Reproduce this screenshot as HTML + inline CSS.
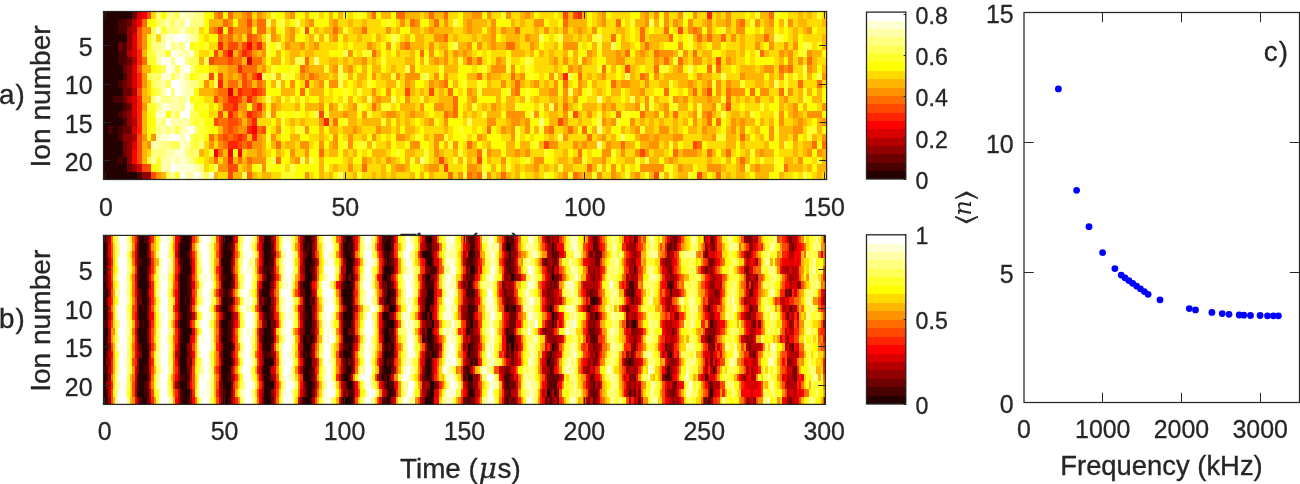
<!DOCTYPE html><html><head><meta charset="utf-8"><style>html,body{margin:0;padding:0;background:#fff;width:1300px;height:484px;overflow:hidden}
.tk{font-family:"Liberation Sans",Arial,sans-serif;font-size:24.9px;fill:#262626;stroke:#262626;stroke-width:0.3px}
.tkc{font-family:"Liberation Sans",Arial,sans-serif;font-size:23.2px;fill:#262626;stroke:#262626;stroke-width:0.3px}
.lab{font-family:"Liberation Sans",Arial,sans-serif;font-size:27.8px;fill:#262626;stroke:#262626;stroke-width:0.35px}
.mu{font-family:"DejaVu Math TeX Gyre","Liberation Serif",serif;font-style:normal}
.mth{font-family:"DejaVu Math TeX Gyre","Liberation Serif",serif;font-size:27.3px;fill:#262626}
</style></head><body><svg width="1300" height="484" viewBox="0 0 1300 484" style="position:absolute;left:0;top:0"><rect width="1300" height="484" fill="#fff"/><text transform="translate(460.4,253.4)" class="lab" text-anchor="middle">Time (<tspan class="mu">𝜇</tspan>s)</text><svg x="103.5" y="11.5" width="723.10" height="168.00" viewBox="0 0 151 22" preserveAspectRatio="none" shape-rendering="crispEdges"><path fill="#240000" d="M0 0h6v1h-6zM0 1h3v1h-3zM0 2h3v1h-3zM0 3h5v1h-5zM0 4h3v1h-3zM0 5h3v1h-3zM0 6h3v1h-3zM0 7h4v1h-4zM0 8h4v1h-4zM0 9h3v1h-3zM0 10h4v1h-4zM0 11h2v1h-2zM0 12h4v1h-4zM0 13h3v1h-3zM0 14h4v1h-4zM0 15h1v1h-1zM2 15h1v1h-1zM0 16h3v1h-3zM0 17h4v1h-4zM0 18h4v1h-4zM0 19h3v1h-3zM4 19h1v1h-1zM0 20h5v1h-5zM0 21h7v1h-7z"/><path fill="#490000" d="M3 1h2v1h-2zM3 2h2v1h-2zM4 4h1v1h-1zM3 5h2v1h-2zM3 6h2v1h-2zM4 8h1v1h-1zM3 9h1v1h-1zM2 11h2v1h-2zM4 12h1v1h-1zM3 13h1v1h-1zM4 14h1v1h-1zM1 15h1v1h-1zM3 15h1v1h-1zM3 16h1v1h-1zM3 19h1v1h-1zM7 21h1v1h-1z"/><path fill="#6d0000" d="M6 0h1v1h-1zM5 1h1v1h-1zM3 4h1v1h-1zM5 6h1v1h-1zM4 7h1v1h-1zM4 9h1v1h-1zM4 10h2v1h-2zM4 11h1v1h-1zM5 12h1v1h-1zM4 13h1v1h-1zM4 15h2v1h-2zM4 17h1v1h-1zM4 18h1v1h-1zM5 20h1v1h-1z"/><path fill="#920000" d="M5 2h1v1h-1zM5 3h1v1h-1zM5 4h1v1h-1zM5 7h1v1h-1zM5 8h1v1h-1zM5 9h1v1h-1zM5 13h1v1h-1zM5 14h1v1h-1zM4 16h2v1h-2zM5 17h1v1h-1zM5 18h1v1h-1zM5 19h1v1h-1zM6 20h1v1h-1zM8 21h2v1h-2z"/><path fill="#b60000" d="M6 1h1v1h-1zM6 2h1v1h-1zM5 5h1v1h-1zM6 6h1v1h-1zM6 10h1v1h-1zM5 11h1v1h-1zM6 14h1v1h-1zM6 16h1v1h-1z"/><path fill="#db0000" d="M7 0h1v1h-1zM6 3h1v1h-1zM6 4h1v1h-1zM6 5h1v1h-1zM30 6h1v1h-1zM6 7h1v1h-1zM6 8h1v1h-1zM6 9h1v1h-1zM26 10h1v1h-1zM6 11h1v1h-1zM6 12h1v1h-1zM6 13h1v1h-1zM6 15h1v1h-1zM6 17h1v1h-1zM7 20h1v1h-1z"/><path fill="#ff0000" d="M8 0h1v1h-1zM7 1h1v1h-1zM30 4h1v1h-1zM26 5h1v1h-1zM32 8h1v1h-1zM31 15h1v1h-1zM6 18h1v1h-1zM23 18h1v1h-1zM26 18h1v1h-1zM28 18h1v1h-1zM6 19h1v1h-1z"/><path fill="#ff2400" d="M99 0h1v1h-1zM126 0h1v1h-1zM24 2h1v1h-1zM24 4h1v1h-1zM32 4h1v1h-1zM7 5h1v1h-1zM29 5h1v1h-1zM7 6h1v1h-1zM28 7h1v1h-1zM7 8h1v1h-1zM96 8h1v1h-1zM7 9h1v1h-1zM24 9h1v1h-1zM28 10h1v1h-1zM31 10h1v1h-1zM7 11h1v1h-1zM26 11h2v1h-2zM30 11h1v1h-1zM7 12h1v1h-1zM27 12h1v1h-1zM32 12h1v1h-1zM7 13h1v1h-1zM26 13h1v1h-1zM30 13h1v1h-1zM7 14h1v1h-1zM31 14h1v1h-1zM46 14h1v1h-1zM7 15h1v1h-1zM30 15h1v1h-1zM28 16h1v1h-1zM31 16h1v1h-1zM26 17h2v1h-2zM26 19h1v1h-1z"/><path fill="#ff4900" d="M9 0h1v1h-1zM96 0h1v1h-1zM98 0h1v1h-1zM30 1h1v1h-1zM7 2h1v1h-1zM26 2h1v1h-1zM42 2h1v1h-1zM120 2h1v1h-1zM7 3h1v1h-1zM30 3h1v1h-1zM7 4h1v1h-1zM26 4h2v1h-2zM29 4h1v1h-1zM23 5h1v1h-1zM25 5h1v1h-1zM30 5h1v1h-1zM22 6h1v1h-1zM26 6h1v1h-1zM128 6h1v1h-1zM7 7h1v1h-1zM109 7h1v1h-1zM22 8h1v1h-1zM24 8h1v1h-1zM29 8h1v1h-1zM31 8h1v1h-1zM29 9h1v1h-1zM42 9h1v1h-1zM7 10h1v1h-1zM29 10h2v1h-2zM32 10h1v1h-1zM63 10h1v1h-1zM68 10h1v1h-1zM126 10h1v1h-1zM23 11h1v1h-1zM28 11h1v1h-1zM25 12h2v1h-2zM130 12h1v1h-1zM24 13h1v1h-1zM31 13h1v1h-1zM45 13h1v1h-1zM98 13h1v1h-1zM23 14h1v1h-1zM26 14h2v1h-2zM95 14h1v1h-1zM26 15h1v1h-1zM33 15h1v1h-1zM7 16h1v1h-1zM25 16h1v1h-1zM27 16h1v1h-1zM29 16h1v1h-1zM7 17h1v1h-1zM28 17h1v1h-1zM30 17h1v1h-1zM92 17h1v1h-1zM123 17h1v1h-1zM7 18h1v1h-1zM112 18h1v1h-1zM7 19h1v1h-1zM70 19h1v1h-1zM78 19h1v1h-1zM8 20h2v1h-2zM26 20h2v1h-2zM71 20h1v1h-1zM10 21h1v1h-1zM26 21h1v1h-1zM115 21h1v1h-1zM124 21h1v1h-1z"/><path fill="#ff6d00" d="M24 0h1v1h-1zM26 0h1v1h-1zM30 0h1v1h-1zM56 0h1v1h-1zM61 0h2v1h-2zM68 0h1v1h-1zM71 0h1v1h-1zM139 0h1v1h-1zM8 1h1v1h-1zM25 1h1v1h-1zM32 1h2v1h-2zM64 1h1v1h-1zM69 1h1v1h-1zM96 1h1v1h-1zM107 1h1v1h-1zM133 1h1v1h-1zM23 2h1v1h-1zM30 2h1v1h-1zM32 2h2v1h-2zM48 2h1v1h-1zM54 2h1v1h-1zM86 2h1v1h-1zM112 2h1v1h-1zM117 2h1v1h-1zM123 2h1v1h-1zM24 3h1v1h-1zM26 3h1v1h-1zM31 3h1v1h-1zM71 3h1v1h-1zM106 3h1v1h-1zM112 3h1v1h-1zM118 3h1v1h-1zM124 3h1v1h-1zM126 3h1v1h-1zM129 3h1v1h-1zM138 3h1v1h-1zM31 4h1v1h-1zM63 4h1v1h-1zM84 4h2v1h-2zM113 4h1v1h-1zM28 5h1v1h-1zM56 5h1v1h-1zM66 5h1v1h-1zM109 5h1v1h-1zM115 5h1v1h-1zM123 5h1v1h-1zM137 5h1v1h-1zM8 6h1v1h-1zM23 6h3v1h-3zM27 6h2v1h-2zM31 6h2v1h-2zM42 6h1v1h-1zM76 6h1v1h-1zM78 6h1v1h-1zM117 6h1v1h-1zM120 6h1v1h-1zM147 6h1v1h-1zM29 7h3v1h-3zM41 7h1v1h-1zM104 7h1v1h-1zM115 7h1v1h-1zM126 7h1v1h-1zM128 7h1v1h-1zM141 7h1v1h-1zM143 7h1v1h-1zM43 8h1v1h-1zM78 8h1v1h-1zM85 8h1v1h-1zM99 8h1v1h-1zM112 8h1v1h-1zM26 9h2v1h-2zM30 9h1v1h-1zM32 9h1v1h-1zM71 9h1v1h-1zM86 9h1v1h-1zM96 9h1v1h-1zM106 9h1v1h-1zM145 9h1v1h-1zM149 9h1v1h-1zM24 10h2v1h-2zM33 10h1v1h-1zM41 10h1v1h-1zM72 10h1v1h-1zM86 10h1v1h-1zM117 10h1v1h-1zM123 10h1v1h-1zM130 10h1v1h-1zM135 10h1v1h-1zM141 10h1v1h-1zM25 11h1v1h-1zM31 11h1v1h-1zM73 11h1v1h-1zM130 11h1v1h-1zM31 12h1v1h-1zM56 12h1v1h-1zM73 12h1v1h-1zM96 12h1v1h-1zM27 13h1v1h-1zM32 13h1v1h-1zM71 13h1v1h-1zM73 13h1v1h-1zM107 13h1v1h-1zM112 13h1v1h-1zM119 13h1v1h-1zM126 13h1v1h-1zM24 14h2v1h-2zM28 14h1v1h-1zM30 14h1v1h-1zM48 14h1v1h-1zM126 14h1v1h-1zM128 14h1v1h-1zM25 15h1v1h-1zM27 15h1v1h-1zM32 15h1v1h-1zM80 15h1v1h-1zM93 15h1v1h-1zM97 15h1v1h-1zM100 15h1v1h-1zM22 16h1v1h-1zM24 16h1v1h-1zM26 16h1v1h-1zM101 16h1v1h-1zM133 16h1v1h-1zM25 17h1v1h-1zM29 17h1v1h-1zM36 17h1v1h-1zM76 17h1v1h-1zM108 17h1v1h-1zM124 17h1v1h-1zM148 17h1v1h-1zM150 17h1v1h-1zM24 18h1v1h-1zM45 18h1v1h-1zM78 18h1v1h-1zM99 18h1v1h-1zM119 18h1v1h-1zM126 18h1v1h-1zM130 18h1v1h-1zM23 19h1v1h-1zM28 19h1v1h-1zM30 19h1v1h-1zM36 19h1v1h-1zM133 19h1v1h-1zM54 20h1v1h-1zM101 20h1v1h-1zM142 20h1v1h-1zM30 21h1v1h-1zM72 21h1v1h-1zM76 21h1v1h-1zM78 21h1v1h-1zM83 21h1v1h-1zM98 21h1v1h-1zM128 21h1v1h-1z"/><path fill="#ff9200" d="M23 0h1v1h-1zM29 0h1v1h-1zM32 0h1v1h-1zM39 0h1v1h-1zM77 0h2v1h-2zM80 0h1v1h-1zM84 0h1v1h-1zM88 0h1v1h-1zM104 0h1v1h-1zM113 0h1v1h-1zM115 0h1v1h-1zM117 0h1v1h-1zM120 0h1v1h-1zM123 0h1v1h-1zM130 0h1v1h-1zM26 1h1v1h-1zM28 1h2v1h-2zM43 1h1v1h-1zM48 1h1v1h-1zM62 1h1v1h-1zM65 1h1v1h-1zM71 1h1v1h-1zM76 1h1v1h-1zM81 1h1v1h-1zM90 1h2v1h-2zM104 1h1v1h-1zM113 1h1v1h-1zM117 1h1v1h-1zM119 1h1v1h-1zM122 1h1v1h-1zM126 1h1v1h-1zM130 1h1v1h-1zM132 1h1v1h-1zM136 1h1v1h-1zM139 1h1v1h-1zM143 1h1v1h-1zM8 2h2v1h-2zM22 2h1v1h-1zM27 2h3v1h-3zM35 2h1v1h-1zM39 2h1v1h-1zM59 2h1v1h-1zM68 2h1v1h-1zM76 2h1v1h-1zM81 2h1v1h-1zM83 2h1v1h-1zM92 2h1v1h-1zM96 2h1v1h-1zM99 2h1v1h-1zM102 2h1v1h-1zM122 2h1v1h-1zM124 2h1v1h-1zM126 2h1v1h-1zM132 2h2v1h-2zM147 2h1v1h-1zM8 3h1v1h-1zM25 3h1v1h-1zM28 3h1v1h-1zM32 3h1v1h-1zM35 3h1v1h-1zM39 3h1v1h-1zM48 3h1v1h-1zM69 3h2v1h-2zM81 3h1v1h-1zM88 3h1v1h-1zM131 3h1v1h-1zM8 4h1v1h-1zM25 4h1v1h-1zM28 4h1v1h-1zM33 4h1v1h-1zM38 4h1v1h-1zM41 4h1v1h-1zM44 4h1v1h-1zM55 4h1v1h-1zM59 4h1v1h-1zM62 4h1v1h-1zM68 4h1v1h-1zM76 4h1v1h-1zM78 4h1v1h-1zM81 4h1v1h-1zM89 4h1v1h-1zM96 4h3v1h-3zM120 4h1v1h-1zM136 4h1v1h-1zM139 4h1v1h-1zM142 4h1v1h-1zM144 4h1v1h-1zM31 5h1v1h-1zM33 5h1v1h-1zM51 5h1v1h-1zM68 5h1v1h-1zM71 5h1v1h-1zM73 5h1v1h-1zM75 5h1v1h-1zM101 5h1v1h-1zM107 5h1v1h-1zM112 5h1v1h-1zM116 5h3v1h-3zM121 5h1v1h-1zM141 5h1v1h-1zM143 5h1v1h-1zM147 5h1v1h-1zM54 6h1v1h-1zM69 6h1v1h-1zM71 6h1v1h-1zM82 6h1v1h-1zM94 6h1v1h-1zM96 6h1v1h-1zM100 6h1v1h-1zM107 6h2v1h-2zM115 6h1v1h-1zM123 6h2v1h-2zM130 6h1v1h-1zM143 6h1v1h-1zM145 6h1v1h-1zM26 7h2v1h-2zM33 7h1v1h-1zM42 7h1v1h-1zM48 7h1v1h-1zM51 7h1v1h-1zM64 7h1v1h-1zM81 7h3v1h-3zM85 7h1v1h-1zM97 7h1v1h-1zM99 7h1v1h-1zM120 7h1v1h-1zM138 7h2v1h-2zM142 7h1v1h-1zM147 7h1v1h-1zM8 8h1v1h-1zM26 8h1v1h-1zM28 8h1v1h-1zM30 8h1v1h-1zM41 8h1v1h-1zM44 8h1v1h-1zM56 8h1v1h-1zM61 8h1v1h-1zM63 8h3v1h-3zM69 8h1v1h-1zM71 8h1v1h-1zM80 8h1v1h-1zM87 8h1v1h-1zM93 8h1v1h-1zM104 8h1v1h-1zM113 8h1v1h-1zM115 8h1v1h-1zM124 8h1v1h-1zM133 8h1v1h-1zM141 8h1v1h-1zM150 8h1v1h-1zM8 9h1v1h-1zM21 9h1v1h-1zM33 9h1v1h-1zM39 9h1v1h-1zM45 9h1v1h-1zM47 9h2v1h-2zM63 9h1v1h-1zM68 9h1v1h-1zM70 9h1v1h-1zM83 9h1v1h-1zM90 9h1v1h-1zM94 9h1v1h-1zM99 9h1v1h-1zM108 9h2v1h-2zM113 9h1v1h-1zM122 9h1v1h-1zM126 9h1v1h-1zM128 9h1v1h-1zM130 9h1v1h-1zM23 10h1v1h-1zM27 10h1v1h-1zM56 10h1v1h-1zM59 10h1v1h-1zM76 10h1v1h-1zM85 10h1v1h-1zM93 10h2v1h-2zM96 10h1v1h-1zM99 10h1v1h-1zM112 10h1v1h-1zM125 10h1v1h-1zM128 10h1v1h-1zM131 10h3v1h-3zM137 10h2v1h-2zM143 10h1v1h-1zM24 11h1v1h-1zM29 11h1v1h-1zM57 11h1v1h-1zM63 11h1v1h-1zM77 11h1v1h-1zM96 11h1v1h-1zM98 11h1v1h-1zM113 11h1v1h-1zM119 11h1v1h-1zM121 11h1v1h-1zM126 11h1v1h-1zM136 11h1v1h-1zM142 11h1v1h-1zM8 12h1v1h-1zM28 12h2v1h-2zM33 12h1v1h-1zM35 12h1v1h-1zM45 12h1v1h-1zM47 12h1v1h-1zM52 12h1v1h-1zM66 12h1v1h-1zM69 12h2v1h-2zM81 12h1v1h-1zM94 12h1v1h-1zM104 12h1v1h-1zM106 12h1v1h-1zM111 12h1v1h-1zM113 12h1v1h-1zM117 12h1v1h-1zM127 12h1v1h-1zM144 12h1v1h-1zM150 12h1v1h-1zM29 13h1v1h-1zM35 13h1v1h-1zM50 13h1v1h-1zM54 13h1v1h-1zM59 13h2v1h-2zM64 13h1v1h-1zM72 13h1v1h-1zM84 13h4v1h-4zM90 13h1v1h-1zM96 13h1v1h-1zM101 13h1v1h-1zM115 13h1v1h-1zM117 13h1v1h-1zM123 13h1v1h-1zM125 13h1v1h-1zM141 13h1v1h-1zM144 13h1v1h-1zM147 13h3v1h-3zM45 14h1v1h-1zM68 14h1v1h-1zM71 14h1v1h-1zM80 14h2v1h-2zM85 14h2v1h-2zM88 14h1v1h-1zM96 14h1v1h-1zM104 14h1v1h-1zM106 14h1v1h-1zM110 14h1v1h-1zM123 14h1v1h-1zM131 14h1v1h-1zM133 14h1v1h-1zM141 14h1v1h-1zM145 14h1v1h-1zM150 14h1v1h-1zM28 15h2v1h-2zM36 15h1v1h-1zM42 15h1v1h-1zM52 15h1v1h-1zM57 15h1v1h-1zM83 15h1v1h-1zM85 15h1v1h-1zM88 15h1v1h-1zM92 15h1v1h-1zM111 15h1v1h-1zM116 15h2v1h-2zM125 15h1v1h-1zM131 15h1v1h-1zM133 15h1v1h-1zM139 15h1v1h-1zM144 15h2v1h-2zM8 16h1v1h-1zM10 16h1v1h-1zM32 16h1v1h-1zM35 16h1v1h-1zM48 16h1v1h-1zM51 16h1v1h-1zM56 16h1v1h-1zM61 16h2v1h-2zM69 16h2v1h-2zM78 16h1v1h-1zM85 16h1v1h-1zM96 16h1v1h-1zM104 16h1v1h-1zM112 16h2v1h-2zM115 16h1v1h-1zM119 16h2v1h-2zM127 16h1v1h-1zM139 16h1v1h-1zM144 16h1v1h-1zM150 16h1v1h-1zM9 17h1v1h-1zM22 17h1v1h-1zM24 17h1v1h-1zM31 17h2v1h-2zM41 17h2v1h-2zM45 17h1v1h-1zM48 17h1v1h-1zM51 17h1v1h-1zM64 17h2v1h-2zM69 17h1v1h-1zM73 17h1v1h-1zM93 17h2v1h-2zM98 17h1v1h-1zM100 17h1v1h-1zM105 17h1v1h-1zM114 17h2v1h-2zM32 18h1v1h-1zM39 18h1v1h-1zM42 18h1v1h-1zM69 18h1v1h-1zM80 18h1v1h-1zM86 18h1v1h-1zM88 18h1v1h-1zM104 18h2v1h-2zM108 18h1v1h-1zM111 18h1v1h-1zM113 18h1v1h-1zM121 18h3v1h-3zM137 18h1v1h-1zM147 18h1v1h-1zM149 18h1v1h-1zM25 19h1v1h-1zM31 19h3v1h-3zM40 19h1v1h-1zM54 19h1v1h-1zM59 19h1v1h-1zM83 19h1v1h-1zM90 19h2v1h-2zM98 19h2v1h-2zM104 19h1v1h-1zM118 19h1v1h-1zM145 19h1v1h-1zM24 20h2v1h-2zM30 20h1v1h-1zM33 20h1v1h-1zM51 20h1v1h-1zM61 20h2v1h-2zM68 20h2v1h-2zM76 20h2v1h-2zM90 20h1v1h-1zM106 20h1v1h-1zM112 20h5v1h-5zM120 20h1v1h-1zM126 20h3v1h-3zM133 20h1v1h-1zM136 20h1v1h-1zM11 21h1v1h-1zM42 21h1v1h-1zM74 21h1v1h-1zM77 21h1v1h-1zM80 21h1v1h-1zM96 21h1v1h-1zM99 21h1v1h-1zM103 21h1v1h-1zM106 21h1v1h-1zM111 21h1v1h-1z"/><path fill="#ffb600" d="M27 0h2v1h-2zM33 0h1v1h-1zM38 0h1v1h-1zM42 0h1v1h-1zM47 0h1v1h-1zM49 0h1v1h-1zM55 0h1v1h-1zM58 0h2v1h-2zM63 0h3v1h-3zM67 0h1v1h-1zM69 0h2v1h-2zM75 0h2v1h-2zM87 0h1v1h-1zM89 0h1v1h-1zM97 0h1v1h-1zM100 0h1v1h-1zM103 0h1v1h-1zM112 0h1v1h-1zM128 0h1v1h-1zM137 0h2v1h-2zM145 0h1v1h-1zM147 0h1v1h-1zM22 1h3v1h-3zM31 1h1v1h-1zM35 1h1v1h-1zM42 1h1v1h-1zM47 1h1v1h-1zM51 1h1v1h-1zM54 1h1v1h-1zM68 1h1v1h-1zM75 1h1v1h-1zM77 1h3v1h-3zM85 1h1v1h-1zM87 1h1v1h-1zM97 1h4v1h-4zM103 1h1v1h-1zM111 1h2v1h-2zM115 1h1v1h-1zM120 1h1v1h-1zM125 1h1v1h-1zM128 1h2v1h-2zM138 1h1v1h-1zM141 1h1v1h-1zM145 1h2v1h-2zM150 1h1v1h-1zM38 2h1v1h-1zM44 2h1v1h-1zM46 2h2v1h-2zM49 2h1v1h-1zM52 2h2v1h-2zM61 2h1v1h-1zM64 2h2v1h-2zM67 2h1v1h-1zM69 2h4v1h-4zM75 2h1v1h-1zM77 2h2v1h-2zM80 2h1v1h-1zM84 2h2v1h-2zM90 2h1v1h-1zM94 2h1v1h-1zM98 2h1v1h-1zM100 2h1v1h-1zM107 2h2v1h-2zM130 2h1v1h-1zM138 2h2v1h-2zM144 2h1v1h-1zM146 2h1v1h-1zM27 3h1v1h-1zM36 3h1v1h-1zM38 3h1v1h-1zM43 3h1v1h-1zM45 3h1v1h-1zM47 3h1v1h-1zM50 3h1v1h-1zM53 3h1v1h-1zM57 3h1v1h-1zM63 3h1v1h-1zM65 3h2v1h-2zM73 3h1v1h-1zM77 3h1v1h-1zM79 3h2v1h-2zM84 3h3v1h-3zM89 3h2v1h-2zM96 3h2v1h-2zM99 3h1v1h-1zM101 3h1v1h-1zM108 3h1v1h-1zM114 3h4v1h-4zM123 3h1v1h-1zM125 3h1v1h-1zM127 3h2v1h-2zM133 3h1v1h-1zM136 3h2v1h-2zM139 3h1v1h-1zM144 3h1v1h-1zM150 3h1v1h-1zM39 4h2v1h-2zM43 4h1v1h-1zM56 4h1v1h-1zM64 4h3v1h-3zM70 4h2v1h-2zM74 4h2v1h-2zM80 4h1v1h-1zM82 4h2v1h-2zM86 4h1v1h-1zM90 4h1v1h-1zM94 4h1v1h-1zM102 4h1v1h-1zM104 4h2v1h-2zM108 4h2v1h-2zM112 4h1v1h-1zM114 4h2v1h-2zM124 4h1v1h-1zM127 4h2v1h-2zM133 4h1v1h-1zM150 4h1v1h-1zM8 5h1v1h-1zM24 5h1v1h-1zM27 5h1v1h-1zM32 5h1v1h-1zM36 5h1v1h-1zM39 5h2v1h-2zM42 5h2v1h-2zM57 5h1v1h-1zM61 5h1v1h-1zM64 5h1v1h-1zM74 5h1v1h-1zM76 5h1v1h-1zM85 5h3v1h-3zM89 5h1v1h-1zM91 5h1v1h-1zM93 5h1v1h-1zM96 5h1v1h-1zM98 5h1v1h-1zM102 5h1v1h-1zM104 5h3v1h-3zM108 5h1v1h-1zM111 5h1v1h-1zM113 5h1v1h-1zM119 5h1v1h-1zM125 5h2v1h-2zM130 5h2v1h-2zM133 5h1v1h-1zM138 5h1v1h-1zM142 5h1v1h-1zM148 5h2v1h-2zM20 6h1v1h-1zM29 6h1v1h-1zM33 6h1v1h-1zM35 6h2v1h-2zM39 6h1v1h-1zM47 6h2v1h-2zM50 6h1v1h-1zM52 6h2v1h-2zM56 6h1v1h-1zM63 6h2v1h-2zM66 6h1v1h-1zM68 6h1v1h-1zM70 6h1v1h-1zM73 6h1v1h-1zM75 6h1v1h-1zM77 6h1v1h-1zM83 6h1v1h-1zM93 6h1v1h-1zM98 6h1v1h-1zM101 6h1v1h-1zM105 6h2v1h-2zM111 6h2v1h-2zM116 6h1v1h-1zM118 6h1v1h-1zM121 6h1v1h-1zM126 6h1v1h-1zM131 6h1v1h-1zM141 6h1v1h-1zM148 6h1v1h-1zM8 7h2v1h-2zM24 7h2v1h-2zM32 7h1v1h-1zM43 7h3v1h-3zM47 7h1v1h-1zM50 7h1v1h-1zM54 7h1v1h-1zM56 7h2v1h-2zM60 7h1v1h-1zM71 7h3v1h-3zM94 7h1v1h-1zM98 7h1v1h-1zM106 7h1v1h-1zM110 7h1v1h-1zM119 7h1v1h-1zM133 7h3v1h-3zM137 7h1v1h-1zM148 7h1v1h-1zM150 7h1v1h-1zM25 8h1v1h-1zM27 8h1v1h-1zM36 8h1v1h-1zM42 8h1v1h-1zM45 8h2v1h-2zM48 8h1v1h-1zM51 8h1v1h-1zM53 8h2v1h-2zM58 8h2v1h-2zM76 8h2v1h-2zM81 8h2v1h-2zM86 8h1v1h-1zM95 8h1v1h-1zM101 8h1v1h-1zM103 8h1v1h-1zM110 8h1v1h-1zM117 8h5v1h-5zM125 8h2v1h-2zM134 8h4v1h-4zM139 8h1v1h-1zM147 8h1v1h-1zM25 9h1v1h-1zM28 9h1v1h-1zM31 9h1v1h-1zM35 9h1v1h-1zM37 9h1v1h-1zM44 9h1v1h-1zM53 9h1v1h-1zM59 9h2v1h-2zM64 9h1v1h-1zM69 9h1v1h-1zM73 9h1v1h-1zM80 9h1v1h-1zM85 9h1v1h-1zM87 9h1v1h-1zM89 9h1v1h-1zM92 9h1v1h-1zM100 9h1v1h-1zM102 9h1v1h-1zM107 9h1v1h-1zM110 9h2v1h-2zM116 9h2v1h-2zM120 9h2v1h-2zM123 9h1v1h-1zM125 9h1v1h-1zM131 9h2v1h-2zM136 9h2v1h-2zM139 9h1v1h-1zM8 10h1v1h-1zM20 10h3v1h-3zM37 10h3v1h-3zM43 10h3v1h-3zM64 10h1v1h-1zM66 10h1v1h-1zM70 10h1v1h-1zM77 10h1v1h-1zM79 10h4v1h-4zM91 10h2v1h-2zM98 10h1v1h-1zM103 10h1v1h-1zM106 10h2v1h-2zM110 10h2v1h-2zM122 10h1v1h-1zM145 10h1v1h-1zM147 10h1v1h-1zM149 10h1v1h-1zM8 11h2v1h-2zM32 11h1v1h-1zM36 11h1v1h-1zM45 11h1v1h-1zM51 11h1v1h-1zM54 11h1v1h-1zM56 11h1v1h-1zM58 11h2v1h-2zM67 11h1v1h-1zM70 11h3v1h-3zM76 11h1v1h-1zM82 11h1v1h-1zM84 11h2v1h-2zM87 11h1v1h-1zM90 11h1v1h-1zM93 11h2v1h-2zM105 11h1v1h-1zM111 11h1v1h-1zM115 11h1v1h-1zM120 11h1v1h-1zM123 11h3v1h-3zM127 11h2v1h-2zM132 11h1v1h-1zM134 11h1v1h-1zM139 11h1v1h-1zM141 11h1v1h-1zM145 11h1v1h-1zM148 11h2v1h-2zM24 12h1v1h-1zM36 12h1v1h-1zM40 12h1v1h-1zM42 12h3v1h-3zM48 12h1v1h-1zM51 12h1v1h-1zM57 12h1v1h-1zM62 12h3v1h-3zM71 12h2v1h-2zM76 12h1v1h-1zM79 12h1v1h-1zM82 12h1v1h-1zM84 12h2v1h-2zM92 12h1v1h-1zM97 12h1v1h-1zM100 12h3v1h-3zM105 12h1v1h-1zM109 12h2v1h-2zM116 12h1v1h-1zM120 12h2v1h-2zM123 12h1v1h-1zM125 12h2v1h-2zM129 12h1v1h-1zM141 12h1v1h-1zM143 12h1v1h-1zM146 12h1v1h-1zM8 13h1v1h-1zM28 13h1v1h-1zM33 13h1v1h-1zM47 13h3v1h-3zM51 13h2v1h-2zM58 13h1v1h-1zM61 13h1v1h-1zM63 13h1v1h-1zM65 13h2v1h-2zM75 13h1v1h-1zM77 13h1v1h-1zM80 13h3v1h-3zM93 13h2v1h-2zM99 13h1v1h-1zM104 13h1v1h-1zM113 13h2v1h-2zM122 13h1v1h-1zM127 13h1v1h-1zM131 13h2v1h-2zM134 13h1v1h-1zM143 13h1v1h-1zM145 13h1v1h-1zM8 14h1v1h-1zM29 14h1v1h-1zM36 14h1v1h-1zM39 14h1v1h-1zM41 14h1v1h-1zM51 14h2v1h-2zM54 14h4v1h-4zM59 14h1v1h-1zM61 14h1v1h-1zM63 14h1v1h-1zM67 14h1v1h-1zM84 14h1v1h-1zM87 14h1v1h-1zM93 14h2v1h-2zM99 14h1v1h-1zM105 14h1v1h-1zM112 14h1v1h-1zM114 14h1v1h-1zM116 14h1v1h-1zM119 14h1v1h-1zM121 14h1v1h-1zM125 14h1v1h-1zM132 14h1v1h-1zM134 14h2v1h-2zM137 14h1v1h-1zM139 14h1v1h-1zM144 14h1v1h-1zM146 14h1v1h-1zM149 14h1v1h-1zM8 15h1v1h-1zM24 15h1v1h-1zM45 15h1v1h-1zM47 15h2v1h-2zM50 15h2v1h-2zM53 15h1v1h-1zM58 15h2v1h-2zM61 15h1v1h-1zM63 15h2v1h-2zM71 15h1v1h-1zM84 15h1v1h-1zM90 15h1v1h-1zM96 15h1v1h-1zM98 15h1v1h-1zM102 15h1v1h-1zM105 15h1v1h-1zM108 15h1v1h-1zM110 15h1v1h-1zM113 15h2v1h-2zM119 15h1v1h-1zM122 15h2v1h-2zM126 15h2v1h-2zM130 15h1v1h-1zM136 15h1v1h-1zM141 15h3v1h-3zM149 15h1v1h-1zM23 16h1v1h-1zM30 16h1v1h-1zM33 16h1v1h-1zM39 16h2v1h-2zM45 16h1v1h-1zM54 16h1v1h-1zM63 16h1v1h-1zM67 16h1v1h-1zM79 16h1v1h-1zM93 16h1v1h-1zM103 16h1v1h-1zM106 16h1v1h-1zM111 16h1v1h-1zM114 16h1v1h-1zM116 16h3v1h-3zM125 16h2v1h-2zM130 16h2v1h-2zM134 16h1v1h-1zM137 16h1v1h-1zM141 16h2v1h-2zM148 16h1v1h-1zM8 17h1v1h-1zM33 17h1v1h-1zM35 17h1v1h-1zM38 17h2v1h-2zM47 17h1v1h-1zM55 17h1v1h-1zM59 17h1v1h-1zM71 17h1v1h-1zM77 17h1v1h-1zM80 17h1v1h-1zM84 17h2v1h-2zM87 17h2v1h-2zM91 17h1v1h-1zM99 17h1v1h-1zM101 17h2v1h-2zM106 17h2v1h-2zM109 17h2v1h-2zM112 17h2v1h-2zM117 17h1v1h-1zM119 17h1v1h-1zM130 17h2v1h-2zM133 17h1v1h-1zM138 17h1v1h-1zM141 17h1v1h-1zM144 17h1v1h-1zM146 17h2v1h-2zM8 18h1v1h-1zM20 18h1v1h-1zM25 18h1v1h-1zM30 18h2v1h-2zM33 18h1v1h-1zM36 18h1v1h-1zM47 18h2v1h-2zM50 18h1v1h-1zM52 18h1v1h-1zM56 18h3v1h-3zM63 18h2v1h-2zM70 18h1v1h-1zM73 18h1v1h-1zM76 18h2v1h-2zM81 18h2v1h-2zM84 18h2v1h-2zM87 18h1v1h-1zM96 18h1v1h-1zM115 18h2v1h-2zM120 18h1v1h-1zM124 18h1v1h-1zM127 18h1v1h-1zM129 18h1v1h-1zM134 18h1v1h-1zM136 18h1v1h-1zM138 18h2v1h-2zM144 18h1v1h-1zM146 18h1v1h-1zM150 18h1v1h-1zM8 19h1v1h-1zM22 19h1v1h-1zM27 19h1v1h-1zM29 19h1v1h-1zM39 19h1v1h-1zM42 19h1v1h-1zM45 19h1v1h-1zM51 19h1v1h-1zM55 19h1v1h-1zM57 19h1v1h-1zM60 19h1v1h-1zM63 19h1v1h-1zM65 19h1v1h-1zM69 19h1v1h-1zM71 19h1v1h-1zM74 19h1v1h-1zM76 19h1v1h-1zM80 19h1v1h-1zM95 19h2v1h-2zM102 19h2v1h-2zM109 19h2v1h-2zM114 19h2v1h-2zM117 19h1v1h-1zM119 19h1v1h-1zM126 19h1v1h-1zM130 19h1v1h-1zM132 19h1v1h-1zM134 19h1v1h-1zM142 19h2v1h-2zM150 19h1v1h-1zM29 20h1v1h-1zM45 20h1v1h-1zM48 20h1v1h-1zM58 20h1v1h-1zM60 20h1v1h-1zM63 20h1v1h-1zM67 20h1v1h-1zM78 20h1v1h-1zM81 20h1v1h-1zM83 20h1v1h-1zM86 20h1v1h-1zM88 20h2v1h-2zM92 20h1v1h-1zM94 20h1v1h-1zM96 20h2v1h-2zM102 20h1v1h-1zM104 20h1v1h-1zM108 20h1v1h-1zM121 20h2v1h-2zM129 20h1v1h-1zM132 20h1v1h-1zM135 20h1v1h-1zM137 20h3v1h-3zM143 20h3v1h-3zM147 20h1v1h-1zM149 20h2v1h-2zM12 21h1v1h-1zM23 21h1v1h-1zM27 21h2v1h-2zM31 21h1v1h-1zM33 21h2v1h-2zM45 21h1v1h-1zM47 21h1v1h-1zM52 21h1v1h-1zM56 21h1v1h-1zM58 21h1v1h-1zM60 21h1v1h-1zM64 21h1v1h-1zM66 21h1v1h-1zM68 21h1v1h-1zM82 21h1v1h-1zM84 21h1v1h-1zM86 21h1v1h-1zM90 21h1v1h-1zM95 21h1v1h-1zM100 21h2v1h-2zM107 21h1v1h-1zM110 21h1v1h-1zM114 21h1v1h-1zM117 21h1v1h-1zM120 21h2v1h-2zM125 21h1v1h-1zM130 21h1v1h-1zM132 21h2v1h-2zM136 21h3v1h-3zM141 21h1v1h-1zM149 21h1v1h-1z"/><path fill="#ffdb00" d="M10 0h1v1h-1zM31 0h1v1h-1zM34 0h1v1h-1zM45 0h1v1h-1zM51 0h1v1h-1zM66 0h1v1h-1zM72 0h2v1h-2zM81 0h2v1h-2zM85 0h2v1h-2zM91 0h3v1h-3zM95 0h1v1h-1zM102 0h1v1h-1zM106 0h4v1h-4zM114 0h1v1h-1zM118 0h2v1h-2zM124 0h2v1h-2zM127 0h1v1h-1zM129 0h1v1h-1zM131 0h3v1h-3zM135 0h1v1h-1zM143 0h2v1h-2zM146 0h1v1h-1zM148 0h1v1h-1zM150 0h1v1h-1zM38 1h1v1h-1zM41 1h1v1h-1zM49 1h2v1h-2zM52 1h2v1h-2zM55 1h3v1h-3zM61 1h1v1h-1zM63 1h1v1h-1zM70 1h1v1h-1zM72 1h1v1h-1zM80 1h1v1h-1zM86 1h1v1h-1zM88 1h2v1h-2zM93 1h2v1h-2zM102 1h1v1h-1zM105 1h2v1h-2zM109 1h1v1h-1zM118 1h1v1h-1zM123 1h2v1h-2zM127 1h1v1h-1zM131 1h1v1h-1zM134 1h1v1h-1zM137 1h1v1h-1zM144 1h1v1h-1zM147 1h3v1h-3zM20 2h1v1h-1zM34 2h1v1h-1zM40 2h1v1h-1zM45 2h1v1h-1zM51 2h1v1h-1zM55 2h4v1h-4zM60 2h1v1h-1zM66 2h1v1h-1zM73 2h2v1h-2zM82 2h1v1h-1zM87 2h3v1h-3zM91 2h1v1h-1zM93 2h1v1h-1zM95 2h1v1h-1zM97 2h1v1h-1zM101 2h1v1h-1zM104 2h3v1h-3zM109 2h1v1h-1zM111 2h1v1h-1zM113 2h1v1h-1zM115 2h2v1h-2zM119 2h1v1h-1zM121 2h1v1h-1zM127 2h1v1h-1zM131 2h1v1h-1zM136 2h1v1h-1zM141 2h1v1h-1zM143 2h1v1h-1zM145 2h1v1h-1zM149 2h2v1h-2zM11 3h1v1h-1zM21 3h1v1h-1zM29 3h1v1h-1zM33 3h1v1h-1zM42 3h1v1h-1zM51 3h2v1h-2zM54 3h2v1h-2zM58 3h1v1h-1zM62 3h1v1h-1zM67 3h2v1h-2zM72 3h1v1h-1zM74 3h3v1h-3zM78 3h1v1h-1zM83 3h1v1h-1zM87 3h1v1h-1zM93 3h1v1h-1zM98 3h1v1h-1zM100 3h1v1h-1zM104 3h2v1h-2zM109 3h1v1h-1zM111 3h1v1h-1zM113 3h1v1h-1zM120 3h1v1h-1zM130 3h1v1h-1zM132 3h1v1h-1zM134 3h2v1h-2zM143 3h1v1h-1zM146 3h4v1h-4zM22 4h2v1h-2zM37 4h1v1h-1zM42 4h1v1h-1zM45 4h4v1h-4zM50 4h1v1h-1zM52 4h3v1h-3zM57 4h1v1h-1zM61 4h1v1h-1zM67 4h1v1h-1zM69 4h1v1h-1zM79 4h1v1h-1zM87 4h2v1h-2zM92 4h2v1h-2zM100 4h1v1h-1zM110 4h1v1h-1zM116 4h1v1h-1zM123 4h1v1h-1zM125 4h1v1h-1zM130 4h3v1h-3zM134 4h2v1h-2zM137 4h1v1h-1zM140 4h2v1h-2zM143 4h1v1h-1zM148 4h1v1h-1zM20 5h2v1h-2zM38 5h1v1h-1zM41 5h1v1h-1zM44 5h3v1h-3zM53 5h1v1h-1zM59 5h1v1h-1zM62 5h2v1h-2zM70 5h1v1h-1zM72 5h1v1h-1zM77 5h1v1h-1zM79 5h1v1h-1zM81 5h3v1h-3zM88 5h1v1h-1zM92 5h1v1h-1zM94 5h2v1h-2zM114 5h1v1h-1zM122 5h1v1h-1zM124 5h1v1h-1zM129 5h1v1h-1zM132 5h1v1h-1zM135 5h1v1h-1zM139 5h2v1h-2zM144 5h1v1h-1zM38 6h1v1h-1zM43 6h1v1h-1zM45 6h2v1h-2zM49 6h1v1h-1zM51 6h1v1h-1zM55 6h1v1h-1zM57 6h1v1h-1zM59 6h4v1h-4zM72 6h1v1h-1zM79 6h1v1h-1zM81 6h1v1h-1zM85 6h2v1h-2zM90 6h3v1h-3zM95 6h1v1h-1zM97 6h1v1h-1zM102 6h1v1h-1zM109 6h2v1h-2zM113 6h2v1h-2zM122 6h1v1h-1zM125 6h1v1h-1zM127 6h1v1h-1zM129 6h1v1h-1zM132 6h2v1h-2zM135 6h1v1h-1zM140 6h1v1h-1zM144 6h1v1h-1zM146 6h1v1h-1zM149 6h2v1h-2zM22 7h2v1h-2zM34 7h1v1h-1zM52 7h1v1h-1zM59 7h1v1h-1zM61 7h2v1h-2zM66 7h4v1h-4zM77 7h1v1h-1zM80 7h1v1h-1zM87 7h1v1h-1zM90 7h4v1h-4zM95 7h1v1h-1zM100 7h3v1h-3zM108 7h1v1h-1zM111 7h1v1h-1zM113 7h2v1h-2zM118 7h1v1h-1zM123 7h1v1h-1zM129 7h2v1h-2zM132 7h1v1h-1zM136 7h1v1h-1zM140 7h1v1h-1zM144 7h2v1h-2zM40 8h1v1h-1zM47 8h1v1h-1zM57 8h1v1h-1zM62 8h1v1h-1zM68 8h1v1h-1zM72 8h2v1h-2zM79 8h1v1h-1zM83 8h2v1h-2zM91 8h1v1h-1zM100 8h1v1h-1zM102 8h1v1h-1zM105 8h2v1h-2zM108 8h1v1h-1zM111 8h1v1h-1zM116 8h1v1h-1zM123 8h1v1h-1zM127 8h2v1h-2zM130 8h3v1h-3zM140 8h1v1h-1zM143 8h1v1h-1zM145 8h1v1h-1zM9 9h1v1h-1zM22 9h1v1h-1zM41 9h1v1h-1zM43 9h1v1h-1zM50 9h1v1h-1zM52 9h1v1h-1zM54 9h1v1h-1zM57 9h2v1h-2zM62 9h1v1h-1zM67 9h1v1h-1zM76 9h2v1h-2zM81 9h2v1h-2zM84 9h1v1h-1zM88 9h1v1h-1zM91 9h1v1h-1zM93 9h1v1h-1zM97 9h1v1h-1zM103 9h2v1h-2zM112 9h1v1h-1zM114 9h2v1h-2zM119 9h1v1h-1zM124 9h1v1h-1zM129 9h1v1h-1zM134 9h2v1h-2zM138 9h1v1h-1zM141 9h1v1h-1zM143 9h2v1h-2zM146 9h3v1h-3zM150 9h1v1h-1zM9 10h1v1h-1zM47 10h1v1h-1zM52 10h1v1h-1zM54 10h2v1h-2zM57 10h1v1h-1zM61 10h2v1h-2zM65 10h1v1h-1zM67 10h1v1h-1zM69 10h1v1h-1zM71 10h1v1h-1zM74 10h1v1h-1zM102 10h1v1h-1zM104 10h1v1h-1zM109 10h1v1h-1zM113 10h2v1h-2zM120 10h1v1h-1zM124 10h1v1h-1zM129 10h1v1h-1zM139 10h2v1h-2zM144 10h1v1h-1zM21 11h2v1h-2zM33 11h1v1h-1zM35 11h1v1h-1zM38 11h1v1h-1zM40 11h1v1h-1zM42 11h1v1h-1zM46 11h2v1h-2zM49 11h1v1h-1zM53 11h1v1h-1zM61 11h1v1h-1zM64 11h2v1h-2zM68 11h2v1h-2zM86 11h1v1h-1zM89 11h1v1h-1zM91 11h2v1h-2zM95 11h1v1h-1zM97 11h1v1h-1zM101 11h2v1h-2zM104 11h1v1h-1zM106 11h2v1h-2zM109 11h1v1h-1zM112 11h1v1h-1zM116 11h2v1h-2zM122 11h1v1h-1zM131 11h1v1h-1zM133 11h1v1h-1zM135 11h1v1h-1zM137 11h2v1h-2zM143 11h2v1h-2zM22 12h1v1h-1zM37 12h3v1h-3zM50 12h1v1h-1zM55 12h1v1h-1zM60 12h1v1h-1zM65 12h1v1h-1zM75 12h1v1h-1zM78 12h1v1h-1zM80 12h1v1h-1zM83 12h1v1h-1zM90 12h1v1h-1zM95 12h1v1h-1zM98 12h1v1h-1zM103 12h1v1h-1zM107 12h2v1h-2zM115 12h1v1h-1zM131 12h2v1h-2zM134 12h3v1h-3zM138 12h1v1h-1zM142 12h1v1h-1zM149 12h1v1h-1zM22 13h2v1h-2zM25 13h1v1h-1zM42 13h1v1h-1zM56 13h2v1h-2zM62 13h1v1h-1zM67 13h1v1h-1zM69 13h2v1h-2zM76 13h1v1h-1zM78 13h1v1h-1zM92 13h1v1h-1zM95 13h1v1h-1zM100 13h1v1h-1zM102 13h1v1h-1zM105 13h1v1h-1zM118 13h1v1h-1zM120 13h2v1h-2zM128 13h1v1h-1zM130 13h1v1h-1zM133 13h1v1h-1zM137 13h3v1h-3zM146 13h1v1h-1zM32 14h3v1h-3zM38 14h1v1h-1zM40 14h1v1h-1zM42 14h3v1h-3zM47 14h1v1h-1zM53 14h1v1h-1zM62 14h1v1h-1zM64 14h1v1h-1zM66 14h1v1h-1zM70 14h1v1h-1zM75 14h1v1h-1zM77 14h3v1h-3zM82 14h2v1h-2zM97 14h2v1h-2zM100 14h2v1h-2zM111 14h1v1h-1zM113 14h1v1h-1zM115 14h1v1h-1zM117 14h2v1h-2zM120 14h1v1h-1zM124 14h1v1h-1zM130 14h1v1h-1zM138 14h1v1h-1zM142 14h2v1h-2zM147 14h1v1h-1zM35 15h1v1h-1zM39 15h1v1h-1zM49 15h1v1h-1zM54 15h3v1h-3zM60 15h1v1h-1zM65 15h1v1h-1zM67 15h4v1h-4zM72 15h1v1h-1zM77 15h1v1h-1zM79 15h1v1h-1zM82 15h1v1h-1zM87 15h1v1h-1zM94 15h2v1h-2zM104 15h1v1h-1zM109 15h1v1h-1zM115 15h1v1h-1zM118 15h1v1h-1zM120 15h1v1h-1zM124 15h1v1h-1zM128 15h1v1h-1zM132 15h1v1h-1zM135 15h1v1h-1zM146 15h1v1h-1zM36 16h1v1h-1zM43 16h2v1h-2zM46 16h1v1h-1zM50 16h1v1h-1zM52 16h2v1h-2zM57 16h1v1h-1zM59 16h1v1h-1zM64 16h1v1h-1zM68 16h1v1h-1zM72 16h1v1h-1zM76 16h1v1h-1zM83 16h2v1h-2zM87 16h1v1h-1zM89 16h1v1h-1zM92 16h1v1h-1zM94 16h1v1h-1zM97 16h4v1h-4zM102 16h1v1h-1zM105 16h1v1h-1zM121 16h4v1h-4zM132 16h1v1h-1zM136 16h1v1h-1zM143 16h1v1h-1zM146 16h1v1h-1zM149 16h1v1h-1zM21 17h1v1h-1zM23 17h1v1h-1zM37 17h1v1h-1zM40 17h1v1h-1zM43 17h1v1h-1zM57 17h2v1h-2zM61 17h2v1h-2zM68 17h1v1h-1zM75 17h1v1h-1zM79 17h1v1h-1zM95 17h3v1h-3zM104 17h1v1h-1zM116 17h1v1h-1zM121 17h2v1h-2zM126 17h4v1h-4zM134 17h4v1h-4zM145 17h1v1h-1zM9 18h1v1h-1zM21 18h1v1h-1zM29 18h1v1h-1zM34 18h1v1h-1zM37 18h1v1h-1zM40 18h2v1h-2zM46 18h1v1h-1zM51 18h1v1h-1zM54 18h1v1h-1zM59 18h1v1h-1zM65 18h2v1h-2zM68 18h1v1h-1zM71 18h2v1h-2zM75 18h1v1h-1zM89 18h3v1h-3zM94 18h2v1h-2zM98 18h1v1h-1zM101 18h1v1h-1zM107 18h1v1h-1zM109 18h2v1h-2zM114 18h1v1h-1zM117 18h1v1h-1zM125 18h1v1h-1zM131 18h1v1h-1zM133 18h1v1h-1zM141 18h3v1h-3zM145 18h1v1h-1zM21 19h1v1h-1zM24 19h1v1h-1zM50 19h1v1h-1zM56 19h1v1h-1zM58 19h1v1h-1zM61 19h1v1h-1zM68 19h1v1h-1zM72 19h1v1h-1zM77 19h1v1h-1zM81 19h2v1h-2zM85 19h2v1h-2zM89 19h1v1h-1zM94 19h1v1h-1zM97 19h1v1h-1zM101 19h1v1h-1zM105 19h1v1h-1zM107 19h2v1h-2zM112 19h1v1h-1zM120 19h6v1h-6zM127 19h2v1h-2zM136 19h1v1h-1zM138 19h2v1h-2zM144 19h1v1h-1zM148 19h1v1h-1zM21 20h1v1h-1zM28 20h1v1h-1zM38 20h1v1h-1zM47 20h1v1h-1zM49 20h2v1h-2zM52 20h2v1h-2zM55 20h3v1h-3zM66 20h1v1h-1zM70 20h1v1h-1zM72 20h3v1h-3zM85 20h1v1h-1zM87 20h1v1h-1zM91 20h1v1h-1zM93 20h1v1h-1zM98 20h3v1h-3zM110 20h1v1h-1zM119 20h1v1h-1zM124 20h2v1h-2zM130 20h2v1h-2zM146 20h1v1h-1zM24 21h2v1h-2zM32 21h1v1h-1zM35 21h2v1h-2zM43 21h1v1h-1zM46 21h1v1h-1zM50 21h2v1h-2zM54 21h2v1h-2zM57 21h1v1h-1zM59 21h1v1h-1zM61 21h3v1h-3zM69 21h3v1h-3zM73 21h1v1h-1zM81 21h1v1h-1zM85 21h1v1h-1zM88 21h2v1h-2zM91 21h1v1h-1zM94 21h1v1h-1zM104 21h2v1h-2zM108 21h1v1h-1zM112 21h1v1h-1zM119 21h1v1h-1zM127 21h1v1h-1zM129 21h1v1h-1zM131 21h1v1h-1zM134 21h1v1h-1zM142 21h2v1h-2zM145 21h1v1h-1zM148 21h1v1h-1zM150 21h1v1h-1z"/><path fill="#ffff00" d="M12 0h1v1h-1zM21 0h2v1h-2zM25 0h1v1h-1zM36 0h2v1h-2zM40 0h2v1h-2zM43 0h1v1h-1zM46 0h1v1h-1zM48 0h1v1h-1zM50 0h1v1h-1zM52 0h1v1h-1zM54 0h1v1h-1zM57 0h1v1h-1zM60 0h1v1h-1zM74 0h1v1h-1zM79 0h1v1h-1zM90 0h1v1h-1zM94 0h1v1h-1zM101 0h1v1h-1zM105 0h1v1h-1zM110 0h2v1h-2zM116 0h1v1h-1zM122 0h1v1h-1zM134 0h1v1h-1zM141 0h2v1h-2zM9 1h2v1h-2zM21 1h1v1h-1zM27 1h1v1h-1zM39 1h1v1h-1zM44 1h3v1h-3zM58 1h1v1h-1zM60 1h1v1h-1zM66 1h2v1h-2zM74 1h1v1h-1zM82 1h3v1h-3zM92 1h1v1h-1zM95 1h1v1h-1zM101 1h1v1h-1zM108 1h1v1h-1zM121 1h1v1h-1zM140 1h1v1h-1zM21 2h1v1h-1zM25 2h1v1h-1zM31 2h1v1h-1zM36 2h1v1h-1zM43 2h1v1h-1zM62 2h2v1h-2zM79 2h1v1h-1zM103 2h1v1h-1zM110 2h1v1h-1zM114 2h1v1h-1zM118 2h1v1h-1zM125 2h1v1h-1zM128 2h1v1h-1zM134 2h2v1h-2zM137 2h1v1h-1zM140 2h1v1h-1zM142 2h1v1h-1zM148 2h1v1h-1zM9 3h1v1h-1zM20 3h1v1h-1zM22 3h2v1h-2zM37 3h1v1h-1zM40 3h2v1h-2zM49 3h1v1h-1zM56 3h1v1h-1zM59 3h1v1h-1zM64 3h1v1h-1zM82 3h1v1h-1zM92 3h1v1h-1zM94 3h1v1h-1zM107 3h1v1h-1zM110 3h1v1h-1zM119 3h1v1h-1zM121 3h1v1h-1zM142 3h1v1h-1zM145 3h1v1h-1zM9 4h1v1h-1zM18 4h1v1h-1zM20 4h1v1h-1zM35 4h1v1h-1zM49 4h1v1h-1zM51 4h1v1h-1zM58 4h1v1h-1zM72 4h1v1h-1zM77 4h1v1h-1zM91 4h1v1h-1zM95 4h1v1h-1zM99 4h1v1h-1zM101 4h1v1h-1zM107 4h1v1h-1zM111 4h1v1h-1zM117 4h3v1h-3zM121 4h1v1h-1zM126 4h1v1h-1zM129 4h1v1h-1zM138 4h1v1h-1zM145 4h1v1h-1zM149 4h1v1h-1zM22 5h1v1h-1zM35 5h1v1h-1zM37 5h1v1h-1zM47 5h3v1h-3zM52 5h1v1h-1zM58 5h1v1h-1zM60 5h1v1h-1zM65 5h1v1h-1zM67 5h1v1h-1zM69 5h1v1h-1zM78 5h1v1h-1zM80 5h1v1h-1zM84 5h1v1h-1zM90 5h1v1h-1zM99 5h2v1h-2zM103 5h1v1h-1zM110 5h1v1h-1zM127 5h2v1h-2zM134 5h1v1h-1zM150 5h1v1h-1zM34 6h1v1h-1zM65 6h1v1h-1zM80 6h1v1h-1zM87 6h1v1h-1zM103 6h2v1h-2zM134 6h1v1h-1zM136 6h4v1h-4zM142 6h1v1h-1zM10 7h1v1h-1zM20 7h2v1h-2zM36 7h3v1h-3zM40 7h1v1h-1zM53 7h1v1h-1zM55 7h1v1h-1zM58 7h1v1h-1zM65 7h1v1h-1zM74 7h3v1h-3zM78 7h1v1h-1zM86 7h1v1h-1zM89 7h1v1h-1zM96 7h1v1h-1zM105 7h1v1h-1zM107 7h1v1h-1zM112 7h1v1h-1zM121 7h1v1h-1zM124 7h2v1h-2zM131 7h1v1h-1zM149 7h1v1h-1zM18 8h1v1h-1zM52 8h1v1h-1zM55 8h1v1h-1zM70 8h1v1h-1zM74 8h2v1h-2zM88 8h1v1h-1zM90 8h1v1h-1zM92 8h1v1h-1zM98 8h1v1h-1zM107 8h1v1h-1zM114 8h1v1h-1zM122 8h1v1h-1zM138 8h1v1h-1zM148 8h1v1h-1zM34 9h1v1h-1zM38 9h1v1h-1zM40 9h1v1h-1zM51 9h1v1h-1zM56 9h1v1h-1zM65 9h2v1h-2zM72 9h1v1h-1zM74 9h1v1h-1zM79 9h1v1h-1zM95 9h1v1h-1zM98 9h1v1h-1zM101 9h1v1h-1zM105 9h1v1h-1zM19 10h1v1h-1zM34 10h3v1h-3zM40 10h1v1h-1zM42 10h1v1h-1zM46 10h1v1h-1zM48 10h2v1h-2zM51 10h1v1h-1zM58 10h1v1h-1zM60 10h1v1h-1zM73 10h1v1h-1zM75 10h1v1h-1zM83 10h1v1h-1zM87 10h1v1h-1zM89 10h2v1h-2zM95 10h1v1h-1zM100 10h1v1h-1zM105 10h1v1h-1zM108 10h1v1h-1zM115 10h2v1h-2zM118 10h2v1h-2zM121 10h1v1h-1zM127 10h1v1h-1zM134 10h1v1h-1zM136 10h1v1h-1zM148 10h1v1h-1zM150 10h1v1h-1zM18 11h1v1h-1zM20 11h1v1h-1zM43 11h2v1h-2zM48 11h1v1h-1zM52 11h1v1h-1zM62 11h1v1h-1zM74 11h2v1h-2zM78 11h4v1h-4zM83 11h1v1h-1zM99 11h2v1h-2zM108 11h1v1h-1zM140 11h1v1h-1zM147 11h1v1h-1zM150 11h1v1h-1zM19 12h1v1h-1zM23 12h1v1h-1zM30 12h1v1h-1zM34 12h1v1h-1zM41 12h1v1h-1zM46 12h1v1h-1zM54 12h1v1h-1zM61 12h1v1h-1zM67 12h2v1h-2zM74 12h1v1h-1zM87 12h3v1h-3zM99 12h1v1h-1zM118 12h1v1h-1zM122 12h1v1h-1zM133 12h1v1h-1zM139 12h2v1h-2zM145 12h1v1h-1zM147 12h2v1h-2zM9 13h1v1h-1zM13 13h1v1h-1zM20 13h2v1h-2zM36 13h1v1h-1zM38 13h2v1h-2zM41 13h1v1h-1zM43 13h1v1h-1zM53 13h1v1h-1zM68 13h1v1h-1zM74 13h1v1h-1zM83 13h1v1h-1zM88 13h1v1h-1zM91 13h1v1h-1zM106 13h1v1h-1zM108 13h1v1h-1zM110 13h2v1h-2zM116 13h1v1h-1zM136 13h1v1h-1zM142 13h1v1h-1zM150 13h1v1h-1zM9 14h2v1h-2zM21 14h2v1h-2zM35 14h1v1h-1zM49 14h1v1h-1zM60 14h1v1h-1zM65 14h1v1h-1zM69 14h1v1h-1zM72 14h3v1h-3zM89 14h2v1h-2zM92 14h1v1h-1zM102 14h1v1h-1zM108 14h2v1h-2zM122 14h1v1h-1zM127 14h1v1h-1zM129 14h1v1h-1zM136 14h1v1h-1zM140 14h1v1h-1zM148 14h1v1h-1zM9 15h1v1h-1zM22 15h2v1h-2zM34 15h1v1h-1zM38 15h1v1h-1zM43 15h2v1h-2zM46 15h1v1h-1zM62 15h1v1h-1zM66 15h1v1h-1zM73 15h1v1h-1zM75 15h2v1h-2zM78 15h1v1h-1zM81 15h1v1h-1zM89 15h1v1h-1zM99 15h1v1h-1zM101 15h1v1h-1zM106 15h2v1h-2zM121 15h1v1h-1zM129 15h1v1h-1zM134 15h1v1h-1zM137 15h2v1h-2zM150 15h1v1h-1zM9 16h1v1h-1zM21 16h1v1h-1zM37 16h2v1h-2zM41 16h2v1h-2zM47 16h1v1h-1zM49 16h1v1h-1zM55 16h1v1h-1zM58 16h1v1h-1zM60 16h1v1h-1zM66 16h1v1h-1zM73 16h2v1h-2zM77 16h1v1h-1zM80 16h3v1h-3zM88 16h1v1h-1zM90 16h2v1h-2zM107 16h1v1h-1zM109 16h2v1h-2zM135 16h1v1h-1zM138 16h1v1h-1zM140 16h1v1h-1zM145 16h1v1h-1zM34 17h1v1h-1zM44 17h1v1h-1zM46 17h1v1h-1zM49 17h1v1h-1zM52 17h1v1h-1zM60 17h1v1h-1zM63 17h1v1h-1zM66 17h2v1h-2zM70 17h1v1h-1zM74 17h1v1h-1zM78 17h1v1h-1zM81 17h3v1h-3zM86 17h1v1h-1zM89 17h1v1h-1zM111 17h1v1h-1zM120 17h1v1h-1zM125 17h1v1h-1zM132 17h1v1h-1zM139 17h2v1h-2zM143 17h1v1h-1zM149 17h1v1h-1zM27 18h1v1h-1zM35 18h1v1h-1zM38 18h1v1h-1zM43 18h2v1h-2zM49 18h1v1h-1zM53 18h1v1h-1zM55 18h1v1h-1zM60 18h1v1h-1zM62 18h1v1h-1zM83 18h1v1h-1zM93 18h1v1h-1zM97 18h1v1h-1zM100 18h1v1h-1zM102 18h2v1h-2zM118 18h1v1h-1zM128 18h1v1h-1zM132 18h1v1h-1zM140 18h1v1h-1zM148 18h1v1h-1zM20 19h1v1h-1zM34 19h1v1h-1zM37 19h2v1h-2zM44 19h1v1h-1zM46 19h4v1h-4zM52 19h2v1h-2zM62 19h1v1h-1zM79 19h1v1h-1zM84 19h1v1h-1zM87 19h1v1h-1zM92 19h2v1h-2zM106 19h1v1h-1zM116 19h1v1h-1zM129 19h1v1h-1zM131 19h1v1h-1zM135 19h1v1h-1zM141 19h1v1h-1zM146 19h2v1h-2zM10 20h1v1h-1zM22 20h1v1h-1zM31 20h1v1h-1zM35 20h2v1h-2zM40 20h5v1h-5zM59 20h1v1h-1zM64 20h2v1h-2zM75 20h1v1h-1zM80 20h1v1h-1zM82 20h1v1h-1zM105 20h1v1h-1zM107 20h1v1h-1zM109 20h1v1h-1zM111 20h1v1h-1zM117 20h1v1h-1zM123 20h1v1h-1zM140 20h1v1h-1zM148 20h1v1h-1zM40 21h2v1h-2zM44 21h1v1h-1zM48 21h1v1h-1zM65 21h1v1h-1zM67 21h1v1h-1zM87 21h1v1h-1zM93 21h1v1h-1zM123 21h1v1h-1zM126 21h1v1h-1zM135 21h1v1h-1zM139 21h2v1h-2zM144 21h1v1h-1zM147 21h1v1h-1z"/><path fill="#ffff2a" d="M35 0h1v1h-1zM44 0h1v1h-1zM53 0h1v1h-1zM83 0h1v1h-1zM121 0h1v1h-1zM136 0h1v1h-1zM140 0h1v1h-1zM149 0h1v1h-1zM36 1h1v1h-1zM59 1h1v1h-1zM110 1h1v1h-1zM116 1h1v1h-1zM135 1h1v1h-1zM142 1h1v1h-1zM12 2h1v1h-1zM37 2h1v1h-1zM41 2h1v1h-1zM50 2h1v1h-1zM129 2h1v1h-1zM44 3h1v1h-1zM46 3h1v1h-1zM61 3h1v1h-1zM102 3h1v1h-1zM122 3h1v1h-1zM141 3h1v1h-1zM19 4h1v1h-1zM21 4h1v1h-1zM34 4h1v1h-1zM60 4h1v1h-1zM103 4h1v1h-1zM122 4h1v1h-1zM147 4h1v1h-1zM9 5h1v1h-1zM13 5h1v1h-1zM19 5h1v1h-1zM34 5h1v1h-1zM54 5h2v1h-2zM97 5h1v1h-1zM120 5h1v1h-1zM136 5h1v1h-1zM145 5h2v1h-2zM9 6h2v1h-2zM37 6h1v1h-1zM58 6h1v1h-1zM67 6h1v1h-1zM74 6h1v1h-1zM84 6h1v1h-1zM89 6h1v1h-1zM99 6h1v1h-1zM119 6h1v1h-1zM11 7h1v1h-1zM19 7h1v1h-1zM35 7h1v1h-1zM39 7h1v1h-1zM46 7h1v1h-1zM70 7h1v1h-1zM79 7h1v1h-1zM84 7h1v1h-1zM88 7h1v1h-1zM103 7h1v1h-1zM116 7h2v1h-2zM127 7h1v1h-1zM9 8h1v1h-1zM19 8h1v1h-1zM23 8h1v1h-1zM34 8h1v1h-1zM38 8h2v1h-2zM50 8h1v1h-1zM60 8h1v1h-1zM66 8h1v1h-1zM89 8h1v1h-1zM94 8h1v1h-1zM142 8h1v1h-1zM144 8h1v1h-1zM146 8h1v1h-1zM20 9h1v1h-1zM46 9h1v1h-1zM55 9h1v1h-1zM61 9h1v1h-1zM75 9h1v1h-1zM78 9h1v1h-1zM118 9h1v1h-1zM127 9h1v1h-1zM133 9h1v1h-1zM142 9h1v1h-1zM10 10h1v1h-1zM50 10h1v1h-1zM53 10h1v1h-1zM78 10h1v1h-1zM84 10h1v1h-1zM88 10h1v1h-1zM101 10h1v1h-1zM142 10h1v1h-1zM146 10h1v1h-1zM19 11h1v1h-1zM37 11h1v1h-1zM39 11h1v1h-1zM41 11h1v1h-1zM50 11h1v1h-1zM66 11h1v1h-1zM88 11h1v1h-1zM114 11h1v1h-1zM118 11h1v1h-1zM129 11h1v1h-1zM146 11h1v1h-1zM9 12h2v1h-2zM20 12h2v1h-2zM49 12h1v1h-1zM53 12h1v1h-1zM58 12h2v1h-2zM77 12h1v1h-1zM86 12h1v1h-1zM91 12h1v1h-1zM112 12h1v1h-1zM114 12h1v1h-1zM119 12h1v1h-1zM124 12h1v1h-1zM128 12h1v1h-1zM137 12h1v1h-1zM10 13h1v1h-1zM37 13h1v1h-1zM40 13h1v1h-1zM46 13h1v1h-1zM55 13h1v1h-1zM79 13h1v1h-1zM97 13h1v1h-1zM103 13h1v1h-1zM109 13h1v1h-1zM124 13h1v1h-1zM135 13h1v1h-1zM140 13h1v1h-1zM19 14h1v1h-1zM37 14h1v1h-1zM50 14h1v1h-1zM58 14h1v1h-1zM107 14h1v1h-1zM10 15h1v1h-1zM20 15h2v1h-2zM37 15h1v1h-1zM40 15h2v1h-2zM74 15h1v1h-1zM86 15h1v1h-1zM91 15h1v1h-1zM112 15h1v1h-1zM140 15h1v1h-1zM147 15h2v1h-2zM19 16h1v1h-1zM34 16h1v1h-1zM65 16h1v1h-1zM71 16h1v1h-1zM75 16h1v1h-1zM86 16h1v1h-1zM128 16h2v1h-2zM147 16h1v1h-1zM19 17h1v1h-1zM50 17h1v1h-1zM53 17h2v1h-2zM56 17h1v1h-1zM72 17h1v1h-1zM90 17h1v1h-1zM118 17h1v1h-1zM142 17h1v1h-1zM22 18h1v1h-1zM61 18h1v1h-1zM67 18h1v1h-1zM74 18h1v1h-1zM79 18h1v1h-1zM92 18h1v1h-1zM106 18h1v1h-1zM135 18h1v1h-1zM9 19h1v1h-1zM11 19h1v1h-1zM19 19h1v1h-1zM64 19h1v1h-1zM67 19h1v1h-1zM73 19h1v1h-1zM75 19h1v1h-1zM88 19h1v1h-1zM100 19h1v1h-1zM111 19h1v1h-1zM137 19h1v1h-1zM140 19h1v1h-1zM149 19h1v1h-1zM11 20h1v1h-1zM32 20h1v1h-1zM34 20h1v1h-1zM37 20h1v1h-1zM46 20h1v1h-1zM79 20h1v1h-1zM84 20h1v1h-1zM95 20h1v1h-1zM103 20h1v1h-1zM118 20h1v1h-1zM134 20h1v1h-1zM141 20h1v1h-1zM15 21h1v1h-1zM37 21h3v1h-3zM53 21h1v1h-1zM75 21h1v1h-1zM92 21h1v1h-1zM97 21h1v1h-1zM102 21h1v1h-1zM109 21h1v1h-1zM113 21h1v1h-1zM116 21h1v1h-1zM118 21h1v1h-1zM122 21h1v1h-1z"/><path fill="#ffff55" d="M15 0h1v1h-1zM11 1h1v1h-1zM14 1h1v1h-1zM34 1h1v1h-1zM37 1h1v1h-1zM40 1h1v1h-1zM73 1h1v1h-1zM114 1h1v1h-1zM10 2h1v1h-1zM18 2h1v1h-1zM34 3h1v1h-1zM60 3h1v1h-1zM91 3h1v1h-1zM95 3h1v1h-1zM103 3h1v1h-1zM140 3h1v1h-1zM36 4h1v1h-1zM73 4h1v1h-1zM106 4h1v1h-1zM146 4h1v1h-1zM10 5h1v1h-1zM50 5h1v1h-1zM18 6h2v1h-2zM21 6h1v1h-1zM40 6h2v1h-2zM88 6h1v1h-1zM12 7h1v1h-1zM15 7h1v1h-1zM49 7h1v1h-1zM63 7h1v1h-1zM122 7h1v1h-1zM146 7h1v1h-1zM11 8h1v1h-1zM14 8h1v1h-1zM20 8h2v1h-2zM33 8h1v1h-1zM35 8h1v1h-1zM37 8h1v1h-1zM49 8h1v1h-1zM67 8h1v1h-1zM97 8h1v1h-1zM109 8h1v1h-1zM129 8h1v1h-1zM149 8h1v1h-1zM10 9h1v1h-1zM13 9h1v1h-1zM23 9h1v1h-1zM36 9h1v1h-1zM49 9h1v1h-1zM140 9h1v1h-1zM11 10h1v1h-1zM97 10h1v1h-1zM34 11h1v1h-1zM55 11h1v1h-1zM60 11h1v1h-1zM110 11h1v1h-1zM93 12h1v1h-1zM15 13h1v1h-1zM18 13h2v1h-2zM34 13h1v1h-1zM44 13h1v1h-1zM89 13h1v1h-1zM129 13h1v1h-1zM18 14h1v1h-1zM20 14h1v1h-1zM76 14h1v1h-1zM103 14h1v1h-1zM15 15h1v1h-1zM18 16h1v1h-1zM20 16h1v1h-1zM95 16h1v1h-1zM14 17h2v1h-2zM18 17h1v1h-1zM18 18h1v1h-1zM35 19h1v1h-1zM41 19h1v1h-1zM43 19h1v1h-1zM113 19h1v1h-1zM23 20h1v1h-1zM39 20h1v1h-1zM13 21h1v1h-1zM21 21h1v1h-1zM29 21h1v1h-1zM49 21h1v1h-1zM79 21h1v1h-1zM146 21h1v1h-1z"/><path fill="#ffff80" d="M11 0h1v1h-1zM13 0h2v1h-2zM19 0h2v1h-2zM12 1h1v1h-1zM16 1h1v1h-1zM18 1h3v1h-3zM13 2h3v1h-3zM17 2h1v1h-1zM19 2h1v1h-1zM10 3h1v1h-1zM19 3h1v1h-1zM10 4h2v1h-2zM14 4h1v1h-1zM16 4h1v1h-1zM12 5h1v1h-1zM14 6h1v1h-1zM17 6h1v1h-1zM44 6h1v1h-1zM18 7h1v1h-1zM10 8h1v1h-1zM17 8h1v1h-1zM11 9h1v1h-1zM18 9h2v1h-2zM14 10h1v1h-1zM10 11h1v1h-1zM12 11h2v1h-2zM16 11h1v1h-1zM103 11h1v1h-1zM11 12h1v1h-1zM16 12h1v1h-1zM12 14h1v1h-1zM91 14h1v1h-1zM11 15h1v1h-1zM13 15h1v1h-1zM19 15h1v1h-1zM103 15h1v1h-1zM108 16h1v1h-1zM12 17h2v1h-2zM20 17h1v1h-1zM103 17h1v1h-1zM10 18h3v1h-3zM17 18h1v1h-1zM19 18h1v1h-1zM18 19h1v1h-1zM66 19h1v1h-1zM20 20h1v1h-1z"/><path fill="#ffffaa" d="M17 0h2v1h-2zM13 1h1v1h-1zM15 1h1v1h-1zM12 3h1v1h-1zM18 3h1v1h-1zM12 4h1v1h-1zM15 4h1v1h-1zM11 5h1v1h-1zM16 5h2v1h-2zM11 6h1v1h-1zM15 8h1v1h-1zM12 9h1v1h-1zM17 9h1v1h-1zM12 10h1v1h-1zM17 10h2v1h-2zM14 11h2v1h-2zM14 12h2v1h-2zM18 12h1v1h-1zM14 13h1v1h-1zM11 14h1v1h-1zM14 14h4v1h-4zM12 15h1v1h-1zM14 15h1v1h-1zM16 15h1v1h-1zM11 16h1v1h-1zM16 16h1v1h-1zM10 17h2v1h-2zM17 17h1v1h-1zM13 18h2v1h-2zM10 19h1v1h-1zM12 19h2v1h-2zM15 19h1v1h-1zM17 19h1v1h-1zM12 20h2v1h-2zM19 20h1v1h-1zM14 21h1v1h-1zM17 21h2v1h-2zM20 21h1v1h-1z"/><path fill="#ffffd4" d="M16 0h1v1h-1zM11 2h1v1h-1zM16 2h1v1h-1zM13 3h2v1h-2zM17 3h1v1h-1zM15 5h1v1h-1zM18 5h1v1h-1zM14 7h1v1h-1zM16 7h1v1h-1zM12 8h2v1h-2zM16 8h1v1h-1zM16 9h1v1h-1zM16 10h1v1h-1zM11 11h1v1h-1zM17 11h1v1h-1zM12 12h2v1h-2zM11 13h2v1h-2zM17 15h1v1h-1zM12 16h2v1h-2zM16 17h1v1h-1zM15 18h2v1h-2zM14 19h1v1h-1zM16 19h1v1h-1zM15 20h4v1h-4zM22 21h1v1h-1z"/><path fill="#ffffff" d="M17 1h1v1h-1zM15 3h2v1h-2zM13 4h1v1h-1zM17 4h1v1h-1zM14 5h1v1h-1zM12 6h2v1h-2zM15 6h2v1h-2zM13 7h1v1h-1zM17 7h1v1h-1zM14 9h2v1h-2zM13 10h1v1h-1zM15 10h1v1h-1zM17 12h1v1h-1zM16 13h2v1h-2zM13 14h1v1h-1zM18 15h1v1h-1zM14 16h2v1h-2zM17 16h1v1h-1zM14 20h1v1h-1zM16 21h1v1h-1zM19 21h1v1h-1z"/></svg><svg x="103.5" y="235.4" width="721.90" height="169.00" viewBox="0 0 301 22" preserveAspectRatio="none" shape-rendering="crispEdges"><path fill="#240000" d="M0 0h1v1h-1zM15 0h2v1h-2zM33 0h3v1h-3zM50 0h4v1h-4zM67 0h3v1h-3zM84 0h2v1h-2zM101 0h2v1h-2zM118 0h2v1h-2zM135 0h2v1h-2zM0 1h1v1h-1zM15 1h3v1h-3zM32 1h4v1h-4zM50 1h2v1h-2zM67 1h3v1h-3zM84 1h1v1h-1zM86 1h1v1h-1zM100 1h2v1h-2zM103 1h1v1h-1zM117 1h3v1h-3zM168 1h2v1h-2zM0 2h1v1h-1zM15 2h3v1h-3zM32 2h3v1h-3zM50 2h3v1h-3zM67 2h3v1h-3zM85 2h2v1h-2zM101 2h2v1h-2zM118 2h1v1h-1zM133 2h3v1h-3zM153 2h1v1h-1zM169 2h1v1h-1zM0 3h1v1h-1zM16 3h2v1h-2zM33 3h3v1h-3zM49 3h4v1h-4zM67 3h2v1h-2zM84 3h3v1h-3zM101 3h3v1h-3zM118 3h1v1h-1zM135 3h2v1h-2zM0 4h1v1h-1zM15 4h3v1h-3zM33 4h3v1h-3zM50 4h3v1h-3zM68 4h1v1h-1zM84 4h2v1h-2zM101 4h3v1h-3zM117 4h3v1h-3zM153 4h2v1h-2zM15 5h3v1h-3zM32 5h3v1h-3zM51 5h2v1h-2zM68 5h2v1h-2zM84 5h3v1h-3zM101 5h1v1h-1zM103 5h1v1h-1zM117 5h1v1h-1zM119 5h1v1h-1zM135 5h1v1h-1zM170 5h1v1h-1zM187 5h1v1h-1zM0 6h1v1h-1zM15 6h3v1h-3zM32 6h3v1h-3zM50 6h3v1h-3zM67 6h2v1h-2zM83 6h3v1h-3zM101 6h2v1h-2zM118 6h1v1h-1zM152 6h1v1h-1zM1 7h1v1h-1zM16 7h2v1h-2zM32 7h3v1h-3zM51 7h1v1h-1zM66 7h3v1h-3zM84 7h2v1h-2zM100 7h4v1h-4zM118 7h2v1h-2zM135 7h3v1h-3zM0 8h1v1h-1zM16 8h2v1h-2zM32 8h2v1h-2zM35 8h1v1h-1zM50 8h2v1h-2zM68 8h2v1h-2zM84 8h2v1h-2zM100 8h3v1h-3zM118 8h2v1h-2zM135 8h2v1h-2zM204 8h1v1h-1zM0 9h1v1h-1zM15 9h1v1h-1zM17 9h1v1h-1zM32 9h3v1h-3zM50 9h2v1h-2zM66 9h3v1h-3zM84 9h3v1h-3zM102 9h2v1h-2zM119 9h2v1h-2zM134 9h2v1h-2zM152 9h1v1h-1zM168 9h1v1h-1zM171 9h1v1h-1zM186 9h1v1h-1zM0 10h1v1h-1zM15 10h3v1h-3zM33 10h2v1h-2zM51 10h2v1h-2zM68 10h1v1h-1zM85 10h2v1h-2zM100 10h4v1h-4zM117 10h2v1h-2zM134 10h1v1h-1zM136 10h1v1h-1zM187 10h1v1h-1zM15 11h1v1h-1zM17 11h1v1h-1zM32 11h3v1h-3zM49 11h3v1h-3zM68 11h2v1h-2zM84 11h3v1h-3zM101 11h2v1h-2zM118 11h3v1h-3zM137 11h1v1h-1zM153 11h1v1h-1zM221 11h1v1h-1zM0 12h2v1h-2zM15 12h3v1h-3zM33 12h3v1h-3zM50 12h2v1h-2zM67 12h3v1h-3zM84 12h2v1h-2zM100 12h2v1h-2zM117 12h2v1h-2zM135 12h2v1h-2zM152 12h1v1h-1zM0 13h1v1h-1zM15 13h3v1h-3zM33 13h3v1h-3zM50 13h2v1h-2zM67 13h3v1h-3zM83 13h2v1h-2zM86 13h1v1h-1zM100 13h4v1h-4zM117 13h3v1h-3zM135 13h2v1h-2zM169 13h2v1h-2zM0 14h1v1h-1zM16 14h2v1h-2zM32 14h3v1h-3zM50 14h3v1h-3zM67 14h3v1h-3zM83 14h3v1h-3zM102 14h1v1h-1zM120 14h1v1h-1zM136 14h1v1h-1zM152 14h1v1h-1zM170 14h1v1h-1zM187 14h1v1h-1zM0 15h1v1h-1zM16 15h3v1h-3zM32 15h3v1h-3zM50 15h3v1h-3zM83 15h1v1h-1zM85 15h1v1h-1zM100 15h3v1h-3zM117 15h3v1h-3zM137 15h1v1h-1zM152 15h1v1h-1zM0 16h1v1h-1zM15 16h3v1h-3zM32 16h3v1h-3zM50 16h3v1h-3zM67 16h4v1h-4zM84 16h3v1h-3zM101 16h1v1h-1zM117 16h1v1h-1zM135 16h1v1h-1zM185 16h1v1h-1zM219 16h1v1h-1zM15 17h2v1h-2zM32 17h3v1h-3zM49 17h4v1h-4zM67 17h2v1h-2zM84 17h2v1h-2zM101 17h2v1h-2zM117 17h3v1h-3zM135 17h1v1h-1zM0 18h1v1h-1zM15 18h3v1h-3zM34 18h1v1h-1zM50 18h2v1h-2zM67 18h2v1h-2zM83 18h3v1h-3zM100 18h2v1h-2zM116 18h1v1h-1zM118 18h1v1h-1zM135 18h1v1h-1zM152 18h2v1h-2zM0 19h1v1h-1zM15 19h2v1h-2zM32 19h3v1h-3zM50 19h3v1h-3zM67 19h4v1h-4zM85 19h2v1h-2zM102 19h2v1h-2zM118 19h1v1h-1zM136 19h2v1h-2zM0 20h1v1h-1zM14 20h3v1h-3zM33 20h3v1h-3zM51 20h2v1h-2zM67 20h3v1h-3zM85 20h2v1h-2zM119 20h1v1h-1zM136 20h2v1h-2zM153 20h1v1h-1zM185 20h1v1h-1zM253 20h1v1h-1zM0 21h1v1h-1zM16 21h2v1h-2zM33 21h2v1h-2zM50 21h2v1h-2zM67 21h3v1h-3zM83 21h3v1h-3zM100 21h4v1h-4zM118 21h1v1h-1zM134 21h3v1h-3z"/><path fill="#490000" d="M17 0h2v1h-2zM32 0h1v1h-1zM86 0h1v1h-1zM103 0h1v1h-1zM116 0h2v1h-2zM134 0h1v1h-1zM153 0h2v1h-2zM168 0h1v1h-1zM170 0h1v1h-1zM221 0h1v1h-1zM1 1h1v1h-1zM18 1h1v1h-1zM52 1h1v1h-1zM83 1h1v1h-1zM85 1h1v1h-1zM102 1h1v1h-1zM135 1h2v1h-2zM153 1h2v1h-2zM187 1h1v1h-1zM204 1h1v1h-1zM35 2h1v1h-1zM53 2h1v1h-1zM100 2h1v1h-1zM117 2h1v1h-1zM119 2h1v1h-1zM136 2h1v1h-1zM152 2h1v1h-1zM154 2h1v1h-1zM187 2h1v1h-1zM1 3h1v1h-1zM15 3h1v1h-1zM18 3h1v1h-1zM32 3h1v1h-1zM69 3h2v1h-2zM87 3h1v1h-1zM119 3h1v1h-1zM152 3h2v1h-2zM169 3h1v1h-1zM184 3h1v1h-1zM32 4h1v1h-1zM67 4h1v1h-1zM69 4h1v1h-1zM86 4h1v1h-1zM120 4h1v1h-1zM136 4h3v1h-3zM169 4h1v1h-1zM187 4h1v1h-1zM221 4h1v1h-1zM0 5h1v1h-1zM35 5h1v1h-1zM50 5h1v1h-1zM53 5h1v1h-1zM116 5h1v1h-1zM118 5h1v1h-1zM134 5h1v1h-1zM153 5h1v1h-1zM14 6h1v1h-1zM18 6h1v1h-1zM35 6h1v1h-1zM66 6h1v1h-1zM69 6h1v1h-1zM100 6h1v1h-1zM103 6h1v1h-1zM119 6h1v1h-1zM134 6h4v1h-4zM153 6h1v1h-1zM219 6h2v1h-2zM235 6h2v1h-2zM0 7h1v1h-1zM15 7h1v1h-1zM35 7h1v1h-1zM50 7h1v1h-1zM86 7h1v1h-1zM99 7h1v1h-1zM120 7h1v1h-1zM151 7h4v1h-4zM167 7h1v1h-1zM220 7h1v1h-1zM236 7h1v1h-1zM18 8h1v1h-1zM34 8h1v1h-1zM52 8h2v1h-2zM67 8h1v1h-1zM87 8h1v1h-1zM103 8h1v1h-1zM117 8h1v1h-1zM134 8h1v1h-1zM137 8h1v1h-1zM203 8h1v1h-1zM205 8h1v1h-1zM1 9h1v1h-1zM16 9h1v1h-1zM35 9h1v1h-1zM49 9h1v1h-1zM69 9h1v1h-1zM101 9h1v1h-1zM121 9h1v1h-1zM153 9h2v1h-2zM170 9h1v1h-1zM202 9h1v1h-1zM252 9h1v1h-1zM1 10h1v1h-1zM32 10h1v1h-1zM35 10h1v1h-1zM50 10h1v1h-1zM67 10h1v1h-1zM69 10h1v1h-1zM84 10h1v1h-1zM116 10h1v1h-1zM133 10h1v1h-1zM152 10h2v1h-2zM205 10h1v1h-1zM285 10h1v1h-1zM0 11h2v1h-2zM16 11h1v1h-1zM18 11h1v1h-1zM35 11h1v1h-1zM52 11h1v1h-1zM100 11h1v1h-1zM117 11h1v1h-1zM187 11h1v1h-1zM220 11h1v1h-1zM253 11h1v1h-1zM14 12h1v1h-1zM32 12h1v1h-1zM36 12h1v1h-1zM52 12h1v1h-1zM86 12h1v1h-1zM120 12h1v1h-1zM151 12h1v1h-1zM168 12h1v1h-1zM1 13h1v1h-1zM32 13h1v1h-1zM49 13h1v1h-1zM52 13h1v1h-1zM66 13h1v1h-1zM70 13h1v1h-1zM85 13h1v1h-1zM87 13h1v1h-1zM133 13h1v1h-1zM137 13h1v1h-1zM168 13h1v1h-1zM204 13h1v1h-1zM252 13h1v1h-1zM1 14h1v1h-1zM15 14h1v1h-1zM18 14h1v1h-1zM53 14h1v1h-1zM66 14h1v1h-1zM86 14h1v1h-1zM100 14h2v1h-2zM103 14h1v1h-1zM117 14h2v1h-2zM135 14h1v1h-1zM137 14h1v1h-1zM153 14h1v1h-1zM168 14h1v1h-1zM234 14h1v1h-1zM287 14h1v1h-1zM67 15h3v1h-3zM84 15h1v1h-1zM120 15h1v1h-1zM135 15h1v1h-1zM138 15h1v1h-1zM186 15h1v1h-1zM236 15h1v1h-1zM18 16h1v1h-1zM53 16h1v1h-1zM103 16h1v1h-1zM119 16h1v1h-1zM134 16h1v1h-1zM136 16h1v1h-1zM153 16h1v1h-1zM155 16h1v1h-1zM0 17h2v1h-2zM17 17h2v1h-2zM66 17h1v1h-1zM69 17h1v1h-1zM83 17h1v1h-1zM86 17h1v1h-1zM116 17h1v1h-1zM134 17h1v1h-1zM136 17h1v1h-1zM151 17h2v1h-2zM186 17h1v1h-1zM235 17h1v1h-1zM254 17h1v1h-1zM1 18h1v1h-1zM14 18h1v1h-1zM18 18h1v1h-1zM32 18h2v1h-2zM35 18h1v1h-1zM49 18h1v1h-1zM52 18h1v1h-1zM69 18h1v1h-1zM86 18h1v1h-1zM99 18h1v1h-1zM102 18h1v1h-1zM117 18h1v1h-1zM134 18h1v1h-1zM150 18h1v1h-1zM167 18h2v1h-2zM187 18h1v1h-1zM234 18h2v1h-2zM251 18h1v1h-1zM14 19h1v1h-1zM17 19h1v1h-1zM84 19h1v1h-1zM87 19h1v1h-1zM101 19h1v1h-1zM119 19h2v1h-2zM152 19h2v1h-2zM168 19h1v1h-1zM186 19h1v1h-1zM188 19h1v1h-1zM204 19h1v1h-1zM1 20h1v1h-1zM17 20h2v1h-2zM32 20h1v1h-1zM50 20h1v1h-1zM102 20h2v1h-2zM118 20h1v1h-1zM120 20h1v1h-1zM135 20h1v1h-1zM152 20h1v1h-1zM154 20h1v1h-1zM169 20h1v1h-1zM188 20h1v1h-1zM219 20h1v1h-1zM1 21h1v1h-1zM15 21h1v1h-1zM32 21h1v1h-1zM35 21h1v1h-1zM52 21h1v1h-1zM86 21h1v1h-1zM116 21h2v1h-2zM119 21h1v1h-1zM137 21h1v1h-1zM152 21h1v1h-1zM168 21h1v1h-1zM184 21h1v1h-1zM186 21h1v1h-1zM204 21h1v1h-1zM252 21h1v1h-1z"/><path fill="#6d0000" d="M36 0h1v1h-1zM83 0h1v1h-1zM87 0h1v1h-1zM100 0h1v1h-1zM120 0h1v1h-1zM152 0h1v1h-1zM169 0h1v1h-1zM185 0h1v1h-1zM204 0h2v1h-2zM238 0h1v1h-1zM253 0h1v1h-1zM269 0h1v1h-1zM286 0h1v1h-1zM14 1h1v1h-1zM31 1h1v1h-1zM49 1h1v1h-1zM53 1h1v1h-1zM66 1h1v1h-1zM70 1h1v1h-1zM116 1h1v1h-1zM120 1h1v1h-1zM170 1h1v1h-1zM205 1h1v1h-1zM235 1h2v1h-2zM238 1h1v1h-1zM254 1h1v1h-1zM287 1h1v1h-1zM1 2h1v1h-1zM14 2h1v1h-1zM18 2h1v1h-1zM31 2h1v1h-1zM49 2h1v1h-1zM70 2h1v1h-1zM83 2h2v1h-2zM103 2h1v1h-1zM188 2h2v1h-2zM203 2h1v1h-1zM205 2h3v1h-3zM251 2h1v1h-1zM14 3h1v1h-1zM19 3h1v1h-1zM83 3h1v1h-1zM104 3h1v1h-1zM117 3h1v1h-1zM120 3h1v1h-1zM134 3h1v1h-1zM137 3h1v1h-1zM151 3h1v1h-1zM154 3h1v1h-1zM168 3h1v1h-1zM170 3h1v1h-1zM188 3h1v1h-1zM205 3h2v1h-2zM234 3h1v1h-1zM253 3h1v1h-1zM1 4h1v1h-1zM14 4h1v1h-1zM18 4h1v1h-1zM36 4h1v1h-1zM49 4h1v1h-1zM66 4h1v1h-1zM70 4h1v1h-1zM87 4h1v1h-1zM135 4h1v1h-1zM151 4h1v1h-1zM168 4h1v1h-1zM170 4h1v1h-1zM236 4h1v1h-1zM251 4h1v1h-1zM268 4h1v1h-1zM1 5h1v1h-1zM14 5h1v1h-1zM18 5h1v1h-1zM31 5h1v1h-1zM49 5h1v1h-1zM67 5h1v1h-1zM70 5h1v1h-1zM87 5h1v1h-1zM100 5h1v1h-1zM102 5h1v1h-1zM104 5h1v1h-1zM136 5h2v1h-2zM151 5h2v1h-2zM154 5h1v1h-1zM171 5h1v1h-1zM188 5h2v1h-2zM204 5h1v1h-1zM272 5h1v1h-1zM1 6h1v1h-1zM49 6h1v1h-1zM53 6h1v1h-1zM82 6h1v1h-1zM86 6h1v1h-1zM99 6h1v1h-1zM116 6h2v1h-2zM120 6h1v1h-1zM150 6h1v1h-1zM166 6h1v1h-1zM186 6h1v1h-1zM188 6h1v1h-1zM237 6h1v1h-1zM270 6h1v1h-1zM18 7h1v1h-1zM36 7h1v1h-1zM52 7h1v1h-1zM65 7h1v1h-1zM69 7h1v1h-1zM82 7h2v1h-2zM117 7h1v1h-1zM121 7h1v1h-1zM185 7h1v1h-1zM203 7h1v1h-1zM218 7h2v1h-2zM255 7h1v1h-1zM269 7h2v1h-2zM284 7h1v1h-1zM286 7h1v1h-1zM1 8h1v1h-1zM14 8h2v1h-2zM49 8h1v1h-1zM65 8h1v1h-1zM83 8h1v1h-1zM86 8h1v1h-1zM120 8h1v1h-1zM152 8h3v1h-3zM168 8h2v1h-2zM187 8h1v1h-1zM220 8h1v1h-1zM14 9h1v1h-1zM18 9h1v1h-1zM48 9h1v1h-1zM52 9h1v1h-1zM83 9h1v1h-1zM169 9h1v1h-1zM185 9h1v1h-1zM218 9h1v1h-1zM269 9h2v1h-2zM286 9h1v1h-1zM14 10h1v1h-1zM18 10h1v1h-1zM36 10h1v1h-1zM53 10h1v1h-1zM70 10h1v1h-1zM83 10h1v1h-1zM119 10h1v1h-1zM135 10h1v1h-1zM151 10h1v1h-1zM169 10h3v1h-3zM188 10h1v1h-1zM203 10h1v1h-1zM269 10h1v1h-1zM31 11h1v1h-1zM53 11h1v1h-1zM67 11h1v1h-1zM70 11h2v1h-2zM83 11h1v1h-1zM87 11h1v1h-1zM103 11h1v1h-1zM134 11h3v1h-3zM151 11h2v1h-2zM169 11h3v1h-3zM204 11h1v1h-1zM218 11h1v1h-1zM271 11h1v1h-1zM18 12h1v1h-1zM49 12h1v1h-1zM53 12h1v1h-1zM66 12h1v1h-1zM70 12h1v1h-1zM83 12h1v1h-1zM87 12h1v1h-1zM102 12h2v1h-2zM116 12h1v1h-1zM119 12h1v1h-1zM133 12h1v1h-1zM153 12h1v1h-1zM169 12h2v1h-2zM184 12h1v1h-1zM202 12h3v1h-3zM220 12h1v1h-1zM237 12h1v1h-1zM254 12h1v1h-1zM14 13h1v1h-1zM18 13h1v1h-1zM53 13h1v1h-1zM104 13h1v1h-1zM120 13h1v1h-1zM134 13h1v1h-1zM153 13h2v1h-2zM171 13h1v1h-1zM203 13h1v1h-1zM205 13h1v1h-1zM253 13h1v1h-1zM270 13h1v1h-1zM285 13h1v1h-1zM119 14h1v1h-1zM138 14h2v1h-2zM154 14h1v1h-1zM172 14h1v1h-1zM188 14h1v1h-1zM204 14h1v1h-1zM221 14h1v1h-1zM254 14h1v1h-1zM269 14h1v1h-1zM1 15h1v1h-1zM15 15h1v1h-1zM35 15h1v1h-1zM49 15h1v1h-1zM66 15h1v1h-1zM86 15h1v1h-1zM99 15h1v1h-1zM103 15h1v1h-1zM116 15h1v1h-1zM134 15h1v1h-1zM136 15h1v1h-1zM153 15h2v1h-2zM168 15h1v1h-1zM170 15h1v1h-1zM185 15h1v1h-1zM205 15h1v1h-1zM220 15h1v1h-1zM235 15h1v1h-1zM271 15h1v1h-1zM31 16h1v1h-1zM36 16h1v1h-1zM49 16h1v1h-1zM83 16h1v1h-1zM100 16h1v1h-1zM102 16h1v1h-1zM116 16h1v1h-1zM118 16h1v1h-1zM120 16h1v1h-1zM154 16h1v1h-1zM170 16h1v1h-1zM186 16h2v1h-2zM204 16h1v1h-1zM218 16h1v1h-1zM220 16h1v1h-1zM253 16h1v1h-1zM35 17h1v1h-1zM87 17h1v1h-1zM100 17h1v1h-1zM103 17h1v1h-1zM120 17h1v1h-1zM150 17h1v1h-1zM168 17h1v1h-1zM187 17h1v1h-1zM288 17h1v1h-1zM66 18h1v1h-1zM87 18h1v1h-1zM115 18h1v1h-1zM119 18h1v1h-1zM133 18h1v1h-1zM136 18h1v1h-1zM151 18h1v1h-1zM169 18h1v1h-1zM185 18h2v1h-2zM188 18h2v1h-2zM203 18h1v1h-1zM219 18h1v1h-1zM221 18h1v1h-1zM236 18h1v1h-1zM288 18h1v1h-1zM18 19h1v1h-1zM31 19h1v1h-1zM35 19h1v1h-1zM49 19h1v1h-1zM53 19h1v1h-1zM117 19h1v1h-1zM138 19h1v1h-1zM167 19h1v1h-1zM169 19h3v1h-3zM185 19h1v1h-1zM187 19h1v1h-1zM238 19h1v1h-1zM253 19h1v1h-1zM49 20h1v1h-1zM84 20h1v1h-1zM87 20h1v1h-1zM100 20h1v1h-1zM104 20h1v1h-1zM121 20h1v1h-1zM168 20h1v1h-1zM186 20h1v1h-1zM203 20h3v1h-3zM221 20h1v1h-1zM237 20h1v1h-1zM18 21h1v1h-1zM49 21h1v1h-1zM66 21h1v1h-1zM70 21h1v1h-1zM82 21h1v1h-1zM99 21h1v1h-1zM150 21h2v1h-2zM153 21h2v1h-2zM167 21h1v1h-1zM170 21h2v1h-2zM189 21h1v1h-1zM202 21h1v1h-1zM223 21h1v1h-1zM286 21h1v1h-1z"/><path fill="#920000" d="M1 0h1v1h-1zM14 0h1v1h-1zM49 0h1v1h-1zM70 0h1v1h-1zM137 0h1v1h-1zM184 0h1v1h-1zM187 0h1v1h-1zM189 0h1v1h-1zM219 0h1v1h-1zM222 0h1v1h-1zM236 0h2v1h-2zM254 0h1v1h-1zM267 0h2v1h-2zM270 0h1v1h-1zM36 1h1v1h-1zM87 1h1v1h-1zM104 1h1v1h-1zM134 1h1v1h-1zM137 1h2v1h-2zM152 1h1v1h-1zM167 1h1v1h-1zM171 1h1v1h-1zM185 1h2v1h-2zM188 1h1v1h-1zM220 1h2v1h-2zM237 1h1v1h-1zM251 1h1v1h-1zM253 1h1v1h-1zM269 1h2v1h-2zM286 1h1v1h-1zM66 2h1v1h-1zM71 2h1v1h-1zM87 2h1v1h-1zM104 2h1v1h-1zM116 2h1v1h-1zM120 2h1v1h-1zM137 2h1v1h-1zM155 2h1v1h-1zM168 2h1v1h-1zM170 2h2v1h-2zM186 2h1v1h-1zM221 2h1v1h-1zM235 2h1v1h-1zM268 2h2v1h-2zM31 3h1v1h-1zM36 3h1v1h-1zM53 3h1v1h-1zM66 3h1v1h-1zM88 3h1v1h-1zM100 3h1v1h-1zM155 3h1v1h-1zM167 3h1v1h-1zM183 3h1v1h-1zM185 3h1v1h-1zM187 3h1v1h-1zM220 3h2v1h-2zM235 3h2v1h-2zM252 3h1v1h-1zM254 3h1v1h-1zM272 3h1v1h-1zM53 4h1v1h-1zM83 4h1v1h-1zM116 4h1v1h-1zM134 4h1v1h-1zM152 4h1v1h-1zM155 4h1v1h-1zM171 4h1v1h-1zM185 4h2v1h-2zM202 4h1v1h-1zM204 4h1v1h-1zM206 4h1v1h-1zM219 4h1v1h-1zM235 4h1v1h-1zM253 4h1v1h-1zM285 4h1v1h-1zM36 5h1v1h-1zM133 5h1v1h-1zM167 5h3v1h-3zM172 5h1v1h-1zM186 5h1v1h-1zM203 5h1v1h-1zM218 5h1v1h-1zM220 5h1v1h-1zM236 5h2v1h-2zM254 5h1v1h-1zM268 5h2v1h-2zM286 5h1v1h-1zM31 6h1v1h-1zM36 6h1v1h-1zM54 6h1v1h-1zM70 6h1v1h-1zM104 6h1v1h-1zM151 6h1v1h-1zM167 6h1v1h-1zM169 6h1v1h-1zM185 6h1v1h-1zM187 6h1v1h-1zM204 6h1v1h-1zM253 6h2v1h-2zM268 6h1v1h-1zM289 6h2v1h-2zM2 7h1v1h-1zM14 7h1v1h-1zM31 7h1v1h-1zM48 7h2v1h-2zM133 7h2v1h-2zM168 7h3v1h-3zM186 7h2v1h-2zM201 7h2v1h-2zM204 7h2v1h-2zM221 7h1v1h-1zM239 7h1v1h-1zM256 7h1v1h-1zM285 7h1v1h-1zM31 8h1v1h-1zM36 8h1v1h-1zM66 8h1v1h-1zM70 8h1v1h-1zM116 8h1v1h-1zM121 8h1v1h-1zM133 8h1v1h-1zM151 8h1v1h-1zM167 8h1v1h-1zM170 8h1v1h-1zM185 8h2v1h-2zM206 8h1v1h-1zM222 8h1v1h-1zM235 8h1v1h-1zM253 8h1v1h-1zM267 8h1v1h-1zM31 9h1v1h-1zM65 9h1v1h-1zM70 9h1v1h-1zM87 9h1v1h-1zM100 9h1v1h-1zM104 9h1v1h-1zM117 9h2v1h-2zM133 9h1v1h-1zM136 9h2v1h-2zM150 9h2v1h-2zM155 9h1v1h-1zM167 9h1v1h-1zM187 9h1v1h-1zM201 9h1v1h-1zM203 9h1v1h-1zM235 9h1v1h-1zM66 10h1v1h-1zM87 10h1v1h-1zM99 10h1v1h-1zM120 10h1v1h-1zM132 10h1v1h-1zM150 10h1v1h-1zM154 10h1v1h-1zM204 10h1v1h-1zM206 10h1v1h-1zM218 10h1v1h-1zM221 10h1v1h-1zM238 10h2v1h-2zM253 10h1v1h-1zM268 10h1v1h-1zM48 11h1v1h-1zM66 11h1v1h-1zM116 11h1v1h-1zM121 11h1v1h-1zM154 11h2v1h-2zM185 11h2v1h-2zM188 11h1v1h-1zM202 11h2v1h-2zM219 11h1v1h-1zM222 11h1v1h-1zM254 11h2v1h-2zM270 11h1v1h-1zM273 11h1v1h-1zM286 11h1v1h-1zM65 12h1v1h-1zM82 12h1v1h-1zM104 12h1v1h-1zM134 12h1v1h-1zM137 12h1v1h-1zM154 12h1v1h-1zM183 12h1v1h-1zM185 12h2v1h-2zM205 12h1v1h-1zM221 12h2v1h-2zM252 12h2v1h-2zM31 13h1v1h-1zM65 13h1v1h-1zM82 13h1v1h-1zM116 13h1v1h-1zM138 13h1v1h-1zM151 13h1v1h-1zM155 13h1v1h-1zM185 13h4v1h-4zM221 13h1v1h-1zM251 13h1v1h-1zM254 13h1v1h-1zM268 13h1v1h-1zM2 14h1v1h-1zM14 14h1v1h-1zM19 14h1v1h-1zM31 14h1v1h-1zM35 14h1v1h-1zM49 14h1v1h-1zM54 14h1v1h-1zM70 14h1v1h-1zM116 14h1v1h-1zM150 14h1v1h-1zM155 14h1v1h-1zM169 14h1v1h-1zM171 14h1v1h-1zM205 14h1v1h-1zM220 14h1v1h-1zM235 14h2v1h-2zM252 14h2v1h-2zM286 14h1v1h-1zM31 15h1v1h-1zM53 15h1v1h-1zM70 15h1v1h-1zM82 15h1v1h-1zM98 15h1v1h-1zM139 15h1v1h-1zM151 15h1v1h-1zM155 15h1v1h-1zM169 15h1v1h-1zM187 15h2v1h-2zM203 15h1v1h-1zM218 15h1v1h-1zM253 15h1v1h-1zM269 15h2v1h-2zM1 16h2v1h-2zM14 16h1v1h-1zM35 16h1v1h-1zM66 16h1v1h-1zM87 16h1v1h-1zM151 16h2v1h-2zM202 16h1v1h-1zM205 16h1v1h-1zM217 16h1v1h-1zM236 16h3v1h-3zM255 16h1v1h-1zM285 16h2v1h-2zM14 17h1v1h-1zM82 17h1v1h-1zM115 17h1v1h-1zM133 17h1v1h-1zM167 17h1v1h-1zM169 17h1v1h-1zM185 17h1v1h-1zM201 17h2v1h-2zM218 17h1v1h-1zM221 17h1v1h-1zM236 17h1v1h-1zM270 17h1v1h-1zM287 17h1v1h-1zM2 18h1v1h-1zM31 18h1v1h-1zM53 18h1v1h-1zM70 18h1v1h-1zM154 18h2v1h-2zM170 18h1v1h-1zM204 18h1v1h-1zM220 18h1v1h-1zM233 18h1v1h-1zM267 18h1v1h-1zM287 18h1v1h-1zM1 19h1v1h-1zM30 19h1v1h-1zM48 19h1v1h-1zM83 19h1v1h-1zM100 19h1v1h-1zM104 19h1v1h-1zM133 19h1v1h-1zM135 19h1v1h-1zM139 19h1v1h-1zM151 19h1v1h-1zM154 19h2v1h-2zM203 19h1v1h-1zM206 19h1v1h-1zM219 19h1v1h-1zM221 19h1v1h-1zM237 19h1v1h-1zM252 19h1v1h-1zM285 19h1v1h-1zM36 20h1v1h-1zM48 20h1v1h-1zM53 20h1v1h-1zM66 20h1v1h-1zM70 20h1v1h-1zM83 20h1v1h-1zM101 20h1v1h-1zM134 20h1v1h-1zM167 20h1v1h-1zM189 20h1v1h-1zM220 20h1v1h-1zM223 20h1v1h-1zM235 20h2v1h-2zM238 20h1v1h-1zM2 21h1v1h-1zM14 21h1v1h-1zM19 21h1v1h-1zM36 21h1v1h-1zM53 21h1v1h-1zM104 21h1v1h-1zM133 21h1v1h-1zM169 21h1v1h-1zM185 21h1v1h-1zM187 21h1v1h-1zM205 21h1v1h-1zM237 21h1v1h-1zM239 21h1v1h-1zM251 21h1v1h-1zM253 21h1v1h-1zM268 21h1v1h-1zM271 21h1v1h-1z"/><path fill="#b60000" d="M2 0h1v1h-1zM54 0h1v1h-1zM65 0h2v1h-2zM82 0h1v1h-1zM104 0h1v1h-1zM138 0h1v1h-1zM151 0h1v1h-1zM155 0h1v1h-1zM167 0h1v1h-1zM171 0h1v1h-1zM186 0h1v1h-1zM188 0h1v1h-1zM203 0h1v1h-1zM239 0h1v1h-1zM271 0h2v1h-2zM285 0h1v1h-1zM287 0h2v1h-2zM54 1h1v1h-1zM82 1h1v1h-1zM99 1h1v1h-1zM115 1h1v1h-1zM133 1h1v1h-1zM139 1h1v1h-1zM151 1h1v1h-1zM155 1h1v1h-1zM166 1h1v1h-1zM206 1h1v1h-1zM218 1h2v1h-2zM288 1h1v1h-1zM19 2h1v1h-1zM36 2h1v1h-1zM99 2h1v1h-1zM132 2h1v1h-1zM150 2h1v1h-1zM156 2h1v1h-1zM172 2h1v1h-1zM185 2h1v1h-1zM202 2h1v1h-1zM204 2h1v1h-1zM220 2h1v1h-1zM222 2h1v1h-1zM236 2h2v1h-2zM250 2h1v1h-1zM267 2h1v1h-1zM286 2h2v1h-2zM2 3h1v1h-1zM121 3h1v1h-1zM150 3h1v1h-1zM171 3h1v1h-1zM186 3h1v1h-1zM189 3h1v1h-1zM203 3h2v1h-2zM219 3h1v1h-1zM233 3h1v1h-1zM268 3h1v1h-1zM19 4h1v1h-1zM65 4h1v1h-1zM82 4h1v1h-1zM99 4h2v1h-2zM104 4h1v1h-1zM121 4h1v1h-1zM167 4h1v1h-1zM189 4h1v1h-1zM203 4h1v1h-1zM205 4h1v1h-1zM220 4h1v1h-1zM222 4h1v1h-1zM250 4h1v1h-1zM252 4h1v1h-1zM267 4h1v1h-1zM283 4h2v1h-2zM287 4h2v1h-2zM2 5h1v1h-1zM54 5h1v1h-1zM66 5h1v1h-1zM71 5h1v1h-1zM83 5h1v1h-1zM88 5h1v1h-1zM138 5h1v1h-1zM150 5h1v1h-1zM173 5h1v1h-1zM185 5h1v1h-1zM190 5h1v1h-1zM205 5h2v1h-2zM221 5h2v1h-2zM234 5h2v1h-2zM238 5h1v1h-1zM253 5h1v1h-1zM255 5h1v1h-1zM271 5h1v1h-1zM287 5h2v1h-2zM2 6h1v1h-1zM19 6h1v1h-1zM133 6h1v1h-1zM149 6h1v1h-1zM168 6h1v1h-1zM170 6h1v1h-1zM184 6h1v1h-1zM189 6h1v1h-1zM200 6h4v1h-4zM205 6h1v1h-1zM218 6h1v1h-1zM221 6h2v1h-2zM252 6h1v1h-1zM257 6h1v1h-1zM271 6h1v1h-1zM286 6h1v1h-1zM53 7h1v1h-1zM70 7h1v1h-1zM87 7h1v1h-1zM116 7h1v1h-1zM155 7h1v1h-1zM166 7h1v1h-1zM183 7h2v1h-2zM188 7h1v1h-1zM237 7h2v1h-2zM253 7h2v1h-2zM19 8h1v1h-1zM54 8h1v1h-1zM99 8h1v1h-1zM104 8h1v1h-1zM115 8h1v1h-1zM132 8h1v1h-1zM150 8h1v1h-1zM171 8h1v1h-1zM188 8h1v1h-1zM190 8h1v1h-1zM219 8h1v1h-1zM221 8h1v1h-1zM234 8h1v1h-1zM236 8h1v1h-1zM252 8h1v1h-1zM254 8h3v1h-3zM268 8h2v1h-2zM283 8h1v1h-1zM300 8h1v1h-1zM36 9h1v1h-1zM53 9h1v1h-1zM82 9h1v1h-1zM105 9h1v1h-1zM149 9h1v1h-1zM172 9h1v1h-1zM184 9h1v1h-1zM204 9h1v1h-1zM217 9h1v1h-1zM219 9h1v1h-1zM237 9h1v1h-1zM251 9h1v1h-1zM253 9h1v1h-1zM271 9h2v1h-2zM283 9h2v1h-2zM287 9h2v1h-2zM2 10h1v1h-1zM31 10h1v1h-1zM37 10h1v1h-1zM49 10h1v1h-1zM54 10h1v1h-1zM82 10h1v1h-1zM104 10h1v1h-1zM137 10h1v1h-1zM149 10h1v1h-1zM186 10h1v1h-1zM189 10h1v1h-1zM220 10h1v1h-1zM252 10h1v1h-1zM254 10h1v1h-1zM267 10h1v1h-1zM270 10h2v1h-2zM287 10h1v1h-1zM289 10h1v1h-1zM14 11h1v1h-1zM19 11h1v1h-1zM54 11h1v1h-1zM88 11h1v1h-1zM99 11h1v1h-1zM104 11h1v1h-1zM133 11h1v1h-1zM138 11h1v1h-1zM168 11h1v1h-1zM205 11h1v1h-1zM234 11h3v1h-3zM287 11h1v1h-1zM300 11h1v1h-1zM2 12h1v1h-1zM31 12h1v1h-1zM48 12h1v1h-1zM99 12h1v1h-1zM155 12h1v1h-1zM167 12h1v1h-1zM187 12h1v1h-1zM206 12h1v1h-1zM223 12h1v1h-1zM235 12h2v1h-2zM238 12h1v1h-1zM251 12h1v1h-1zM255 12h1v1h-1zM269 12h3v1h-3zM284 12h1v1h-1zM286 12h2v1h-2zM2 13h1v1h-1zM48 13h1v1h-1zM88 13h1v1h-1zM105 13h1v1h-1zM121 13h1v1h-1zM156 13h1v1h-1zM172 13h1v1h-1zM189 13h2v1h-2zM201 13h1v1h-1zM219 13h2v1h-2zM222 13h1v1h-1zM234 13h1v1h-1zM236 13h2v1h-2zM267 13h1v1h-1zM269 13h1v1h-1zM36 14h1v1h-1zM82 14h1v1h-1zM87 14h1v1h-1zM99 14h1v1h-1zM104 14h1v1h-1zM121 14h1v1h-1zM134 14h1v1h-1zM151 14h1v1h-1zM186 14h1v1h-1zM189 14h1v1h-1zM202 14h2v1h-2zM206 14h1v1h-1zM237 14h1v1h-1zM268 14h1v1h-1zM270 14h4v1h-4zM284 14h1v1h-1zM2 15h1v1h-1zM14 15h1v1h-1zM30 15h1v1h-1zM36 15h1v1h-1zM48 15h1v1h-1zM71 15h1v1h-1zM87 15h1v1h-1zM121 15h1v1h-1zM171 15h1v1h-1zM184 15h1v1h-1zM204 15h1v1h-1zM233 15h1v1h-1zM237 15h1v1h-1zM286 15h4v1h-4zM54 16h1v1h-1zM88 16h1v1h-1zM99 16h1v1h-1zM104 16h1v1h-1zM115 16h1v1h-1zM137 16h1v1h-1zM169 16h1v1h-1zM171 16h2v1h-2zM184 16h1v1h-1zM188 16h1v1h-1zM203 16h1v1h-1zM221 16h2v1h-2zM235 16h1v1h-1zM251 16h1v1h-1zM271 16h1v1h-1zM287 16h1v1h-1zM2 17h1v1h-1zM31 17h1v1h-1zM36 17h1v1h-1zM48 17h1v1h-1zM53 17h1v1h-1zM65 17h1v1h-1zM99 17h1v1h-1zM104 17h1v1h-1zM121 17h1v1h-1zM137 17h1v1h-1zM153 17h1v1h-1zM165 17h2v1h-2zM183 17h2v1h-2zM200 17h1v1h-1zM204 17h1v1h-1zM219 17h2v1h-2zM222 17h1v1h-1zM234 17h1v1h-1zM237 17h1v1h-1zM251 17h1v1h-1zM253 17h1v1h-1zM255 17h1v1h-1zM268 17h1v1h-1zM285 17h1v1h-1zM19 18h1v1h-1zM54 18h1v1h-1zM71 18h1v1h-1zM114 18h1v1h-1zM137 18h1v1h-1zM166 18h1v1h-1zM190 18h1v1h-1zM266 18h1v1h-1zM270 18h2v1h-2zM285 18h2v1h-2zM2 19h1v1h-1zM13 19h1v1h-1zM66 19h1v1h-1zM71 19h1v1h-1zM88 19h1v1h-1zM99 19h1v1h-1zM116 19h1v1h-1zM134 19h1v1h-1zM202 19h1v1h-1zM205 19h1v1h-1zM218 19h1v1h-1zM220 19h1v1h-1zM223 19h1v1h-1zM235 19h1v1h-1zM254 19h3v1h-3zM286 19h3v1h-3zM2 20h1v1h-1zM13 20h1v1h-1zM19 20h1v1h-1zM31 20h1v1h-1zM117 20h1v1h-1zM133 20h1v1h-1zM151 20h1v1h-1zM155 20h1v1h-1zM170 20h2v1h-2zM183 20h1v1h-1zM187 20h1v1h-1zM202 20h1v1h-1zM218 20h1v1h-1zM252 20h1v1h-1zM254 20h1v1h-1zM270 20h1v1h-1zM285 20h1v1h-1zM288 20h1v1h-1zM31 21h1v1h-1zM87 21h1v1h-1zM120 21h1v1h-1zM132 21h1v1h-1zM172 21h1v1h-1zM188 21h1v1h-1zM201 21h1v1h-1zM219 21h1v1h-1zM221 21h1v1h-1zM236 21h1v1h-1zM238 21h1v1h-1zM269 21h1v1h-1zM285 21h1v1h-1zM287 21h1v1h-1z"/><path fill="#db0000" d="M19 0h1v1h-1zM31 0h1v1h-1zM48 0h1v1h-1zM71 0h1v1h-1zM88 0h1v1h-1zM99 0h1v1h-1zM115 0h1v1h-1zM121 0h1v1h-1zM133 0h1v1h-1zM172 0h1v1h-1zM206 0h1v1h-1zM217 0h1v1h-1zM220 0h1v1h-1zM235 0h1v1h-1zM240 0h1v1h-1zM251 0h1v1h-1zM255 0h1v1h-1zM2 1h1v1h-1zM19 1h1v1h-1zM48 1h1v1h-1zM65 1h1v1h-1zM88 1h1v1h-1zM132 1h1v1h-1zM202 1h2v1h-2zM252 1h1v1h-1zM255 1h1v1h-1zM271 1h1v1h-1zM2 2h1v1h-1zM13 2h1v1h-1zM30 2h1v1h-1zM48 2h1v1h-1zM54 2h1v1h-1zM65 2h1v1h-1zM82 2h1v1h-1zM138 2h1v1h-1zM167 2h1v1h-1zM190 2h2v1h-2zM219 2h1v1h-1zM223 2h1v1h-1zM252 2h3v1h-3zM270 2h1v1h-1zM299 2h1v1h-1zM13 3h1v1h-1zM48 3h1v1h-1zM54 3h1v1h-1zM82 3h1v1h-1zM105 3h1v1h-1zM116 3h1v1h-1zM122 3h1v1h-1zM138 3h2v1h-2zM201 3h2v1h-2zM218 3h1v1h-1zM237 3h1v1h-1zM255 3h1v1h-1zM269 3h1v1h-1zM271 3h1v1h-1zM284 3h1v1h-1zM286 3h2v1h-2zM289 3h1v1h-1zM2 4h1v1h-1zM31 4h1v1h-1zM48 4h1v1h-1zM88 4h1v1h-1zM139 4h1v1h-1zM172 4h1v1h-1zM188 4h1v1h-1zM233 4h2v1h-2zM237 4h1v1h-1zM249 4h1v1h-1zM254 4h1v1h-1zM269 4h2v1h-2zM286 4h1v1h-1zM289 4h1v1h-1zM13 5h1v1h-1zM48 5h1v1h-1zM82 5h1v1h-1zM105 5h1v1h-1zM115 5h1v1h-1zM120 5h1v1h-1zM202 5h1v1h-1zM219 5h1v1h-1zM256 5h2v1h-2zM270 5h1v1h-1zM285 5h1v1h-1zM289 5h1v1h-1zM37 6h1v1h-1zM65 6h1v1h-1zM81 6h1v1h-1zM98 6h1v1h-1zM115 6h1v1h-1zM138 6h1v1h-1zM238 6h1v1h-1zM255 6h2v1h-2zM272 6h1v1h-1zM287 6h2v1h-2zM104 7h1v1h-1zM132 7h1v1h-1zM138 7h1v1h-1zM150 7h1v1h-1zM189 7h1v1h-1zM217 7h1v1h-1zM222 7h1v1h-1zM235 7h1v1h-1zM252 7h1v1h-1zM268 7h1v1h-1zM271 7h1v1h-1zM288 7h1v1h-1zM300 7h1v1h-1zM2 8h1v1h-1zM71 8h1v1h-1zM88 8h1v1h-1zM138 8h1v1h-1zM155 8h1v1h-1zM166 8h1v1h-1zM184 8h1v1h-1zM189 8h1v1h-1zM201 8h1v1h-1zM223 8h1v1h-1zM270 8h2v1h-2zM282 8h1v1h-1zM285 8h1v1h-1zM299 8h1v1h-1zM2 9h1v1h-1zM19 9h1v1h-1zM30 9h1v1h-1zM47 9h1v1h-1zM88 9h1v1h-1zM132 9h1v1h-1zM173 9h1v1h-1zM200 9h1v1h-1zM216 9h1v1h-1zM220 9h2v1h-2zM234 9h1v1h-1zM236 9h1v1h-1zM285 9h1v1h-1zM19 10h1v1h-1zM55 10h1v1h-1zM168 10h1v1h-1zM172 10h1v1h-1zM202 10h1v1h-1zM219 10h1v1h-1zM222 10h1v1h-1zM236 10h1v1h-1zM284 10h1v1h-1zM286 10h1v1h-1zM2 11h1v1h-1zM30 11h1v1h-1zM82 11h1v1h-1zM122 11h1v1h-1zM139 11h1v1h-1zM184 11h1v1h-1zM190 11h1v1h-1zM206 11h1v1h-1zM237 11h2v1h-2zM252 11h1v1h-1zM256 11h1v1h-1zM268 11h2v1h-2zM285 11h1v1h-1zM13 12h1v1h-1zM19 12h1v1h-1zM37 12h1v1h-1zM88 12h1v1h-1zM115 12h1v1h-1zM121 12h1v1h-1zM132 12h1v1h-1zM171 12h1v1h-1zM218 12h1v1h-1zM224 12h1v1h-1zM234 12h1v1h-1zM256 12h1v1h-1zM19 13h1v1h-1zM36 13h1v1h-1zM71 13h1v1h-1zM150 13h1v1h-1zM152 13h1v1h-1zM173 13h1v1h-1zM202 13h1v1h-1zM223 13h1v1h-1zM235 13h1v1h-1zM238 13h1v1h-1zM249 13h2v1h-2zM266 13h1v1h-1zM271 13h1v1h-1zM282 13h1v1h-1zM284 13h1v1h-1zM48 14h1v1h-1zM65 14h1v1h-1zM140 14h1v1h-1zM173 14h1v1h-1zM184 14h1v1h-1zM207 14h1v1h-1zM222 14h1v1h-1zM256 14h1v1h-1zM285 14h1v1h-1zM289 14h1v1h-1zM19 15h1v1h-1zM65 15h1v1h-1zM104 15h1v1h-1zM133 15h1v1h-1zM167 15h1v1h-1zM172 15h1v1h-1zM189 15h1v1h-1zM206 15h1v1h-1zM219 15h1v1h-1zM221 15h1v1h-1zM251 15h2v1h-2zM254 15h1v1h-1zM285 15h1v1h-1zM19 16h1v1h-1zM65 16h1v1h-1zM71 16h1v1h-1zM133 16h1v1h-1zM150 16h1v1h-1zM168 16h1v1h-1zM183 16h1v1h-1zM201 16h1v1h-1zM216 16h1v1h-1zM223 16h1v1h-1zM239 16h1v1h-1zM267 16h2v1h-2zM270 16h1v1h-1zM272 16h1v1h-1zM288 16h1v1h-1zM13 17h1v1h-1zM19 17h1v1h-1zM70 17h1v1h-1zM170 17h1v1h-1zM203 17h1v1h-1zM238 17h1v1h-1zM271 17h2v1h-2zM286 17h1v1h-1zM13 18h1v1h-1zM36 18h1v1h-1zM48 18h1v1h-1zM65 18h1v1h-1zM88 18h1v1h-1zM98 18h1v1h-1zM103 18h1v1h-1zM120 18h1v1h-1zM132 18h1v1h-1zM156 18h1v1h-1zM172 18h1v1h-1zM184 18h1v1h-1zM202 18h1v1h-1zM205 18h1v1h-1zM217 18h1v1h-1zM237 18h1v1h-1zM249 18h2v1h-2zM252 18h3v1h-3zM268 18h1v1h-1zM283 18h1v1h-1zM121 19h1v1h-1zM150 19h1v1h-1zM166 19h1v1h-1zM172 19h1v1h-1zM184 19h1v1h-1zM189 19h1v1h-1zM201 19h1v1h-1zM207 19h1v1h-1zM222 19h1v1h-1zM236 19h1v1h-1zM239 19h1v1h-1zM268 19h5v1h-5zM284 19h1v1h-1zM65 20h1v1h-1zM71 20h1v1h-1zM82 20h1v1h-1zM88 20h1v1h-1zM116 20h1v1h-1zM138 20h1v1h-1zM156 20h1v1h-1zM172 20h1v1h-1zM184 20h1v1h-1zM206 20h1v1h-1zM222 20h1v1h-1zM234 20h1v1h-1zM255 20h1v1h-1zM286 20h2v1h-2zM290 20h1v1h-1zM48 21h1v1h-1zM54 21h1v1h-1zM65 21h1v1h-1zM71 21h1v1h-1zM81 21h1v1h-1zM98 21h1v1h-1zM115 21h1v1h-1zM121 21h1v1h-1zM155 21h1v1h-1zM203 21h1v1h-1zM206 21h1v1h-1zM222 21h1v1h-1zM224 21h1v1h-1zM235 21h1v1h-1zM240 21h1v1h-1zM250 21h1v1h-1zM270 21h1v1h-1zM284 21h1v1h-1zM288 21h2v1h-2z"/><path fill="#ff0000" d="M30 0h1v1h-1zM55 0h1v1h-1zM105 0h1v1h-1zM156 0h1v1h-1zM183 0h1v1h-1zM202 0h1v1h-1zM218 0h1v1h-1zM252 0h1v1h-1zM284 0h1v1h-1zM289 0h1v1h-1zM13 1h1v1h-1zM30 1h1v1h-1zM71 1h1v1h-1zM105 1h1v1h-1zM114 1h1v1h-1zM150 1h1v1h-1zM156 1h1v1h-1zM172 1h1v1h-1zM184 1h1v1h-1zM189 1h3v1h-3zM207 1h1v1h-1zM222 1h1v1h-1zM234 1h1v1h-1zM239 1h1v1h-1zM272 1h1v1h-1zM289 1h2v1h-2zM115 2h1v1h-1zM151 2h1v1h-1zM255 2h1v1h-1zM285 2h1v1h-1zM288 2h3v1h-3zM37 3h1v1h-1zM65 3h1v1h-1zM71 3h1v1h-1zM89 3h1v1h-1zM133 3h1v1h-1zM156 3h1v1h-1zM166 3h1v1h-1zM172 3h1v1h-1zM200 3h1v1h-1zM222 3h2v1h-2zM232 3h1v1h-1zM238 3h1v1h-1zM256 3h1v1h-1zM270 3h1v1h-1zM283 3h1v1h-1zM285 3h1v1h-1zM288 3h1v1h-1zM290 3h1v1h-1zM37 4h1v1h-1zM71 4h1v1h-1zM122 4h1v1h-1zM157 4h1v1h-1zM184 4h1v1h-1zM207 4h1v1h-1zM282 4h1v1h-1zM19 5h1v1h-1zM30 5h1v1h-1zM99 5h1v1h-1zM114 5h1v1h-1zM155 5h1v1h-1zM184 5h1v1h-1zM201 5h1v1h-1zM207 5h1v1h-1zM239 5h1v1h-1zM252 5h1v1h-1zM13 6h1v1h-1zM71 6h1v1h-1zM87 6h1v1h-1zM97 6h1v1h-1zM121 6h1v1h-1zM154 6h1v1h-1zM183 6h1v1h-1zM206 6h1v1h-1zM216 6h1v1h-1zM233 6h2v1h-2zM251 6h1v1h-1zM284 6h2v1h-2zM13 7h1v1h-1zM19 7h1v1h-1zM30 7h1v1h-1zM81 7h1v1h-1zM88 7h1v1h-1zM165 7h1v1h-1zM200 7h1v1h-1zM223 7h1v1h-1zM234 7h1v1h-1zM240 7h1v1h-1zM257 7h1v1h-1zM272 7h1v1h-1zM299 7h1v1h-1zM30 8h1v1h-1zM37 8h1v1h-1zM131 8h1v1h-1zM156 8h1v1h-1zM207 8h1v1h-1zM218 8h1v1h-1zM233 8h1v1h-1zM284 8h1v1h-1zM71 9h1v1h-1zM81 9h1v1h-1zM122 9h1v1h-1zM138 9h1v1h-1zM183 9h1v1h-1zM205 9h1v1h-1zM222 9h1v1h-1zM238 9h1v1h-1zM250 9h1v1h-1zM254 9h2v1h-2zM268 9h1v1h-1zM13 10h1v1h-1zM20 10h1v1h-1zM48 10h1v1h-1zM65 10h1v1h-1zM71 10h1v1h-1zM88 10h1v1h-1zM98 10h1v1h-1zM115 10h1v1h-1zM121 10h1v1h-1zM131 10h1v1h-1zM138 10h1v1h-1zM155 10h1v1h-1zM167 10h1v1h-1zM185 10h1v1h-1zM190 10h1v1h-1zM207 10h1v1h-1zM237 10h1v1h-1zM251 10h1v1h-1zM255 10h2v1h-2zM266 10h1v1h-1zM13 11h1v1h-1zM36 11h1v1h-1zM55 11h1v1h-1zM72 11h1v1h-1zM115 11h1v1h-1zM167 11h1v1h-1zM172 11h2v1h-2zM201 11h1v1h-1zM233 11h1v1h-1zM239 11h1v1h-1zM257 11h2v1h-2zM272 11h1v1h-1zM289 11h1v1h-1zM54 12h1v1h-1zM71 12h1v1h-1zM81 12h1v1h-1zM138 12h1v1h-1zM150 12h1v1h-1zM156 12h1v1h-1zM182 12h1v1h-1zM201 12h1v1h-1zM207 12h1v1h-1zM219 12h1v1h-1zM233 12h1v1h-1zM268 12h1v1h-1zM272 12h2v1h-2zM285 12h1v1h-1zM13 13h1v1h-1zM37 13h1v1h-1zM54 13h1v1h-1zM99 13h1v1h-1zM115 13h1v1h-1zM139 13h1v1h-1zM166 13h2v1h-2zM184 13h1v1h-1zM191 13h1v1h-1zM218 13h1v1h-1zM255 13h1v1h-1zM286 13h2v1h-2zM300 13h1v1h-1zM13 14h1v1h-1zM30 14h1v1h-1zM81 14h1v1h-1zM98 14h1v1h-1zM105 14h1v1h-1zM156 14h1v1h-1zM166 14h2v1h-2zM233 14h1v1h-1zM274 14h1v1h-1zM288 14h1v1h-1zM3 15h1v1h-1zM13 15h1v1h-1zM37 15h1v1h-1zM54 15h1v1h-1zM122 15h1v1h-1zM150 15h1v1h-1zM183 15h1v1h-1zM190 15h1v1h-1zM202 15h1v1h-1zM234 15h1v1h-1zM239 15h1v1h-1zM250 15h1v1h-1zM255 15h1v1h-1zM257 15h1v1h-1zM272 15h1v1h-1zM30 16h1v1h-1zM48 16h1v1h-1zM82 16h1v1h-1zM132 16h1v1h-1zM138 16h1v1h-1zM156 16h1v1h-1zM173 16h1v1h-1zM200 16h1v1h-1zM206 16h1v1h-1zM224 16h1v1h-1zM234 16h1v1h-1zM252 16h1v1h-1zM254 16h1v1h-1zM256 16h1v1h-1zM269 16h1v1h-1zM283 16h1v1h-1zM64 17h1v1h-1zM71 17h1v1h-1zM81 17h1v1h-1zM88 17h1v1h-1zM138 17h1v1h-1zM171 17h1v1h-1zM188 17h1v1h-1zM233 17h1v1h-1zM250 17h1v1h-1zM269 17h1v1h-1zM30 18h1v1h-1zM165 18h1v1h-1zM171 18h1v1h-1zM191 18h1v1h-1zM201 18h1v1h-1zM206 18h1v1h-1zM218 18h1v1h-1zM222 18h1v1h-1zM238 18h1v1h-1zM265 18h1v1h-1zM269 18h1v1h-1zM284 18h1v1h-1zM289 18h1v1h-1zM291 18h1v1h-1zM19 19h1v1h-1zM36 19h1v1h-1zM82 19h1v1h-1zM105 19h1v1h-1zM115 19h1v1h-1zM122 19h1v1h-1zM183 19h1v1h-1zM190 19h1v1h-1zM234 19h1v1h-1zM240 19h2v1h-2zM251 19h1v1h-1zM267 19h1v1h-1zM273 19h1v1h-1zM290 19h1v1h-1zM54 20h1v1h-1zM99 20h1v1h-1zM105 20h1v1h-1zM139 20h1v1h-1zM150 20h1v1h-1zM217 20h1v1h-1zM239 20h1v1h-1zM256 20h1v1h-1zM266 20h4v1h-4zM271 20h3v1h-3zM289 20h1v1h-1zM291 20h1v1h-1zM13 21h1v1h-1zM30 21h1v1h-1zM37 21h1v1h-1zM138 21h2v1h-2zM166 21h1v1h-1zM183 21h1v1h-1zM234 21h1v1h-1zM283 21h1v1h-1z"/><path fill="#ff2400" d="M13 0h1v1h-1zM20 0h1v1h-1zM37 0h1v1h-1zM81 0h1v1h-1zM122 0h1v1h-1zM132 0h1v1h-1zM166 0h1v1h-1zM190 0h1v1h-1zM207 0h1v1h-1zM223 0h1v1h-1zM283 0h1v1h-1zM64 1h1v1h-1zM98 1h1v1h-1zM121 1h1v1h-1zM201 1h1v1h-1zM208 1h1v1h-1zM216 1h2v1h-2zM223 1h1v1h-1zM240 1h1v1h-1zM268 1h1v1h-1zM274 1h1v1h-1zM285 1h1v1h-1zM291 1h1v1h-1zM37 2h1v1h-1zM88 2h1v1h-1zM98 2h1v1h-1zM121 2h1v1h-1zM131 2h1v1h-1zM166 2h1v1h-1zM192 2h1v1h-1zM201 2h1v1h-1zM218 2h1v1h-1zM234 2h1v1h-1zM238 2h1v1h-1zM256 2h2v1h-2zM266 2h1v1h-1zM271 2h1v1h-1zM283 2h2v1h-2zM3 3h1v1h-1zM20 3h1v1h-1zM30 3h1v1h-1zM99 3h1v1h-1zM106 3h1v1h-1zM115 3h1v1h-1zM132 3h1v1h-1zM157 3h1v1h-1zM207 3h1v1h-1zM251 3h1v1h-1zM267 3h1v1h-1zM282 3h1v1h-1zM13 4h1v1h-1zM20 4h1v1h-1zM30 4h1v1h-1zM47 4h1v1h-1zM54 4h1v1h-1zM105 4h1v1h-1zM115 4h1v1h-1zM133 4h1v1h-1zM150 4h1v1h-1zM156 4h1v1h-1zM183 4h1v1h-1zM208 4h1v1h-1zM218 4h1v1h-1zM223 4h1v1h-1zM238 4h1v1h-1zM255 4h1v1h-1zM266 4h1v1h-1zM37 5h1v1h-1zM72 5h1v1h-1zM121 5h1v1h-1zM132 5h1v1h-1zM139 5h1v1h-1zM156 5h1v1h-1zM166 5h1v1h-1zM174 5h1v1h-1zM233 5h1v1h-1zM251 5h1v1h-1zM284 5h1v1h-1zM300 5h1v1h-1zM3 6h1v1h-1zM20 6h1v1h-1zM30 6h1v1h-1zM48 6h1v1h-1zM64 6h1v1h-1zM88 6h1v1h-1zM132 6h1v1h-1zM148 6h1v1h-1zM165 6h1v1h-1zM171 6h1v1h-1zM199 6h1v1h-1zM217 6h1v1h-1zM232 6h1v1h-1zM269 6h1v1h-1zM20 7h1v1h-1zM37 7h1v1h-1zM47 7h1v1h-1zM64 7h1v1h-1zM98 7h1v1h-1zM105 7h1v1h-1zM122 7h1v1h-1zM139 7h2v1h-2zM171 7h1v1h-1zM190 7h1v1h-1zM199 7h1v1h-1zM206 7h1v1h-1zM232 7h1v1h-1zM251 7h1v1h-1zM282 7h2v1h-2zM287 7h1v1h-1zM3 8h1v1h-1zM13 8h1v1h-1zM20 8h1v1h-1zM48 8h1v1h-1zM82 8h1v1h-1zM172 8h1v1h-1zM183 8h1v1h-1zM202 8h1v1h-1zM232 8h1v1h-1zM250 8h1v1h-1zM257 8h1v1h-1zM266 8h1v1h-1zM272 8h1v1h-1zM280 8h1v1h-1zM286 8h2v1h-2zM13 9h1v1h-1zM54 9h1v1h-1zM64 9h1v1h-1zM99 9h1v1h-1zM116 9h1v1h-1zM188 9h1v1h-1zM199 9h1v1h-1zM233 9h1v1h-1zM267 9h1v1h-1zM299 9h2v1h-2zM3 10h1v1h-1zM30 10h1v1h-1zM72 10h1v1h-1zM105 10h1v1h-1zM191 10h1v1h-1zM201 10h1v1h-1zM223 10h1v1h-1zM234 10h1v1h-1zM240 10h2v1h-2zM272 10h1v1h-1zM283 10h1v1h-1zM288 10h1v1h-1zM20 11h1v1h-1zM98 11h1v1h-1zM132 11h1v1h-1zM150 11h1v1h-1zM156 11h1v1h-1zM189 11h1v1h-1zM191 11h1v1h-1zM249 11h2v1h-2zM267 11h1v1h-1zM284 11h1v1h-1zM30 12h1v1h-1zM64 12h1v1h-1zM89 12h1v1h-1zM98 12h1v1h-1zM139 12h1v1h-1zM148 12h1v1h-1zM166 12h1v1h-1zM188 12h1v1h-1zM200 12h1v1h-1zM217 12h1v1h-1zM239 12h1v1h-1zM257 12h1v1h-1zM288 12h2v1h-2zM299 12h2v1h-2zM30 13h1v1h-1zM206 13h2v1h-2zM233 13h1v1h-1zM239 13h1v1h-1zM283 13h1v1h-1zM20 14h1v1h-1zM47 14h1v1h-1zM122 14h1v1h-1zM157 14h1v1h-1zM174 14h1v1h-1zM185 14h1v1h-1zM200 14h1v1h-1zM217 14h3v1h-3zM223 14h1v1h-1zM232 14h1v1h-1zM238 14h1v1h-1zM251 14h1v1h-1zM255 14h1v1h-1zM257 14h1v1h-1zM64 15h1v1h-1zM81 15h1v1h-1zM115 15h1v1h-1zM132 15h1v1h-1zM140 15h1v1h-1zM156 15h1v1h-1zM165 15h1v1h-1zM173 15h1v1h-1zM201 15h1v1h-1zM207 15h1v1h-1zM216 15h1v1h-1zM232 15h1v1h-1zM238 15h1v1h-1zM267 15h2v1h-2zM3 16h1v1h-1zM13 16h1v1h-1zM20 16h1v1h-1zM37 16h1v1h-1zM55 16h1v1h-1zM89 16h1v1h-1zM114 16h1v1h-1zM121 16h1v1h-1zM157 16h1v1h-1zM182 16h1v1h-1zM189 16h1v1h-1zM199 16h1v1h-1zM300 16h1v1h-1zM3 17h1v1h-1zM30 17h1v1h-1zM47 17h1v1h-1zM54 17h1v1h-1zM98 17h1v1h-1zM132 17h1v1h-1zM149 17h1v1h-1zM154 17h1v1h-1zM189 17h1v1h-1zM199 17h1v1h-1zM205 17h1v1h-1zM217 17h1v1h-1zM223 17h1v1h-1zM239 17h1v1h-1zM252 17h1v1h-1zM273 17h1v1h-1zM284 17h1v1h-1zM289 17h1v1h-1zM300 17h1v1h-1zM55 18h1v1h-1zM82 18h1v1h-1zM97 18h1v1h-1zM138 18h1v1h-1zM216 18h1v1h-1zM248 18h1v1h-1zM255 18h1v1h-1zM290 18h1v1h-1zM3 19h1v1h-1zM29 19h1v1h-1zM54 19h1v1h-1zM65 19h1v1h-1zM72 19h1v1h-1zM89 19h1v1h-1zM140 19h1v1h-1zM156 19h1v1h-1zM217 19h1v1h-1zM266 19h1v1h-1zM289 19h1v1h-1zM30 20h1v1h-1zM37 20h1v1h-1zM47 20h1v1h-1zM122 20h1v1h-1zM132 20h1v1h-1zM166 20h1v1h-1zM182 20h1v1h-1zM258 20h1v1h-1zM20 21h1v1h-1zM55 21h1v1h-1zM149 21h1v1h-1zM156 21h1v1h-1zM173 21h1v1h-1zM182 21h1v1h-1zM190 21h1v1h-1zM220 21h1v1h-1zM241 21h1v1h-1zM254 21h2v1h-2zM267 21h1v1h-1z"/><path fill="#ff4900" d="M47 0h1v1h-1zM98 0h1v1h-1zM114 0h1v1h-1zM150 0h1v1h-1zM225 0h1v1h-1zM234 0h1v1h-1zM241 0h1v1h-1zM256 0h1v1h-1zM266 0h1v1h-1zM273 0h1v1h-1zM281 0h1v1h-1zM290 0h1v1h-1zM300 0h1v1h-1zM3 1h1v1h-1zM81 1h1v1h-1zM122 1h1v1h-1zM183 1h1v1h-1zM200 1h1v1h-1zM224 1h1v1h-1zM232 1h1v1h-1zM250 1h1v1h-1zM256 1h2v1h-2zM273 1h1v1h-1zM283 1h2v1h-2zM3 2h1v1h-1zM12 2h1v1h-1zM20 2h1v1h-1zM47 2h1v1h-1zM55 2h1v1h-1zM72 2h1v1h-1zM81 2h1v1h-1zM122 2h1v1h-1zM139 2h1v1h-1zM149 2h1v1h-1zM173 2h1v1h-1zM208 2h1v1h-1zM239 2h1v1h-1zM140 3h1v1h-1zM149 3h1v1h-1zM165 3h1v1h-1zM182 3h1v1h-1zM217 3h1v1h-1zM239 3h1v1h-1zM250 3h1v1h-1zM257 3h1v1h-1zM273 3h1v1h-1zM3 4h1v1h-1zM64 4h1v1h-1zM132 4h1v1h-1zM140 4h1v1h-1zM166 4h1v1h-1zM173 4h1v1h-1zM190 4h1v1h-1zM201 4h1v1h-1zM217 4h1v1h-1zM224 4h1v1h-1zM232 4h1v1h-1zM248 4h1v1h-1zM265 4h1v1h-1zM271 4h1v1h-1zM300 4h1v1h-1zM3 5h1v1h-1zM55 5h1v1h-1zM65 5h1v1h-1zM98 5h1v1h-1zM131 5h1v1h-1zM149 5h1v1h-1zM175 5h1v1h-1zM191 5h1v1h-1zM217 5h1v1h-1zM223 5h2v1h-2zM240 5h1v1h-1zM258 5h1v1h-1zM267 5h1v1h-1zM273 5h2v1h-2zM290 5h1v1h-1zM55 6h1v1h-1zM105 6h1v1h-1zM122 6h1v1h-1zM139 6h1v1h-1zM155 6h1v1h-1zM182 6h1v1h-1zM207 6h1v1h-1zM215 6h1v1h-1zM239 6h1v1h-1zM249 6h2v1h-2zM267 6h1v1h-1zM273 6h1v1h-1zM283 6h1v1h-1zM291 6h1v1h-1zM3 7h1v1h-1zM29 7h1v1h-1zM54 7h1v1h-1zM71 7h1v1h-1zM80 7h1v1h-1zM115 7h1v1h-1zM149 7h1v1h-1zM156 7h1v1h-1zM172 7h1v1h-1zM207 7h1v1h-1zM241 7h1v1h-1zM258 7h1v1h-1zM267 7h1v1h-1zM289 7h1v1h-1zM55 8h1v1h-1zM64 8h1v1h-1zM98 8h1v1h-1zM105 8h1v1h-1zM149 8h1v1h-1zM191 8h1v1h-1zM200 8h1v1h-1zM237 8h1v1h-1zM251 8h1v1h-1zM281 8h1v1h-1zM298 8h1v1h-1zM12 9h1v1h-1zM20 9h1v1h-1zM29 9h1v1h-1zM37 9h1v1h-1zM106 9h1v1h-1zM148 9h1v1h-1zM166 9h1v1h-1zM206 9h1v1h-1zM215 9h1v1h-1zM239 9h1v1h-1zM257 9h1v1h-1zM282 9h1v1h-1zM289 9h1v1h-1zM12 10h1v1h-1zM38 10h1v1h-1zM81 10h1v1h-1zM156 10h2v1h-2zM166 10h1v1h-1zM173 10h1v1h-1zM224 10h1v1h-1zM235 10h1v1h-1zM250 10h1v1h-1zM273 10h1v1h-1zM300 10h1v1h-1zM3 11h1v1h-1zM37 11h1v1h-1zM47 11h1v1h-1zM65 11h1v1h-1zM89 11h1v1h-1zM105 11h1v1h-1zM149 11h1v1h-1zM157 11h1v1h-1zM166 11h1v1h-1zM183 11h1v1h-1zM216 11h2v1h-2zM223 11h1v1h-1zM232 11h1v1h-1zM240 11h1v1h-1zM274 11h1v1h-1zM283 11h1v1h-1zM288 11h1v1h-1zM299 11h1v1h-1zM20 12h1v1h-1zM105 12h1v1h-1zM131 12h1v1h-1zM149 12h1v1h-1zM181 12h1v1h-1zM225 12h1v1h-1zM250 12h1v1h-1zM258 12h1v1h-1zM267 12h1v1h-1zM283 12h1v1h-1zM298 12h1v1h-1zM20 13h1v1h-1zM47 13h1v1h-1zM55 13h1v1h-1zM64 13h1v1h-1zM81 13h1v1h-1zM106 13h1v1h-1zM122 13h1v1h-1zM132 13h1v1h-1zM140 13h1v1h-1zM208 13h1v1h-1zM224 13h1v1h-1zM232 13h1v1h-1zM288 13h2v1h-2zM3 14h1v1h-1zM37 14h1v1h-1zM55 14h1v1h-1zM64 14h1v1h-1zM71 14h1v1h-1zM88 14h1v1h-1zM133 14h1v1h-1zM149 14h1v1h-1zM190 14h1v1h-1zM199 14h1v1h-1zM201 14h1v1h-1zM224 14h1v1h-1zM231 14h1v1h-1zM239 14h1v1h-1zM250 14h1v1h-1zM266 14h1v1h-1zM299 14h2v1h-2zM55 15h1v1h-1zM97 15h1v1h-1zM166 15h1v1h-1zM200 15h1v1h-1zM217 15h1v1h-1zM222 15h2v1h-2zM256 15h1v1h-1zM283 15h2v1h-2zM290 15h2v1h-2zM12 16h1v1h-1zM64 16h1v1h-1zM72 16h1v1h-1zM81 16h1v1h-1zM98 16h1v1h-1zM105 16h1v1h-1zM122 16h1v1h-1zM139 16h1v1h-1zM167 16h1v1h-1zM240 16h1v1h-1zM250 16h1v1h-1zM257 16h2v1h-2zM266 16h1v1h-1zM284 16h1v1h-1zM20 17h1v1h-1zM37 17h1v1h-1zM89 17h1v1h-1zM122 17h1v1h-1zM163 17h2v1h-2zM182 17h1v1h-1zM206 17h1v1h-1zM216 17h1v1h-1zM256 17h1v1h-1zM267 17h1v1h-1zM283 17h1v1h-1zM29 18h1v1h-1zM37 18h1v1h-1zM72 18h1v1h-1zM113 18h1v1h-1zM149 18h1v1h-1zM183 18h1v1h-1zM207 18h1v1h-1zM239 18h1v1h-1zM264 18h1v1h-1zM12 19h1v1h-1zM37 19h1v1h-1zM47 19h1v1h-1zM98 19h1v1h-1zM157 19h1v1h-1zM173 19h1v1h-1zM200 19h1v1h-1zM233 19h1v1h-1zM250 19h1v1h-1zM257 19h2v1h-2zM274 19h1v1h-1zM283 19h1v1h-1zM3 20h1v1h-1zM12 20h1v1h-1zM20 20h1v1h-1zM64 20h1v1h-1zM72 20h1v1h-1zM106 20h1v1h-1zM149 20h1v1h-1zM157 20h1v1h-1zM190 20h1v1h-1zM201 20h1v1h-1zM233 20h1v1h-1zM240 20h1v1h-1zM251 20h1v1h-1zM274 20h1v1h-1zM284 20h1v1h-1zM3 21h1v1h-1zM47 21h1v1h-1zM88 21h1v1h-1zM105 21h1v1h-1zM114 21h1v1h-1zM131 21h1v1h-1zM191 21h1v1h-1zM200 21h1v1h-1zM207 21h1v1h-1zM218 21h1v1h-1zM233 21h1v1h-1zM256 21h1v1h-1zM272 21h1v1h-1zM290 21h1v1h-1zM300 21h1v1h-1z"/><path fill="#ff6d00" d="M3 0h1v1h-1zM12 0h1v1h-1zM38 0h1v1h-1zM64 0h1v1h-1zM97 0h1v1h-1zM106 0h1v1h-1zM139 0h1v1h-1zM149 0h1v1h-1zM165 0h1v1h-1zM173 0h1v1h-1zM191 0h1v1h-1zM208 0h1v1h-1zM257 0h1v1h-1zM282 0h1v1h-1zM37 1h1v1h-1zM47 1h1v1h-1zM55 1h1v1h-1zM140 1h1v1h-1zM157 1h1v1h-1zM265 1h1v1h-1zM267 1h1v1h-1zM292 1h1v1h-1zM89 2h1v1h-1zM105 2h1v1h-1zM114 2h1v1h-1zM217 2h1v1h-1zM233 2h1v1h-1zM248 2h1v1h-1zM265 2h1v1h-1zM272 2h1v1h-1zM292 2h1v1h-1zM298 2h1v1h-1zM300 2h1v1h-1zM12 3h1v1h-1zM64 3h1v1h-1zM258 3h1v1h-1zM281 3h1v1h-1zM72 4h1v1h-1zM81 4h1v1h-1zM89 4h1v1h-1zM141 4h1v1h-1zM191 4h1v1h-1zM239 4h1v1h-1zM256 4h1v1h-1zM272 4h2v1h-2zM290 4h1v1h-1zM12 5h1v1h-1zM20 5h1v1h-1zM47 5h1v1h-1zM81 5h1v1h-1zM89 5h1v1h-1zM106 5h1v1h-1zM183 5h1v1h-1zM192 5h1v1h-1zM216 5h1v1h-1zM241 5h1v1h-1zM259 5h1v1h-1zM283 5h1v1h-1zM12 6h1v1h-1zM29 6h1v1h-1zM38 6h1v1h-1zM164 6h1v1h-1zM181 6h1v1h-1zM224 6h1v1h-1zM241 6h1v1h-1zM258 6h1v1h-1zM266 6h1v1h-1zM299 6h1v1h-1zM12 7h1v1h-1zM38 7h1v1h-1zM131 7h1v1h-1zM164 7h1v1h-1zM182 7h1v1h-1zM224 7h1v1h-1zM233 7h1v1h-1zM273 7h1v1h-1zM72 8h1v1h-1zM89 8h1v1h-1zM122 8h1v1h-1zM139 8h1v1h-1zM165 8h1v1h-1zM217 8h1v1h-1zM224 8h1v1h-1zM238 8h1v1h-1zM288 8h2v1h-2zM3 9h1v1h-1zM46 9h1v1h-1zM63 9h1v1h-1zM89 9h1v1h-1zM98 9h1v1h-1zM123 9h1v1h-1zM131 9h1v1h-1zM139 9h1v1h-1zM156 9h1v1h-1zM165 9h1v1h-1zM189 9h1v1h-1zM198 9h1v1h-1zM256 9h1v1h-1zM291 9h1v1h-1zM298 9h1v1h-1zM47 10h1v1h-1zM148 10h1v1h-1zM174 10h1v1h-1zM184 10h1v1h-1zM208 10h1v1h-1zM233 10h1v1h-1zM265 10h1v1h-1zM274 10h1v1h-1zM29 11h1v1h-1zM56 11h1v1h-1zM81 11h1v1h-1zM123 11h1v1h-1zM174 11h1v1h-1zM200 11h1v1h-1zM241 11h1v1h-1zM259 11h1v1h-1zM12 12h1v1h-1zM38 12h1v1h-1zM47 12h1v1h-1zM55 12h1v1h-1zM80 12h1v1h-1zM122 12h1v1h-1zM172 12h1v1h-1zM189 12h1v1h-1zM274 12h1v1h-1zM29 13h1v1h-1zM72 13h1v1h-1zM89 13h1v1h-1zM98 13h1v1h-1zM157 13h1v1h-1zM174 13h1v1h-1zM200 13h1v1h-1zM256 13h1v1h-1zM265 13h1v1h-1zM298 13h1v1h-1zM12 14h1v1h-1zM115 14h1v1h-1zM123 14h1v1h-1zM208 14h2v1h-2zM290 14h2v1h-2zM20 15h1v1h-1zM29 15h1v1h-1zM47 15h1v1h-1zM63 15h1v1h-1zM72 15h1v1h-1zM88 15h1v1h-1zM105 15h1v1h-1zM114 15h1v1h-1zM149 15h1v1h-1zM208 15h1v1h-1zM249 15h1v1h-1zM273 15h1v1h-1zM282 15h1v1h-1zM29 16h1v1h-1zM47 16h1v1h-1zM97 16h1v1h-1zM207 16h1v1h-1zM282 16h1v1h-1zM289 16h1v1h-1zM29 17h1v1h-1zM46 17h1v1h-1zM105 17h1v1h-1zM139 17h1v1h-1zM147 17h1v1h-1zM172 17h1v1h-1zM198 17h1v1h-1zM232 17h1v1h-1zM282 17h1v1h-1zM3 18h1v1h-1zM12 18h1v1h-1zM20 18h1v1h-1zM47 18h1v1h-1zM64 18h1v1h-1zM81 18h1v1h-1zM131 18h1v1h-1zM139 18h1v1h-1zM173 18h1v1h-1zM232 18h1v1h-1zM282 18h1v1h-1zM300 18h1v1h-1zM55 19h1v1h-1zM132 19h1v1h-1zM141 19h1v1h-1zM182 19h1v1h-1zM216 19h1v1h-1zM224 19h1v1h-1zM291 19h1v1h-1zM29 20h1v1h-1zM81 20h1v1h-1zM89 20h1v1h-1zM207 20h1v1h-1zM216 20h1v1h-1zM224 20h1v1h-1zM250 20h1v1h-1zM292 20h2v1h-2zM38 21h1v1h-1zM64 21h1v1h-1zM72 21h1v1h-1zM148 21h1v1h-1zM165 21h1v1h-1zM208 21h1v1h-1zM249 21h1v1h-1zM266 21h1v1h-1z"/><path fill="#ff9200" d="M72 0h1v1h-1zM131 0h1v1h-1zM157 0h1v1h-1zM164 0h1v1h-1zM201 0h1v1h-1zM216 0h1v1h-1zM224 0h1v1h-1zM233 0h1v1h-1zM250 0h1v1h-1zM291 0h1v1h-1zM12 1h1v1h-1zM20 1h1v1h-1zM29 1h1v1h-1zM72 1h1v1h-1zM80 1h1v1h-1zM106 1h1v1h-1zM113 1h1v1h-1zM149 1h1v1h-1zM165 1h1v1h-1zM173 1h1v1h-1zM182 1h1v1h-1zM209 1h1v1h-1zM225 1h1v1h-1zM233 1h1v1h-1zM241 1h1v1h-1zM249 1h1v1h-1zM282 1h1v1h-1zM299 1h2v1h-2zM38 2h1v1h-1zM73 2h1v1h-1zM97 2h1v1h-1zM157 2h1v1h-1zM165 2h1v1h-1zM174 2h2v1h-2zM183 2h2v1h-2zM200 2h1v1h-1zM209 2h1v1h-1zM232 2h1v1h-1zM247 2h1v1h-1zM249 2h1v1h-1zM281 2h1v1h-1zM21 3h1v1h-1zM38 3h1v1h-1zM47 3h1v1h-1zM55 3h1v1h-1zM81 3h1v1h-1zM123 3h1v1h-1zM131 3h1v1h-1zM158 3h1v1h-1zM174 3h1v1h-1zM181 3h1v1h-1zM190 3h1v1h-1zM199 3h1v1h-1zM208 3h1v1h-1zM216 3h1v1h-1zM225 3h1v1h-1zM249 3h1v1h-1zM280 3h1v1h-1zM21 4h1v1h-1zM38 4h1v1h-1zM55 4h1v1h-1zM98 4h1v1h-1zM106 4h1v1h-1zM123 4h1v1h-1zM149 4h1v1h-1zM200 4h1v1h-1zM240 4h1v1h-1zM264 4h1v1h-1zM281 4h1v1h-1zM291 4h1v1h-1zM29 5h1v1h-1zM38 5h1v1h-1zM64 5h1v1h-1zM73 5h1v1h-1zM122 5h1v1h-1zM208 5h1v1h-1zM250 5h1v1h-1zM275 5h1v1h-1zM293 5h1v1h-1zM299 5h1v1h-1zM47 6h1v1h-1zM72 6h1v1h-1zM80 6h1v1h-1zM114 6h1v1h-1zM190 6h1v1h-1zM223 6h1v1h-1zM240 6h1v1h-1zM282 6h1v1h-1zM292 6h1v1h-1zM300 6h1v1h-1zM46 7h1v1h-1zM72 7h1v1h-1zM97 7h1v1h-1zM114 7h1v1h-1zM148 7h1v1h-1zM198 7h1v1h-1zM208 7h1v1h-1zM242 7h1v1h-1zM249 7h2v1h-2zM274 7h1v1h-1zM290 7h1v1h-1zM298 7h1v1h-1zM12 8h1v1h-1zM21 8h1v1h-1zM38 8h1v1h-1zM47 8h1v1h-1zM56 8h1v1h-1zM114 8h1v1h-1zM148 8h1v1h-1zM157 8h1v1h-1zM173 8h1v1h-1zM182 8h1v1h-1zM192 8h1v1h-1zM249 8h1v1h-1zM265 8h1v1h-1zM273 8h1v1h-1zM279 8h1v1h-1zM290 8h1v1h-1zM296 8h2v1h-2zM55 9h1v1h-1zM72 9h1v1h-1zM107 9h1v1h-1zM157 9h1v1h-1zM174 9h1v1h-1zM182 9h1v1h-1zM207 9h1v1h-1zM223 9h1v1h-1zM231 9h1v1h-1zM240 9h1v1h-1zM249 9h1v1h-1zM258 9h1v1h-1zM266 9h1v1h-1zM280 9h1v1h-1zM56 10h1v1h-1zM89 10h1v1h-1zM97 10h1v1h-1zM106 10h1v1h-1zM114 10h1v1h-1zM122 10h1v1h-1zM130 10h1v1h-1zM139 10h1v1h-1zM183 10h1v1h-1zM217 10h1v1h-1zM225 10h1v1h-1zM232 10h1v1h-1zM242 10h1v1h-1zM249 10h1v1h-1zM257 10h1v1h-1zM264 10h1v1h-1zM282 10h1v1h-1zM290 10h1v1h-1zM64 11h1v1h-1zM106 11h1v1h-1zM114 11h1v1h-1zM140 11h1v1h-1zM207 11h1v1h-1zM224 11h1v1h-1zM251 11h1v1h-1zM266 11h1v1h-1zM290 11h2v1h-2zM3 12h2v1h-2zM97 12h1v1h-1zM165 12h1v1h-1zM208 12h1v1h-1zM248 12h1v1h-1zM275 12h1v1h-1zM282 12h1v1h-1zM290 12h1v1h-1zM3 13h1v1h-1zM12 13h1v1h-1zM38 13h1v1h-1zM131 13h1v1h-1zM141 13h1v1h-1zM149 13h1v1h-1zM192 13h1v1h-1zM217 13h1v1h-1zM231 13h1v1h-1zM240 13h1v1h-1zM257 13h1v1h-1zM281 13h1v1h-1zM299 13h1v1h-1zM21 14h1v1h-1zM29 14h1v1h-1zM56 14h1v1h-1zM89 14h1v1h-1zM106 14h1v1h-1zM132 14h1v1h-1zM183 14h1v1h-1zM191 14h1v1h-1zM225 14h1v1h-1zM258 14h1v1h-1zM267 14h1v1h-1zM275 14h1v1h-1zM298 14h1v1h-1zM12 15h1v1h-1zM148 15h1v1h-1zM157 15h1v1h-1zM224 15h1v1h-1zM258 15h1v1h-1zM266 15h1v1h-1zM274 15h1v1h-1zM300 15h1v1h-1zM123 16h1v1h-1zM131 16h1v1h-1zM149 16h1v1h-1zM166 16h1v1h-1zM174 16h1v1h-1zM198 16h1v1h-1zM208 16h1v1h-1zM215 16h1v1h-1zM225 16h1v1h-1zM232 16h1v1h-1zM249 16h1v1h-1zM264 16h2v1h-2zM273 16h1v1h-1zM291 16h1v1h-1zM12 17h1v1h-1zM55 17h1v1h-1zM72 17h1v1h-1zM80 17h1v1h-1zM97 17h1v1h-1zM131 17h1v1h-1zM148 17h1v1h-1zM181 17h1v1h-1zM190 17h1v1h-1zM215 17h1v1h-1zM224 17h1v1h-1zM240 17h1v1h-1zM249 17h1v1h-1zM266 17h1v1h-1zM89 18h1v1h-1zM104 18h1v1h-1zM121 18h2v1h-2zM157 18h1v1h-1zM182 18h1v1h-1zM199 18h2v1h-2zM223 18h1v1h-1zM256 18h1v1h-1zM272 18h1v1h-1zM281 18h1v1h-1zM20 19h1v1h-1zM73 19h1v1h-1zM81 19h1v1h-1zM106 19h1v1h-1zM123 19h1v1h-1zM191 19h1v1h-1zM225 19h1v1h-1zM249 19h1v1h-1zM265 19h1v1h-1zM282 19h1v1h-1zM300 19h1v1h-1zM98 20h1v1h-1zM115 20h1v1h-1zM123 20h1v1h-1zM140 20h1v1h-1zM165 20h1v1h-1zM173 20h1v1h-1zM200 20h1v1h-1zM232 20h1v1h-1zM257 20h1v1h-1zM283 20h1v1h-1zM12 21h1v1h-1zM21 21h1v1h-1zM56 21h1v1h-1zM130 21h1v1h-1zM157 21h1v1h-1zM174 21h1v1h-1zM181 21h1v1h-1zM225 21h2v1h-2zM265 21h1v1h-1zM273 21h2v1h-2zM281 21h1v1h-1z"/><path fill="#ffb600" d="M21 0h1v1h-1zM29 0h1v1h-1zM39 0h1v1h-1zM89 0h1v1h-1zM181 0h2v1h-2zM192 0h1v1h-1zM200 0h1v1h-1zM209 0h1v1h-1zM242 0h1v1h-1zM265 0h1v1h-1zM274 0h1v1h-1zM299 0h1v1h-1zM21 1h1v1h-1zM46 1h1v1h-1zM89 1h1v1h-1zM123 1h1v1h-1zM131 1h1v1h-1zM231 1h1v1h-1zM242 1h1v1h-1zM258 1h1v1h-1zM266 1h1v1h-1zM275 1h1v1h-1zM21 2h1v1h-1zM29 2h1v1h-1zM56 2h1v1h-1zM64 2h1v1h-1zM106 2h1v1h-1zM158 2h1v1h-1zM224 2h2v1h-2zM231 2h1v1h-1zM264 2h1v1h-1zM273 2h1v1h-1zM282 2h1v1h-1zM291 2h1v1h-1zM22 3h1v1h-1zM29 3h1v1h-1zM46 3h1v1h-1zM63 3h1v1h-1zM72 3h1v1h-1zM98 3h1v1h-1zM107 3h1v1h-1zM173 3h1v1h-1zM224 3h1v1h-1zM240 3h1v1h-1zM278 3h1v1h-1zM291 3h1v1h-1zM300 3h1v1h-1zM12 4h1v1h-1zM29 4h1v1h-1zM46 4h1v1h-1zM114 4h1v1h-1zM165 4h1v1h-1zM182 4h1v1h-1zM192 4h1v1h-1zM209 4h1v1h-1zM225 4h1v1h-1zM231 4h1v1h-1zM247 4h1v1h-1zM257 4h1v1h-1zM80 5h1v1h-1zM113 5h1v1h-1zM157 5h1v1h-1zM199 5h2v1h-2zM232 5h1v1h-1zM242 5h2v1h-2zM249 5h1v1h-1zM266 5h1v1h-1zM291 5h1v1h-1zM39 6h1v1h-1zM89 6h1v1h-1zM96 6h1v1h-1zM106 6h1v1h-1zM113 6h1v1h-1zM131 6h1v1h-1zM156 6h1v1h-1zM172 6h2v1h-2zM191 6h1v1h-1zM198 6h1v1h-1zM248 6h1v1h-1zM265 6h1v1h-1zM274 6h1v1h-1zM4 7h1v1h-1zM55 7h1v1h-1zM79 7h1v1h-1zM106 7h1v1h-1zM123 7h1v1h-1zM157 7h1v1h-1zM181 7h1v1h-1zM215 7h2v1h-2zM225 7h1v1h-1zM231 7h1v1h-1zM248 7h1v1h-1zM265 7h2v1h-2zM275 7h1v1h-1zM291 7h1v1h-1zM81 8h1v1h-1zM106 8h1v1h-1zM140 8h1v1h-1zM164 8h1v1h-1zM199 8h1v1h-1zM208 8h1v1h-1zM231 8h1v1h-1zM239 8h1v1h-1zM258 8h1v1h-1zM80 9h1v1h-1zM90 9h1v1h-1zM115 9h1v1h-1zM208 9h1v1h-1zM213 9h1v1h-1zM230 9h1v1h-1zM232 9h1v1h-1zM248 9h1v1h-1zM273 9h1v1h-1zM290 9h1v1h-1zM21 10h1v1h-1zM29 10h1v1h-1zM64 10h1v1h-1zM175 10h1v1h-1zM209 10h1v1h-1zM258 10h1v1h-1zM292 10h1v1h-1zM299 10h1v1h-1zM12 11h1v1h-1zM21 11h1v1h-1zM46 11h1v1h-1zM73 11h1v1h-1zM165 11h1v1h-1zM199 11h1v1h-1zM208 11h1v1h-1zM215 11h1v1h-1zM264 11h1v1h-1zM275 11h1v1h-1zM298 11h1v1h-1zM21 12h1v1h-1zM29 12h1v1h-1zM46 12h1v1h-1zM79 12h1v1h-1zM106 12h1v1h-1zM114 12h1v1h-1zM130 12h1v1h-1zM157 12h1v1h-1zM173 12h1v1h-1zM199 12h1v1h-1zM209 12h1v1h-1zM216 12h1v1h-1zM240 12h1v1h-1zM247 12h1v1h-1zM249 12h1v1h-1zM259 12h1v1h-1zM291 12h1v1h-1zM46 13h1v1h-1zM80 13h1v1h-1zM90 13h1v1h-1zM114 13h1v1h-1zM209 13h1v1h-1zM216 13h1v1h-1zM241 13h1v1h-1zM243 13h1v1h-1zM248 13h1v1h-1zM272 13h2v1h-2zM279 13h1v1h-1zM4 14h1v1h-1zM38 14h1v1h-1zM97 14h1v1h-1zM114 14h1v1h-1zM124 14h1v1h-1zM141 14h1v1h-1zM158 14h1v1h-1zM165 14h1v1h-1zM182 14h1v1h-1zM210 14h1v1h-1zM240 14h1v1h-1zM249 14h1v1h-1zM283 14h1v1h-1zM4 15h1v1h-1zM38 15h1v1h-1zM46 15h1v1h-1zM80 15h1v1h-1zM89 15h1v1h-1zM123 15h1v1h-1zM174 15h1v1h-1zM181 15h1v1h-1zM209 15h1v1h-1zM215 15h1v1h-1zM240 15h1v1h-1zM247 15h2v1h-2zM265 15h1v1h-1zM292 15h1v1h-1zM4 16h1v1h-1zM46 16h1v1h-1zM56 16h1v1h-1zM106 16h1v1h-1zM113 16h1v1h-1zM140 16h1v1h-1zM181 16h1v1h-1zM190 16h1v1h-1zM233 16h1v1h-1zM241 16h1v1h-1zM281 16h1v1h-1zM290 16h1v1h-1zM299 16h1v1h-1zM4 17h1v1h-1zM21 17h1v1h-1zM63 17h1v1h-1zM114 17h1v1h-1zM123 17h1v1h-1zM155 17h1v1h-1zM231 17h1v1h-1zM248 17h1v1h-1zM257 17h1v1h-1zM265 17h1v1h-1zM290 17h1v1h-1zM297 17h2v1h-2zM11 18h1v1h-1zM28 18h1v1h-1zM46 18h1v1h-1zM56 18h1v1h-1zM141 18h1v1h-1zM215 18h1v1h-1zM229 18h1v1h-1zM231 18h1v1h-1zM246 18h1v1h-1zM263 18h1v1h-1zM298 18h1v1h-1zM46 19h1v1h-1zM64 19h1v1h-1zM90 19h1v1h-1zM114 19h1v1h-1zM131 19h1v1h-1zM149 19h1v1h-1zM165 19h1v1h-1zM199 19h1v1h-1zM208 19h1v1h-1zM215 19h1v1h-1zM276 19h1v1h-1zM294 19h1v1h-1zM46 20h1v1h-1zM55 20h1v1h-1zM181 20h1v1h-1zM208 20h1v1h-1zM241 20h1v1h-1zM249 20h1v1h-1zM259 20h1v1h-1zM300 20h1v1h-1zM4 21h1v1h-1zM11 21h1v1h-1zM29 21h1v1h-1zM89 21h1v1h-1zM97 21h1v1h-1zM122 21h1v1h-1zM147 21h1v1h-1zM192 21h1v1h-1zM198 21h1v1h-1zM209 21h1v1h-1zM291 21h1v1h-1zM299 21h1v1h-1z"/><path fill="#ffdb00" d="M80 0h1v1h-1zM113 0h1v1h-1zM215 0h1v1h-1zM231 0h1v1h-1zM243 0h1v1h-1zM248 0h1v1h-1zM264 0h1v1h-1zM293 0h1v1h-1zM4 1h1v1h-1zM38 1h1v1h-1zM63 1h1v1h-1zM90 1h1v1h-1zM174 1h1v1h-1zM181 1h1v1h-1zM192 1h1v1h-1zM243 1h1v1h-1zM248 1h1v1h-1zM293 1h1v1h-1zM4 2h1v1h-1zM11 2h1v1h-1zM46 2h1v1h-1zM90 2h1v1h-1zM130 2h1v1h-1zM140 2h1v1h-1zM148 2h1v1h-1zM176 2h1v1h-1zM182 2h1v1h-1zM199 2h1v1h-1zM210 2h1v1h-1zM258 2h2v1h-2zM4 3h1v1h-1zM80 3h1v1h-1zM90 3h1v1h-1zM114 3h1v1h-1zM130 3h1v1h-1zM141 3h1v1h-1zM180 3h1v1h-1zM198 3h1v1h-1zM209 3h1v1h-1zM230 3h2v1h-2zM247 3h1v1h-1zM265 3h2v1h-2zM274 3h1v1h-1zM292 3h2v1h-2zM4 4h1v1h-1zM63 4h1v1h-1zM90 4h1v1h-1zM158 4h1v1h-1zM174 4h1v1h-1zM181 4h1v1h-1zM216 4h1v1h-1zM263 4h1v1h-1zM293 4h1v1h-1zM11 5h1v1h-1zM46 5h1v1h-1zM140 5h1v1h-1zM147 5h2v1h-2zM193 5h1v1h-1zM260 5h1v1h-1zM265 5h1v1h-1zM282 5h1v1h-1zM298 5h1v1h-1zM4 6h1v1h-1zM21 6h1v1h-1zM56 6h1v1h-1zM140 6h1v1h-1zM147 6h1v1h-1zM231 6h1v1h-1zM259 6h1v1h-1zM293 6h1v1h-1zM21 7h1v1h-1zM28 7h1v1h-1zM63 7h1v1h-1zM259 7h1v1h-1zM276 7h1v1h-1zM281 7h1v1h-1zM4 8h1v1h-1zM29 8h1v1h-1zM90 8h1v1h-1zM97 8h1v1h-1zM123 8h1v1h-1zM130 8h1v1h-1zM174 8h1v1h-1zM209 8h1v1h-1zM216 8h1v1h-1zM229 8h2v1h-2zM291 8h1v1h-1zM4 9h1v1h-1zM21 9h1v1h-1zM38 9h1v1h-1zM158 9h1v1h-1zM164 9h1v1h-1zM197 9h1v1h-1zM242 9h1v1h-1zM265 9h1v1h-1zM281 9h1v1h-1zM4 10h1v1h-1zM46 10h1v1h-1zM73 10h1v1h-1zM107 10h1v1h-1zM123 10h1v1h-1zM147 10h1v1h-1zM158 10h1v1h-1zM200 10h1v1h-1zM248 10h1v1h-1zM291 10h1v1h-1zM4 11h1v1h-1zM28 11h1v1h-1zM90 11h1v1h-1zM131 11h1v1h-1zM192 11h1v1h-1zM260 11h1v1h-1zM281 11h2v1h-2zM296 11h2v1h-2zM39 12h1v1h-1zM63 12h1v1h-1zM72 12h1v1h-1zM147 12h1v1h-1zM164 12h1v1h-1zM180 12h1v1h-1zM197 12h2v1h-2zM215 12h1v1h-1zM226 12h1v1h-1zM265 12h2v1h-2zM4 13h1v1h-1zM21 13h1v1h-1zM63 13h1v1h-1zM97 13h1v1h-1zM107 13h1v1h-1zM123 13h1v1h-1zM142 13h1v1h-1zM158 13h1v1h-1zM165 13h1v1h-1zM175 13h1v1h-1zM182 13h2v1h-2zM198 13h1v1h-1zM215 13h1v1h-1zM225 13h1v1h-1zM258 13h1v1h-1zM264 13h1v1h-1zM280 13h1v1h-1zM290 13h2v1h-2zM296 13h1v1h-1zM46 14h1v1h-1zM63 14h1v1h-1zM72 14h1v1h-1zM80 14h1v1h-1zM96 14h1v1h-1zM148 14h1v1h-1zM175 14h1v1h-1zM198 14h1v1h-1zM216 14h1v1h-1zM230 14h1v1h-1zM241 14h2v1h-2zM264 14h2v1h-2zM277 14h1v1h-1zM96 15h1v1h-1zM113 15h1v1h-1zM131 15h1v1h-1zM141 15h1v1h-1zM164 15h1v1h-1zM182 15h1v1h-1zM191 15h1v1h-1zM199 15h1v1h-1zM231 15h1v1h-1zM259 15h1v1h-1zM281 15h1v1h-1zM295 15h1v1h-1zM298 15h2v1h-2zM38 16h1v1h-1zM90 16h1v1h-1zM226 16h1v1h-1zM248 16h1v1h-1zM297 16h2v1h-2zM113 17h1v1h-1zM140 17h1v1h-1zM156 17h1v1h-1zM213 17h2v1h-2zM226 17h1v1h-1zM230 17h1v1h-1zM259 17h1v1h-1zM274 17h1v1h-1zM276 17h1v1h-1zM281 17h1v1h-1zM299 17h1v1h-1zM4 18h1v1h-1zM38 18h1v1h-1zM80 18h1v1h-1zM130 18h1v1h-1zM140 18h1v1h-1zM148 18h1v1h-1zM174 18h1v1h-1zM181 18h1v1h-1zM193 18h1v1h-1zM198 18h1v1h-1zM208 18h1v1h-1zM228 18h1v1h-1zM240 18h1v1h-1zM247 18h1v1h-1zM274 18h1v1h-1zM292 18h1v1h-1zM4 19h1v1h-1zM11 19h1v1h-1zM28 19h1v1h-1zM38 19h1v1h-1zM56 19h1v1h-1zM97 19h1v1h-1zM142 19h1v1h-1zM158 19h1v1h-1zM198 19h1v1h-1zM209 19h1v1h-1zM232 19h1v1h-1zM275 19h1v1h-1zM281 19h1v1h-1zM292 19h1v1h-1zM11 20h1v1h-1zM63 20h1v1h-1zM73 20h1v1h-1zM90 20h1v1h-1zM199 20h1v1h-1zM209 20h1v1h-1zM215 20h1v1h-1zM225 20h1v1h-1zM248 20h1v1h-1zM264 20h2v1h-2zM46 21h1v1h-1zM80 21h1v1h-1zM106 21h1v1h-1zM113 21h1v1h-1zM140 21h1v1h-1zM199 21h1v1h-1zM210 21h1v1h-1zM231 21h2v1h-2zM242 21h1v1h-1zM247 21h2v1h-2zM257 21h1v1h-1zM282 21h1v1h-1z"/><path fill="#ffff00" d="M4 0h1v1h-1zM11 0h1v1h-1zM22 0h1v1h-1zM56 0h1v1h-1zM63 0h1v1h-1zM73 0h1v1h-1zM123 0h1v1h-1zM140 0h1v1h-1zM148 0h1v1h-1zM174 0h1v1h-1zM199 0h1v1h-1zM226 0h1v1h-1zM244 0h1v1h-1zM249 0h1v1h-1zM263 0h1v1h-1zM275 0h1v1h-1zM22 1h1v1h-1zM28 1h1v1h-1zM56 1h1v1h-1zM73 1h1v1h-1zM79 1h1v1h-1zM97 1h1v1h-1zM124 1h1v1h-1zM142 1h1v1h-1zM158 1h1v1h-1zM199 1h1v1h-1zM215 1h1v1h-1zM244 1h1v1h-1zM259 1h1v1h-1zM281 1h1v1h-1zM294 1h1v1h-1zM141 2h1v1h-1zM164 2h1v1h-1zM193 2h1v1h-1zM211 2h1v1h-1zM216 2h1v1h-1zM240 2h1v1h-1zM260 2h1v1h-1zM263 2h1v1h-1zM274 2h1v1h-1zM39 3h1v1h-1zM73 3h1v1h-1zM91 3h1v1h-1zM97 3h1v1h-1zM124 3h1v1h-1zM148 3h1v1h-1zM164 3h1v1h-1zM210 3h1v1h-1zM215 3h1v1h-1zM248 3h1v1h-1zM259 3h2v1h-2zM297 3h1v1h-1zM299 3h1v1h-1zM56 4h1v1h-1zM73 4h1v1h-1zM107 4h1v1h-1zM124 4h1v1h-1zM148 4h1v1h-1zM159 4h1v1h-1zM199 4h1v1h-1zM230 4h1v1h-1zM241 4h2v1h-2zM258 4h1v1h-1zM260 4h1v1h-1zM280 4h1v1h-1zM292 4h1v1h-1zM297 4h1v1h-1zM4 5h1v1h-1zM21 5h1v1h-1zM28 5h1v1h-1zM39 5h1v1h-1zM56 5h1v1h-1zM63 5h1v1h-1zM90 5h1v1h-1zM97 5h1v1h-1zM158 5h1v1h-1zM165 5h1v1h-1zM182 5h1v1h-1zM209 5h1v1h-1zM215 5h1v1h-1zM225 5h2v1h-2zM276 5h1v1h-1zM292 5h1v1h-1zM11 6h1v1h-1zM46 6h1v1h-1zM63 6h1v1h-1zM73 6h1v1h-1zM79 6h1v1h-1zM123 6h1v1h-1zM208 6h1v1h-1zM214 6h1v1h-1zM264 6h1v1h-1zM280 6h2v1h-2zM294 6h1v1h-1zM11 7h1v1h-1zM89 7h1v1h-1zM113 7h1v1h-1zM141 7h1v1h-1zM158 7h1v1h-1zM163 7h1v1h-1zM173 7h1v1h-1zM180 7h1v1h-1zM191 7h1v1h-1zM227 7h1v1h-1zM230 7h1v1h-1zM264 7h1v1h-1zM280 7h1v1h-1zM297 7h1v1h-1zM5 8h1v1h-1zM11 8h1v1h-1zM39 8h1v1h-1zM63 8h1v1h-1zM147 8h1v1h-1zM225 8h1v1h-1zM248 8h1v1h-1zM259 8h1v1h-1zM274 8h1v1h-1zM278 8h1v1h-1zM11 9h1v1h-1zM45 9h1v1h-1zM56 9h1v1h-1zM124 9h1v1h-1zM140 9h1v1h-1zM181 9h1v1h-1zM190 9h2v1h-2zM214 9h1v1h-1zM224 9h1v1h-1zM259 9h1v1h-1zM264 9h1v1h-1zM274 9h1v1h-1zM292 9h1v1h-1zM297 9h1v1h-1zM11 10h1v1h-1zM39 10h1v1h-1zM80 10h1v1h-1zM129 10h1v1h-1zM146 10h1v1h-1zM182 10h1v1h-1zM192 10h2v1h-2zM199 10h1v1h-1zM226 10h1v1h-1zM263 10h1v1h-1zM275 10h1v1h-1zM277 10h1v1h-1zM281 10h1v1h-1zM38 11h1v1h-1zM96 11h2v1h-2zM107 11h1v1h-1zM141 11h1v1h-1zM158 11h1v1h-1zM175 11h1v1h-1zM181 11h2v1h-2zM198 11h1v1h-1zM209 11h1v1h-1zM225 11h2v1h-2zM231 11h1v1h-1zM247 11h2v1h-2zM261 11h1v1h-1zM295 11h1v1h-1zM56 12h1v1h-1zM90 12h1v1h-1zM113 12h1v1h-1zM140 12h1v1h-1zM174 12h1v1h-1zM191 12h1v1h-1zM231 12h2v1h-2zM241 12h2v1h-2zM246 12h1v1h-1zM260 12h1v1h-1zM280 12h1v1h-1zM292 12h1v1h-1zM297 12h1v1h-1zM28 13h1v1h-1zM56 13h1v1h-1zM73 13h1v1h-1zM113 13h1v1h-1zM148 13h1v1h-1zM199 13h1v1h-1zM242 13h1v1h-1zM247 13h1v1h-1zM263 13h1v1h-1zM276 13h1v1h-1zM278 13h1v1h-1zM293 13h2v1h-2zM11 14h1v1h-1zM28 14h1v1h-1zM113 14h1v1h-1zM192 14h1v1h-1zM226 14h1v1h-1zM281 14h2v1h-2zM296 14h2v1h-2zM21 15h1v1h-1zM28 15h1v1h-1zM56 15h1v1h-1zM106 15h1v1h-1zM124 15h1v1h-1zM158 15h1v1h-1zM175 15h1v1h-1zM245 15h1v1h-1zM261 15h1v1h-1zM275 15h1v1h-1zM11 16h1v1h-1zM21 16h1v1h-1zM63 16h1v1h-1zM73 16h1v1h-1zM80 16h1v1h-1zM107 16h1v1h-1zM124 16h1v1h-1zM141 16h1v1h-1zM158 16h1v1h-1zM175 16h1v1h-1zM191 16h1v1h-1zM197 16h1v1h-1zM214 16h1v1h-1zM242 16h1v1h-1zM260 16h1v1h-1zM274 16h2v1h-2zM292 16h1v1h-1zM295 16h1v1h-1zM38 17h1v1h-1zM56 17h1v1h-1zM90 17h1v1h-1zM96 17h1v1h-1zM146 17h1v1h-1zM173 17h2v1h-2zM180 17h1v1h-1zM207 17h2v1h-2zM225 17h1v1h-1zM242 17h1v1h-1zM264 17h1v1h-1zM278 17h1v1h-1zM291 17h2v1h-2zM21 18h1v1h-1zM57 18h1v1h-1zM63 18h1v1h-1zM73 18h1v1h-1zM90 18h1v1h-1zM96 18h1v1h-1zM105 18h1v1h-1zM112 18h1v1h-1zM129 18h1v1h-1zM164 18h1v1h-1zM180 18h1v1h-1zM192 18h1v1h-1zM224 18h1v1h-1zM230 18h1v1h-1zM257 18h1v1h-1zM280 18h1v1h-1zM294 18h1v1h-1zM21 19h1v1h-1zM107 19h1v1h-1zM113 19h1v1h-1zM174 19h1v1h-1zM181 19h1v1h-1zM210 19h1v1h-1zM227 19h1v1h-1zM242 19h1v1h-1zM248 19h1v1h-1zM263 19h1v1h-1zM280 19h1v1h-1zM299 19h1v1h-1zM4 20h1v1h-1zM21 20h1v1h-1zM28 20h1v1h-1zM38 20h1v1h-1zM80 20h1v1h-1zM97 20h1v1h-1zM107 20h2v1h-2zM130 20h2v1h-2zM141 20h1v1h-1zM158 20h1v1h-1zM164 20h1v1h-1zM174 20h1v1h-1zM191 20h1v1h-1zM193 20h1v1h-1zM231 20h1v1h-1zM242 20h1v1h-1zM282 20h1v1h-1zM294 20h1v1h-1zM298 20h2v1h-2zM39 21h1v1h-1zM63 21h1v1h-1zM73 21h1v1h-1zM146 21h1v1h-1zM164 21h1v1h-1zM175 21h1v1h-1zM193 21h1v1h-1zM217 21h1v1h-1zM261 21h2v1h-2zM264 21h1v1h-1zM278 21h1v1h-1zM292 21h1v1h-1zM297 21h2v1h-2z"/><path fill="#ffff2a" d="M46 0h1v1h-1zM90 0h1v1h-1zM96 0h1v1h-1zM130 0h1v1h-1zM147 0h1v1h-1zM163 0h1v1h-1zM176 0h1v1h-1zM193 0h1v1h-1zM198 0h1v1h-1zM210 0h1v1h-1zM230 0h1v1h-1zM258 0h2v1h-2zM276 0h1v1h-1zM278 0h1v1h-1zM294 0h2v1h-2zM298 0h1v1h-1zM96 1h1v1h-1zM130 1h1v1h-1zM141 1h1v1h-1zM148 1h1v1h-1zM159 1h1v1h-1zM175 1h1v1h-1zM193 1h1v1h-1zM211 1h1v1h-1zM214 1h1v1h-1zM227 1h1v1h-1zM230 1h1v1h-1zM260 1h1v1h-1zM276 1h2v1h-2zM28 2h1v1h-1zM63 2h1v1h-1zM80 2h1v1h-1zM96 2h1v1h-1zM107 2h1v1h-1zM113 2h1v1h-1zM123 2h1v1h-1zM147 2h1v1h-1zM195 2h1v1h-1zM214 2h1v1h-1zM226 2h1v1h-1zM262 2h1v1h-1zM278 2h3v1h-3zM294 2h1v1h-1zM296 2h1v1h-1zM11 3h1v1h-1zM56 3h1v1h-1zM129 3h1v1h-1zM191 3h3v1h-3zM197 3h1v1h-1zM226 3h4v1h-4zM241 3h1v1h-1zM243 3h1v1h-1zM246 3h1v1h-1zM261 3h1v1h-1zM264 3h1v1h-1zM275 3h1v1h-1zM279 3h1v1h-1zM295 3h1v1h-1zM298 3h1v1h-1zM5 4h1v1h-1zM11 4h1v1h-1zM39 4h1v1h-1zM80 4h1v1h-1zM91 4h1v1h-1zM113 4h1v1h-1zM131 4h1v1h-1zM164 4h1v1h-1zM175 4h1v1h-1zM180 4h1v1h-1zM193 4h2v1h-2zM198 4h1v1h-1zM215 4h1v1h-1zM259 4h1v1h-1zM262 4h1v1h-1zM274 4h1v1h-1zM276 4h1v1h-1zM299 4h1v1h-1zM123 5h1v1h-1zM130 5h1v1h-1zM164 5h1v1h-1zM181 5h1v1h-1zM214 5h1v1h-1zM231 5h1v1h-1zM244 5h1v1h-1zM246 5h1v1h-1zM261 5h1v1h-1zM263 5h1v1h-1zM277 5h1v1h-1zM281 5h1v1h-1zM5 6h1v1h-1zM28 6h1v1h-1zM130 6h1v1h-1zM157 6h1v1h-1zM163 6h1v1h-1zM174 6h2v1h-2zM197 6h1v1h-1zM209 6h1v1h-1zM230 6h1v1h-1zM242 6h1v1h-1zM244 6h1v1h-1zM247 6h1v1h-1zM260 6h1v1h-1zM277 6h1v1h-1zM298 6h1v1h-1zM62 7h1v1h-1zM90 7h1v1h-1zM96 7h1v1h-1zM124 7h1v1h-1zM159 7h1v1h-1zM174 7h1v1h-1zM209 7h1v1h-1zM243 7h1v1h-1zM260 7h1v1h-1zM292 7h1v1h-1zM22 8h1v1h-1zM28 8h1v1h-1zM46 8h1v1h-1zM57 8h1v1h-1zM80 8h1v1h-1zM129 8h1v1h-1zM141 8h1v1h-1zM146 8h1v1h-1zM158 8h1v1h-1zM193 8h2v1h-2zM198 8h1v1h-1zM210 8h1v1h-1zM215 8h1v1h-1zM242 8h2v1h-2zM247 8h1v1h-1zM264 8h1v1h-1zM277 8h1v1h-1zM292 8h1v1h-1zM295 8h1v1h-1zM28 9h1v1h-1zM62 9h1v1h-1zM73 9h1v1h-1zM79 9h1v1h-1zM97 9h1v1h-1zM108 9h1v1h-1zM125 9h1v1h-1zM130 9h1v1h-1zM147 9h1v1h-1zM180 9h1v1h-1zM209 9h1v1h-1zM211 9h1v1h-1zM227 9h3v1h-3zM241 9h1v1h-1zM243 9h1v1h-1zM275 9h1v1h-1zM279 9h1v1h-1zM22 10h1v1h-1zM57 10h1v1h-1zM63 10h1v1h-1zM74 10h1v1h-1zM90 10h1v1h-1zM96 10h1v1h-1zM113 10h1v1h-1zM140 10h1v1h-1zM164 10h2v1h-2zM181 10h1v1h-1zM198 10h1v1h-1zM210 10h1v1h-1zM216 10h1v1h-1zM230 10h2v1h-2zM243 10h1v1h-1zM247 10h1v1h-1zM295 10h2v1h-2zM298 10h1v1h-1zM22 11h1v1h-1zM45 11h1v1h-1zM57 11h1v1h-1zM63 11h1v1h-1zM74 11h1v1h-1zM80 11h1v1h-1zM113 11h1v1h-1zM124 11h1v1h-1zM142 11h1v1h-1zM148 11h1v1h-1zM164 11h1v1h-1zM176 11h1v1h-1zM210 11h2v1h-2zM243 11h1v1h-1zM262 11h2v1h-2zM265 11h1v1h-1zM276 11h2v1h-2zM280 11h1v1h-1zM11 12h1v1h-1zM73 12h1v1h-1zM158 12h1v1h-1zM179 12h1v1h-1zM190 12h1v1h-1zM227 12h1v1h-1zM230 12h1v1h-1zM243 12h1v1h-1zM276 12h1v1h-1zM278 12h1v1h-1zM295 12h1v1h-1zM11 13h1v1h-1zM124 13h1v1h-1zM130 13h1v1h-1zM159 13h1v1h-1zM164 13h1v1h-1zM181 13h1v1h-1zM193 13h2v1h-2zM214 13h1v1h-1zM230 13h1v1h-1zM244 13h1v1h-1zM259 13h1v1h-1zM261 13h1v1h-1zM275 13h1v1h-1zM277 13h1v1h-1zM297 13h1v1h-1zM130 14h2v1h-2zM163 14h2v1h-2zM176 14h1v1h-1zM181 14h1v1h-1zM229 14h1v1h-1zM247 14h2v1h-2zM262 14h1v1h-1zM292 14h1v1h-1zM295 14h1v1h-1zM5 15h1v1h-1zM11 15h1v1h-1zM45 15h1v1h-1zM73 15h1v1h-1zM147 15h1v1h-1zM163 15h1v1h-1zM192 15h1v1h-1zM198 15h1v1h-1zM210 15h1v1h-1zM214 15h1v1h-1zM229 15h2v1h-2zM260 15h1v1h-1zM277 15h1v1h-1zM293 15h1v1h-1zM296 15h1v1h-1zM28 16h1v1h-1zM39 16h1v1h-1zM45 16h1v1h-1zM57 16h1v1h-1zM96 16h1v1h-1zM112 16h1v1h-1zM129 16h2v1h-2zM148 16h1v1h-1zM165 16h1v1h-1zM176 16h1v1h-1zM180 16h1v1h-1zM209 16h1v1h-1zM230 16h2v1h-2zM247 16h1v1h-1zM259 16h1v1h-1zM276 16h1v1h-1zM280 16h1v1h-1zM293 16h1v1h-1zM296 16h1v1h-1zM11 17h1v1h-1zM28 17h1v1h-1zM39 17h1v1h-1zM62 17h1v1h-1zM73 17h1v1h-1zM79 17h1v1h-1zM106 17h1v1h-1zM124 17h1v1h-1zM130 17h1v1h-1zM162 17h1v1h-1zM191 17h1v1h-1zM197 17h1v1h-1zM241 17h1v1h-1zM246 17h1v1h-1zM258 17h1v1h-1zM293 17h1v1h-1zM39 18h1v1h-1zM142 18h1v1h-1zM147 18h1v1h-1zM197 18h1v1h-1zM214 18h1v1h-1zM241 18h1v1h-1zM244 18h2v1h-2zM258 18h1v1h-1zM260 18h3v1h-3zM273 18h1v1h-1zM279 18h1v1h-1zM293 18h1v1h-1zM63 19h1v1h-1zM74 19h1v1h-1zM124 19h1v1h-1zM130 19h1v1h-1zM159 19h1v1h-1zM192 19h2v1h-2zM226 19h1v1h-1zM231 19h1v1h-1zM246 19h1v1h-1zM259 19h1v1h-1zM264 19h1v1h-1zM277 19h1v1h-1zM293 19h1v1h-1zM296 19h2v1h-2zM10 20h1v1h-1zM22 20h1v1h-1zM56 20h1v1h-1zM114 20h1v1h-1zM124 20h1v1h-1zM147 20h1v1h-1zM159 20h1v1h-1zM163 20h1v1h-1zM192 20h1v1h-1zM226 20h2v1h-2zM260 20h2v1h-2zM275 20h1v1h-1zM277 20h1v1h-1zM280 20h2v1h-2zM295 20h2v1h-2zM22 21h1v1h-1zM45 21h1v1h-1zM90 21h1v1h-1zM96 21h1v1h-1zM197 21h1v1h-1zM214 21h1v1h-1zM216 21h1v1h-1zM227 21h1v1h-1zM243 21h1v1h-1zM245 21h2v1h-2zM259 21h2v1h-2zM263 21h1v1h-1zM279 21h2v1h-2zM293 21h1v1h-1z"/><path fill="#ffff55" d="M5 0h1v1h-1zM28 0h1v1h-1zM57 0h1v1h-1zM79 0h1v1h-1zM107 0h1v1h-1zM124 0h2v1h-2zM141 0h2v1h-2zM175 0h1v1h-1zM180 0h1v1h-1zM211 0h1v1h-1zM213 0h1v1h-1zM227 0h1v1h-1zM232 0h1v1h-1zM247 0h1v1h-1zM262 0h1v1h-1zM277 0h1v1h-1zM292 0h1v1h-1zM296 0h1v1h-1zM5 1h1v1h-1zM11 1h1v1h-1zM39 1h1v1h-1zM45 1h1v1h-1zM62 1h1v1h-1zM107 1h1v1h-1zM112 1h1v1h-1zM147 1h1v1h-1zM180 1h1v1h-1zM198 1h1v1h-1zM210 1h1v1h-1zM226 1h1v1h-1zM246 1h1v1h-1zM264 1h1v1h-1zM280 1h1v1h-1zM295 1h1v1h-1zM297 1h1v1h-1zM5 2h1v1h-1zM10 2h1v1h-1zM22 2h1v1h-1zM39 2h1v1h-1zM45 2h1v1h-1zM57 2h1v1h-1zM91 2h1v1h-1zM112 2h1v1h-1zM124 2h1v1h-1zM159 2h1v1h-1zM177 2h1v1h-1zM181 2h1v1h-1zM194 2h1v1h-1zM241 2h1v1h-1zM261 2h1v1h-1zM275 2h2v1h-2zM293 2h1v1h-1zM297 2h1v1h-1zM5 3h1v1h-1zM28 3h1v1h-1zM45 3h1v1h-1zM96 3h1v1h-1zM142 3h1v1h-1zM147 3h1v1h-1zM159 3h2v1h-2zM175 3h1v1h-1zM178 3h2v1h-2zM195 3h2v1h-2zM212 3h1v1h-1zM242 3h1v1h-1zM244 3h1v1h-1zM263 3h1v1h-1zM294 3h1v1h-1zM22 4h1v1h-1zM28 4h1v1h-1zM40 4h1v1h-1zM45 4h1v1h-1zM97 4h1v1h-1zM112 4h1v1h-1zM130 4h1v1h-1zM147 4h1v1h-1zM160 4h1v1h-1zM210 4h1v1h-1zM212 4h1v1h-1zM226 4h2v1h-2zM229 4h1v1h-1zM243 4h4v1h-4zM275 4h1v1h-1zM295 4h1v1h-1zM298 4h1v1h-1zM22 5h1v1h-1zM27 5h1v1h-1zM57 5h1v1h-1zM74 5h1v1h-1zM91 5h1v1h-1zM107 5h1v1h-1zM112 5h1v1h-1zM124 5h1v1h-1zM141 5h1v1h-1zM159 5h1v1h-1zM176 5h2v1h-2zM180 5h1v1h-1zM194 5h2v1h-2zM198 5h1v1h-1zM211 5h3v1h-3zM245 5h1v1h-1zM248 5h1v1h-1zM262 5h1v1h-1zM264 5h1v1h-1zM278 5h1v1h-1zM295 5h2v1h-2zM22 6h1v1h-1zM40 6h1v1h-1zM57 6h1v1h-1zM62 6h1v1h-1zM90 6h1v1h-1zM95 6h1v1h-1zM112 6h1v1h-1zM124 6h1v1h-1zM180 6h1v1h-1zM192 6h1v1h-1zM196 6h1v1h-1zM210 6h1v1h-1zM213 6h1v1h-1zM225 6h3v1h-3zM229 6h1v1h-1zM243 6h1v1h-1zM246 6h1v1h-1zM261 6h2v1h-2zM275 6h2v1h-2zM279 6h1v1h-1zM296 6h1v1h-1zM27 7h1v1h-1zM39 7h1v1h-1zM45 7h1v1h-1zM56 7h1v1h-1zM78 7h1v1h-1zM107 7h1v1h-1zM130 7h1v1h-1zM142 7h1v1h-1zM147 7h1v1h-1zM178 7h2v1h-2zM192 7h1v1h-1zM196 7h2v1h-2zM210 7h1v1h-1zM214 7h1v1h-1zM226 7h1v1h-1zM229 7h1v1h-1zM245 7h3v1h-3zM261 7h1v1h-1zM263 7h1v1h-1zM277 7h1v1h-1zM294 7h1v1h-1zM296 7h1v1h-1zM45 8h1v1h-1zM73 8h1v1h-1zM107 8h1v1h-1zM113 8h1v1h-1zM124 8h1v1h-1zM163 8h1v1h-1zM175 8h1v1h-1zM180 8h2v1h-2zM195 8h1v1h-1zM213 8h1v1h-1zM226 8h1v1h-1zM240 8h1v1h-1zM261 8h1v1h-1zM263 8h1v1h-1zM275 8h2v1h-2zM10 9h1v1h-1zM22 9h1v1h-1zM91 9h1v1h-1zM129 9h1v1h-1zM141 9h1v1h-1zM179 9h1v1h-1zM192 9h1v1h-1zM225 9h2v1h-2zM260 9h2v1h-2zM278 9h1v1h-1zM293 9h2v1h-2zM296 9h1v1h-1zM28 10h1v1h-1zM40 10h1v1h-1zM128 10h1v1h-1zM159 10h1v1h-1zM176 10h1v1h-1zM215 10h1v1h-1zM228 10h2v1h-2zM244 10h1v1h-1zM246 10h1v1h-1zM259 10h1v1h-1zM261 10h1v1h-1zM276 10h1v1h-1zM279 10h1v1h-1zM297 10h1v1h-1zM5 11h1v1h-1zM11 11h1v1h-1zM39 11h1v1h-1zM130 11h1v1h-1zM144 11h1v1h-1zM159 11h1v1h-1zM163 11h1v1h-1zM213 11h1v1h-1zM229 11h1v1h-1zM244 11h1v1h-1zM246 11h1v1h-1zM278 11h2v1h-2zM292 11h3v1h-3zM5 12h1v1h-1zM22 12h1v1h-1zM28 12h1v1h-1zM40 12h1v1h-1zM91 12h1v1h-1zM107 12h1v1h-1zM123 12h1v1h-1zM129 12h1v1h-1zM176 12h1v1h-1zM210 12h1v1h-1zM229 12h1v1h-1zM244 12h2v1h-2zM261 12h1v1h-1zM263 12h1v1h-1zM281 12h1v1h-1zM296 12h1v1h-1zM5 13h1v1h-1zM22 13h1v1h-1zM39 13h1v1h-1zM74 13h1v1h-1zM108 13h1v1h-1zM125 13h1v1h-1zM163 13h1v1h-1zM176 13h2v1h-2zM195 13h1v1h-1zM197 13h1v1h-1zM210 13h1v1h-1zM213 13h1v1h-1zM229 13h1v1h-1zM246 13h1v1h-1zM260 13h1v1h-1zM22 14h1v1h-1zM39 14h1v1h-1zM57 14h1v1h-1zM62 14h1v1h-1zM79 14h1v1h-1zM90 14h1v1h-1zM95 14h1v1h-1zM107 14h1v1h-1zM142 14h1v1h-1zM147 14h1v1h-1zM159 14h1v1h-1zM180 14h1v1h-1zM193 14h2v1h-2zM197 14h1v1h-1zM215 14h1v1h-1zM227 14h2v1h-2zM246 14h1v1h-1zM261 14h1v1h-1zM276 14h1v1h-1zM293 14h2v1h-2zM39 15h1v1h-1zM62 15h1v1h-1zM79 15h1v1h-1zM95 15h1v1h-1zM112 15h1v1h-1zM125 15h1v1h-1zM130 15h1v1h-1zM142 15h1v1h-1zM159 15h1v1h-1zM176 15h2v1h-2zM180 15h1v1h-1zM193 15h1v1h-1zM211 15h1v1h-1zM225 15h1v1h-1zM241 15h4v1h-4zM262 15h1v1h-1zM264 15h1v1h-1zM276 15h1v1h-1zM280 15h1v1h-1zM294 15h1v1h-1zM297 15h1v1h-1zM5 16h1v1h-1zM40 16h1v1h-1zM159 16h1v1h-1zM164 16h1v1h-1zM195 16h1v1h-1zM210 16h1v1h-1zM213 16h1v1h-1zM5 17h1v1h-1zM22 17h1v1h-1zM45 17h1v1h-1zM112 17h1v1h-1zM176 17h1v1h-1zM196 17h1v1h-1zM209 17h1v1h-1zM212 17h1v1h-1zM244 17h2v1h-2zM247 17h1v1h-1zM260 17h4v1h-4zM275 17h1v1h-1zM280 17h1v1h-1zM294 17h1v1h-1zM296 17h1v1h-1zM10 18h1v1h-1zM27 18h1v1h-1zM62 18h1v1h-1zM123 18h1v1h-1zM194 18h1v1h-1zM209 18h2v1h-2zM226 18h1v1h-1zM275 18h2v1h-2zM278 18h1v1h-1zM295 18h1v1h-1zM299 18h1v1h-1zM10 19h1v1h-1zM27 19h1v1h-1zM39 19h1v1h-1zM45 19h1v1h-1zM57 19h1v1h-1zM80 19h1v1h-1zM91 19h1v1h-1zM143 19h1v1h-1zM148 19h1v1h-1zM194 19h2v1h-2zM197 19h1v1h-1zM211 19h1v1h-1zM214 19h1v1h-1zM230 19h1v1h-1zM243 19h1v1h-1zM261 19h1v1h-1zM279 19h1v1h-1zM295 19h1v1h-1zM298 19h1v1h-1zM45 20h1v1h-1zM148 20h1v1h-1zM175 20h1v1h-1zM180 20h1v1h-1zM194 20h1v1h-1zM197 20h1v1h-1zM210 20h1v1h-1zM213 20h2v1h-2zM229 20h2v1h-2zM246 20h2v1h-2zM263 20h1v1h-1zM276 20h1v1h-1zM278 20h1v1h-1zM28 21h1v1h-1zM57 21h1v1h-1zM79 21h1v1h-1zM95 21h1v1h-1zM107 21h1v1h-1zM123 21h1v1h-1zM163 21h1v1h-1zM179 21h2v1h-2zM213 21h1v1h-1zM294 21h1v1h-1zM296 21h1v1h-1z"/><path fill="#ffff80" d="M23 0h1v1h-1zM45 0h1v1h-1zM74 0h1v1h-1zM91 0h1v1h-1zM95 0h1v1h-1zM112 0h1v1h-1zM129 0h1v1h-1zM146 0h1v1h-1zM158 0h2v1h-2zM179 0h1v1h-1zM194 0h1v1h-1zM214 0h1v1h-1zM229 0h1v1h-1zM260 0h2v1h-2zM279 0h2v1h-2zM57 1h1v1h-1zM91 1h1v1h-1zM108 1h1v1h-1zM125 1h1v1h-1zM129 1h1v1h-1zM146 1h1v1h-1zM162 1h1v1h-1zM177 1h1v1h-1zM179 1h1v1h-1zM194 1h1v1h-1zM228 1h2v1h-2zM245 1h1v1h-1zM247 1h1v1h-1zM262 1h2v1h-2zM279 1h1v1h-1zM296 1h1v1h-1zM298 1h1v1h-1zM27 2h1v1h-1zM74 2h1v1h-1zM128 2h2v1h-2zM142 2h1v1h-1zM145 2h1v1h-1zM160 2h1v1h-1zM163 2h1v1h-1zM178 2h1v1h-1zM212 2h2v1h-2zM215 2h1v1h-1zM227 2h2v1h-2zM243 2h3v1h-3zM277 2h1v1h-1zM295 2h1v1h-1zM10 3h1v1h-1zM57 3h1v1h-1zM61 3h1v1h-1zM79 3h1v1h-1zM108 3h1v1h-1zM113 3h1v1h-1zM176 3h1v1h-1zM211 3h1v1h-1zM245 3h1v1h-1zM262 3h1v1h-1zM277 3h1v1h-1zM62 4h1v1h-1zM74 4h1v1h-1zM79 4h1v1h-1zM125 4h1v1h-1zM129 4h1v1h-1zM142 4h2v1h-2zM176 4h1v1h-1zM196 4h1v1h-1zM211 4h1v1h-1zM213 4h2v1h-2zM261 4h1v1h-1zM277 4h2v1h-2zM294 4h1v1h-1zM5 5h1v1h-1zM10 5h1v1h-1zM45 5h1v1h-1zM62 5h1v1h-1zM79 5h1v1h-1zM129 5h1v1h-1zM163 5h1v1h-1zM210 5h1v1h-1zM227 5h1v1h-1zM230 5h1v1h-1zM247 5h1v1h-1zM279 5h1v1h-1zM294 5h1v1h-1zM297 5h1v1h-1zM10 6h1v1h-1zM27 6h1v1h-1zM74 6h1v1h-1zM107 6h1v1h-1zM141 6h1v1h-1zM158 6h1v1h-1zM160 6h1v1h-1zM162 6h1v1h-1zM176 6h1v1h-1zM228 6h1v1h-1zM245 6h1v1h-1zM263 6h1v1h-1zM278 6h1v1h-1zM5 7h1v1h-1zM10 7h1v1h-1zM22 7h1v1h-1zM40 7h1v1h-1zM61 7h1v1h-1zM73 7h1v1h-1zM129 7h1v1h-1zM146 7h1v1h-1zM162 7h1v1h-1zM175 7h1v1h-1zM193 7h2v1h-2zM211 7h2v1h-2zM244 7h1v1h-1zM293 7h1v1h-1zM295 7h1v1h-1zM27 8h1v1h-1zM40 8h1v1h-1zM62 8h1v1h-1zM74 8h1v1h-1zM79 8h1v1h-1zM91 8h1v1h-1zM96 8h1v1h-1zM112 8h1v1h-1zM125 8h1v1h-1zM196 8h1v1h-1zM211 8h1v1h-1zM214 8h1v1h-1zM227 8h1v1h-1zM246 8h1v1h-1zM293 8h1v1h-1zM27 9h1v1h-1zM39 9h1v1h-1zM109 9h2v1h-2zM114 9h1v1h-1zM142 9h1v1h-1zM145 9h1v1h-1zM159 9h1v1h-1zM163 9h1v1h-1zM175 9h1v1h-1zM196 9h1v1h-1zM212 9h1v1h-1zM244 9h4v1h-4zM262 9h1v1h-1zM276 9h2v1h-2zM5 10h1v1h-1zM10 10h1v1h-1zM45 10h1v1h-1zM108 10h1v1h-1zM112 10h1v1h-1zM124 10h1v1h-1zM141 10h1v1h-1zM160 10h1v1h-1zM179 10h2v1h-2zM194 10h2v1h-2zM197 10h1v1h-1zM211 10h1v1h-1zM213 10h2v1h-2zM227 10h1v1h-1zM260 10h1v1h-1zM262 10h1v1h-1zM280 10h1v1h-1zM293 10h2v1h-2zM10 11h1v1h-1zM27 11h1v1h-1zM44 11h1v1h-1zM58 11h1v1h-1zM79 11h1v1h-1zM95 11h1v1h-1zM129 11h1v1h-1zM143 11h1v1h-1zM146 11h2v1h-2zM160 11h1v1h-1zM162 11h1v1h-1zM178 11h2v1h-2zM193 11h2v1h-2zM197 11h1v1h-1zM212 11h1v1h-1zM214 11h1v1h-1zM227 11h2v1h-2zM230 11h1v1h-1zM242 11h1v1h-1zM45 12h1v1h-1zM62 12h1v1h-1zM78 12h1v1h-1zM96 12h1v1h-1zM124 12h2v1h-2zM141 12h1v1h-1zM146 12h1v1h-1zM159 12h1v1h-1zM163 12h1v1h-1zM175 12h1v1h-1zM178 12h1v1h-1zM192 12h1v1h-1zM194 12h1v1h-1zM196 12h1v1h-1zM213 12h2v1h-2zM228 12h1v1h-1zM262 12h1v1h-1zM264 12h1v1h-1zM277 12h1v1h-1zM279 12h1v1h-1zM293 12h1v1h-1zM10 13h1v1h-1zM27 13h1v1h-1zM45 13h1v1h-1zM62 13h1v1h-1zM79 13h1v1h-1zM91 13h1v1h-1zM112 13h1v1h-1zM147 13h1v1h-1zM160 13h1v1h-1zM178 13h1v1h-1zM196 13h1v1h-1zM211 13h2v1h-2zM226 13h3v1h-3zM245 13h1v1h-1zM262 13h1v1h-1zM274 13h1v1h-1zM292 13h1v1h-1zM295 13h1v1h-1zM5 14h1v1h-1zM10 14h1v1h-1zM45 14h1v1h-1zM73 14h1v1h-1zM91 14h1v1h-1zM125 14h1v1h-1zM177 14h1v1h-1zM179 14h1v1h-1zM196 14h1v1h-1zM211 14h1v1h-1zM213 14h2v1h-2zM243 14h2v1h-2zM259 14h2v1h-2zM280 14h1v1h-1zM10 15h1v1h-1zM22 15h1v1h-1zM27 15h1v1h-1zM44 15h1v1h-1zM90 15h1v1h-1zM107 15h1v1h-1zM194 15h1v1h-1zM197 15h1v1h-1zM212 15h2v1h-2zM228 15h1v1h-1zM246 15h1v1h-1zM278 15h1v1h-1zM10 16h1v1h-1zM22 16h1v1h-1zM27 16h1v1h-1zM79 16h1v1h-1zM91 16h1v1h-1zM125 16h1v1h-1zM147 16h1v1h-1zM163 16h1v1h-1zM192 16h2v1h-2zM211 16h2v1h-2zM227 16h3v1h-3zM243 16h4v1h-4zM263 16h1v1h-1zM279 16h1v1h-1zM10 17h1v1h-1zM74 17h1v1h-1zM91 17h1v1h-1zM108 17h1v1h-1zM144 17h2v1h-2zM157 17h1v1h-1zM160 17h2v1h-2zM175 17h1v1h-1zM177 17h3v1h-3zM192 17h1v1h-1zM194 17h1v1h-1zM229 17h1v1h-1zM277 17h1v1h-1zM279 17h1v1h-1zM5 18h1v1h-1zM22 18h1v1h-1zM45 18h1v1h-1zM79 18h1v1h-1zM91 18h1v1h-1zM95 18h1v1h-1zM128 18h1v1h-1zM158 18h2v1h-2zM163 18h1v1h-1zM175 18h1v1h-1zM177 18h2v1h-2zM195 18h2v1h-2zM212 18h1v1h-1zM225 18h1v1h-1zM242 18h1v1h-1zM259 18h1v1h-1zM277 18h1v1h-1zM297 18h1v1h-1zM5 19h1v1h-1zM58 19h1v1h-1zM96 19h1v1h-1zM112 19h1v1h-1zM126 19h1v1h-1zM160 19h1v1h-1zM175 19h1v1h-1zM179 19h2v1h-2zM213 19h1v1h-1zM228 19h1v1h-1zM247 19h1v1h-1zM260 19h1v1h-1zM5 20h1v1h-1zM27 20h1v1h-1zM39 20h1v1h-1zM62 20h1v1h-1zM74 20h1v1h-1zM79 20h1v1h-1zM91 20h1v1h-1zM125 20h1v1h-1zM129 20h1v1h-1zM142 20h1v1h-1zM176 20h2v1h-2zM179 20h1v1h-1zM195 20h2v1h-2zM198 20h1v1h-1zM211 20h2v1h-2zM245 20h1v1h-1zM262 20h1v1h-1zM279 20h1v1h-1zM297 20h1v1h-1zM10 21h1v1h-1zM74 21h1v1h-1zM112 21h1v1h-1zM124 21h1v1h-1zM128 21h1v1h-1zM141 21h1v1h-1zM158 21h1v1h-1zM211 21h2v1h-2zM215 21h1v1h-1zM228 21h1v1h-1zM244 21h1v1h-1zM275 21h2v1h-2z"/><path fill="#ffffaa" d="M10 0h1v1h-1zM40 0h1v1h-1zM62 0h1v1h-1zM78 0h1v1h-1zM128 0h1v1h-1zM160 0h1v1h-1zM196 0h2v1h-2zM212 0h1v1h-1zM228 0h1v1h-1zM245 0h2v1h-2zM297 0h1v1h-1zM6 1h1v1h-1zM10 1h1v1h-1zM27 1h1v1h-1zM44 1h1v1h-1zM61 1h1v1h-1zM74 1h1v1h-1zM78 1h1v1h-1zM145 1h1v1h-1zM160 1h1v1h-1zM163 1h2v1h-2zM176 1h1v1h-1zM178 1h1v1h-1zM195 1h1v1h-1zM197 1h1v1h-1zM212 1h2v1h-2zM261 1h1v1h-1zM278 1h1v1h-1zM6 2h1v1h-1zM40 2h1v1h-1zM44 2h1v1h-1zM62 2h1v1h-1zM75 2h1v1h-1zM79 2h1v1h-1zM94 2h2v1h-2zM143 2h2v1h-2zM146 2h1v1h-1zM161 2h1v1h-1zM180 2h1v1h-1zM197 2h2v1h-2zM229 2h2v1h-2zM242 2h1v1h-1zM246 2h1v1h-1zM23 3h1v1h-1zM40 3h1v1h-1zM44 3h1v1h-1zM62 3h1v1h-1zM74 3h1v1h-1zM125 3h1v1h-1zM146 3h1v1h-1zM161 3h3v1h-3zM177 3h1v1h-1zM213 3h2v1h-2zM276 3h1v1h-1zM296 3h1v1h-1zM10 4h1v1h-1zM23 4h1v1h-1zM27 4h1v1h-1zM57 4h1v1h-1zM96 4h1v1h-1zM108 4h1v1h-1zM126 4h1v1h-1zM144 4h1v1h-1zM163 4h1v1h-1zM179 4h1v1h-1zM197 4h1v1h-1zM228 4h1v1h-1zM279 4h1v1h-1zM296 4h1v1h-1zM58 5h1v1h-1zM78 5h1v1h-1zM92 5h1v1h-1zM96 5h1v1h-1zM108 5h1v1h-1zM142 5h1v1h-1zM145 5h2v1h-2zM178 5h2v1h-2zM196 5h1v1h-1zM228 5h2v1h-2zM280 5h1v1h-1zM6 6h1v1h-1zM23 6h1v1h-1zM45 6h1v1h-1zM78 6h1v1h-1zM94 6h1v1h-1zM125 6h1v1h-1zM129 6h1v1h-1zM142 6h1v1h-1zM145 6h2v1h-2zM159 6h1v1h-1zM161 6h1v1h-1zM179 6h1v1h-1zM193 6h2v1h-2zM212 6h1v1h-1zM295 6h1v1h-1zM297 6h1v1h-1zM6 7h1v1h-1zM108 7h1v1h-1zM125 7h1v1h-1zM177 7h1v1h-1zM195 7h1v1h-1zM213 7h1v1h-1zM228 7h1v1h-1zM262 7h1v1h-1zM278 7h2v1h-2zM10 8h1v1h-1zM23 8h1v1h-1zM41 8h1v1h-1zM58 8h1v1h-1zM127 8h1v1h-1zM159 8h1v1h-1zM162 8h1v1h-1zM176 8h2v1h-2zM179 8h1v1h-1zM197 8h1v1h-1zM212 8h1v1h-1zM228 8h1v1h-1zM241 8h1v1h-1zM244 8h2v1h-2zM260 8h1v1h-1zM5 9h1v1h-1zM44 9h1v1h-1zM57 9h1v1h-1zM60 9h2v1h-2zM96 9h1v1h-1zM113 9h1v1h-1zM126 9h1v1h-1zM146 9h1v1h-1zM161 9h1v1h-1zM176 9h3v1h-3zM193 9h3v1h-3zM210 9h1v1h-1zM263 9h1v1h-1zM295 9h1v1h-1zM23 10h1v1h-1zM27 10h1v1h-1zM58 10h1v1h-1zM75 10h1v1h-1zM79 10h1v1h-1zM95 10h1v1h-1zM109 10h1v1h-1zM145 10h1v1h-1zM163 10h1v1h-1zM196 10h1v1h-1zM212 10h1v1h-1zM245 10h1v1h-1zM278 10h1v1h-1zM6 11h1v1h-1zM23 11h1v1h-1zM91 11h1v1h-1zM108 11h1v1h-1zM112 11h1v1h-1zM125 11h1v1h-1zM127 11h1v1h-1zM177 11h1v1h-1zM10 12h1v1h-1zM23 12h1v1h-1zM27 12h1v1h-1zM57 12h1v1h-1zM95 12h1v1h-1zM126 12h1v1h-1zM143 12h1v1h-1zM145 12h1v1h-1zM160 12h1v1h-1zM195 12h1v1h-1zM211 12h2v1h-2zM294 12h1v1h-1zM23 13h1v1h-1zM57 13h1v1h-1zM61 13h1v1h-1zM75 13h1v1h-1zM93 13h1v1h-1zM96 13h1v1h-1zM129 13h1v1h-1zM143 13h1v1h-1zM145 13h2v1h-2zM179 13h2v1h-2zM23 14h1v1h-1zM27 14h1v1h-1zM74 14h1v1h-1zM78 14h1v1h-1zM108 14h1v1h-1zM112 14h1v1h-1zM126 14h1v1h-1zM129 14h1v1h-1zM143 14h1v1h-1zM146 14h1v1h-1zM161 14h1v1h-1zM178 14h1v1h-1zM195 14h1v1h-1zM212 14h1v1h-1zM245 14h1v1h-1zM263 14h1v1h-1zM278 14h1v1h-1zM6 15h1v1h-1zM57 15h1v1h-1zM61 15h1v1h-1zM74 15h1v1h-1zM78 15h1v1h-1zM91 15h1v1h-1zM108 15h1v1h-1zM126 15h1v1h-1zM161 15h2v1h-2zM178 15h2v1h-2zM195 15h1v1h-1zM226 15h2v1h-2zM263 15h1v1h-1zM279 15h1v1h-1zM23 16h1v1h-1zM62 16h1v1h-1zM95 16h1v1h-1zM108 16h1v1h-1zM111 16h1v1h-1zM127 16h2v1h-2zM142 16h1v1h-1zM160 16h2v1h-2zM178 16h2v1h-2zM196 16h1v1h-1zM261 16h2v1h-2zM277 16h1v1h-1zM294 16h1v1h-1zM23 17h1v1h-1zM27 17h1v1h-1zM40 17h2v1h-2zM44 17h1v1h-1zM57 17h1v1h-1zM61 17h1v1h-1zM78 17h1v1h-1zM92 17h1v1h-1zM95 17h1v1h-1zM107 17h1v1h-1zM128 17h2v1h-2zM141 17h1v1h-1zM195 17h1v1h-1zM211 17h1v1h-1zM228 17h1v1h-1zM243 17h1v1h-1zM295 17h1v1h-1zM44 18h1v1h-1zM74 18h1v1h-1zM78 18h1v1h-1zM106 18h1v1h-1zM111 18h1v1h-1zM124 18h1v1h-1zM146 18h1v1h-1zM176 18h1v1h-1zM179 18h1v1h-1zM211 18h1v1h-1zM213 18h1v1h-1zM296 18h1v1h-1zM6 19h1v1h-1zM22 19h1v1h-1zM43 19h1v1h-1zM75 19h1v1h-1zM92 19h1v1h-1zM108 19h1v1h-1zM111 19h1v1h-1zM125 19h1v1h-1zM163 19h2v1h-2zM176 19h1v1h-1zM178 19h1v1h-1zM196 19h1v1h-1zM212 19h1v1h-1zM229 19h1v1h-1zM245 19h1v1h-1zM262 19h1v1h-1zM278 19h1v1h-1zM57 20h1v1h-1zM78 20h1v1h-1zM109 20h1v1h-1zM113 20h1v1h-1zM162 20h1v1h-1zM228 20h1v1h-1zM243 20h2v1h-2zM5 21h1v1h-1zM40 21h1v1h-1zM44 21h1v1h-1zM58 21h1v1h-1zM62 21h1v1h-1zM91 21h1v1h-1zM108 21h1v1h-1zM129 21h1v1h-1zM142 21h2v1h-2zM145 21h1v1h-1zM159 21h1v1h-1zM194 21h1v1h-1zM196 21h1v1h-1zM229 21h2v1h-2zM258 21h1v1h-1zM295 21h1v1h-1z"/><path fill="#ffffd4" d="M9 0h1v1h-1zM26 0h2v1h-2zM44 0h1v1h-1zM58 0h1v1h-1zM61 0h1v1h-1zM76 0h2v1h-2zM108 0h1v1h-1zM111 0h1v1h-1zM143 0h2v1h-2zM161 0h2v1h-2zM177 0h2v1h-2zM195 0h1v1h-1zM23 1h1v1h-1zM43 1h1v1h-1zM92 1h1v1h-1zM95 1h1v1h-1zM110 1h2v1h-2zM143 1h2v1h-2zM161 1h1v1h-1zM196 1h1v1h-1zM23 2h1v1h-1zM59 2h1v1h-1zM78 2h1v1h-1zM179 2h1v1h-1zM196 2h1v1h-1zM24 3h1v1h-1zM27 3h1v1h-1zM60 3h1v1h-1zM75 3h1v1h-1zM78 3h1v1h-1zM92 3h2v1h-2zM95 3h1v1h-1zM109 3h1v1h-1zM112 3h1v1h-1zM127 3h2v1h-2zM143 3h3v1h-3zM194 3h1v1h-1zM6 4h1v1h-1zM44 4h1v1h-1zM60 4h2v1h-2zM75 4h1v1h-1zM111 4h1v1h-1zM127 4h2v1h-2zM146 4h1v1h-1zM161 4h1v1h-1zM178 4h1v1h-1zM195 4h1v1h-1zM9 5h1v1h-1zM23 5h1v1h-1zM25 5h1v1h-1zM40 5h3v1h-3zM75 5h1v1h-1zM110 5h1v1h-1zM125 5h1v1h-1zM127 5h1v1h-1zM143 5h1v1h-1zM160 5h3v1h-3zM197 5h1v1h-1zM41 6h1v1h-1zM58 6h1v1h-1zM61 6h1v1h-1zM75 6h2v1h-2zM111 6h1v1h-1zM128 6h1v1h-1zM143 6h2v1h-2zM177 6h2v1h-2zM195 6h1v1h-1zM9 7h1v1h-1zM23 7h1v1h-1zM26 7h1v1h-1zM44 7h1v1h-1zM57 7h1v1h-1zM60 7h1v1h-1zM91 7h1v1h-1zM109 7h1v1h-1zM112 7h1v1h-1zM143 7h2v1h-2zM176 7h1v1h-1zM6 8h1v1h-1zM60 8h1v1h-1zM75 8h1v1h-1zM78 8h1v1h-1zM92 8h1v1h-1zM95 8h1v1h-1zM108 8h2v1h-2zM128 8h1v1h-1zM142 8h1v1h-1zM144 8h2v1h-2zM160 8h1v1h-1zM262 8h1v1h-1zM294 8h1v1h-1zM9 9h1v1h-1zM23 9h1v1h-1zM40 9h1v1h-1zM59 9h1v1h-1zM74 9h2v1h-2zM78 9h1v1h-1zM128 9h1v1h-1zM143 9h1v1h-1zM160 9h1v1h-1zM162 9h1v1h-1zM9 10h1v1h-1zM24 10h1v1h-1zM41 10h1v1h-1zM43 10h1v1h-1zM62 10h1v1h-1zM77 10h2v1h-2zM91 10h2v1h-2zM125 10h3v1h-3zM142 10h2v1h-2zM161 10h1v1h-1zM177 10h2v1h-2zM24 11h1v1h-1zM40 11h1v1h-1zM62 11h1v1h-1zM75 11h1v1h-1zM78 11h1v1h-1zM92 11h1v1h-1zM94 11h1v1h-1zM128 11h1v1h-1zM161 11h1v1h-1zM195 11h2v1h-2zM245 11h1v1h-1zM9 12h1v1h-1zM44 12h1v1h-1zM58 12h1v1h-1zM60 12h1v1h-1zM74 12h2v1h-2zM93 12h1v1h-1zM108 12h1v1h-1zM112 12h1v1h-1zM128 12h1v1h-1zM142 12h1v1h-1zM144 12h1v1h-1zM161 12h1v1h-1zM193 12h1v1h-1zM6 13h1v1h-1zM26 13h1v1h-1zM41 13h1v1h-1zM78 13h1v1h-1zM109 13h1v1h-1zM111 13h1v1h-1zM126 13h2v1h-2zM161 13h2v1h-2zM7 14h1v1h-1zM58 14h1v1h-1zM61 14h1v1h-1zM110 14h2v1h-2zM160 14h1v1h-1zM162 14h1v1h-1zM279 14h1v1h-1zM23 15h1v1h-1zM40 15h1v1h-1zM58 15h1v1h-1zM77 15h1v1h-1zM111 15h1v1h-1zM128 15h1v1h-1zM143 15h1v1h-1zM145 15h2v1h-2zM196 15h1v1h-1zM6 16h1v1h-1zM9 16h1v1h-1zM43 16h2v1h-2zM61 16h1v1h-1zM74 16h2v1h-2zM78 16h1v1h-1zM93 16h2v1h-2zM126 16h1v1h-1zM143 16h2v1h-2zM162 16h1v1h-1zM177 16h1v1h-1zM278 16h1v1h-1zM6 17h1v1h-1zM24 17h1v1h-1zM125 17h2v1h-2zM143 17h1v1h-1zM158 17h2v1h-2zM193 17h1v1h-1zM210 17h1v1h-1zM227 17h1v1h-1zM41 18h1v1h-1zM61 18h1v1h-1zM75 18h1v1h-1zM77 18h1v1h-1zM92 18h1v1h-1zM107 18h1v1h-1zM127 18h1v1h-1zM143 18h3v1h-3zM227 18h1v1h-1zM243 18h1v1h-1zM9 19h1v1h-1zM23 19h1v1h-1zM26 19h1v1h-1zM44 19h1v1h-1zM62 19h1v1h-1zM79 19h1v1h-1zM95 19h1v1h-1zM109 19h1v1h-1zM129 19h1v1h-1zM144 19h1v1h-1zM146 19h2v1h-2zM162 19h1v1h-1zM177 19h1v1h-1zM9 20h1v1h-1zM23 20h1v1h-1zM26 20h1v1h-1zM41 20h1v1h-1zM43 20h2v1h-2zM58 20h1v1h-1zM61 20h1v1h-1zM75 20h1v1h-1zM92 20h1v1h-1zM96 20h1v1h-1zM126 20h1v1h-1zM143 20h4v1h-4zM160 20h1v1h-1zM178 20h1v1h-1zM23 21h1v1h-1zM27 21h1v1h-1zM78 21h1v1h-1zM92 21h1v1h-1zM111 21h1v1h-1zM126 21h2v1h-2zM144 21h1v1h-1zM160 21h2v1h-2zM176 21h2v1h-2zM195 21h1v1h-1zM277 21h1v1h-1z"/><path fill="#ffffff" d="M6 0h3v1h-3zM24 0h2v1h-2zM41 0h3v1h-3zM59 0h2v1h-2zM75 0h1v1h-1zM92 0h3v1h-3zM109 0h2v1h-2zM126 0h2v1h-2zM145 0h1v1h-1zM7 1h3v1h-3zM24 1h3v1h-3zM40 1h3v1h-3zM58 1h3v1h-3zM75 1h3v1h-3zM93 1h2v1h-2zM109 1h1v1h-1zM126 1h3v1h-3zM7 2h3v1h-3zM24 2h3v1h-3zM41 2h3v1h-3zM58 2h1v1h-1zM60 2h2v1h-2zM76 2h2v1h-2zM92 2h2v1h-2zM108 2h4v1h-4zM125 2h3v1h-3zM162 2h1v1h-1zM6 3h4v1h-4zM25 3h2v1h-2zM41 3h3v1h-3zM58 3h2v1h-2zM76 3h2v1h-2zM94 3h1v1h-1zM110 3h2v1h-2zM126 3h1v1h-1zM7 4h3v1h-3zM24 4h3v1h-3zM41 4h3v1h-3zM58 4h2v1h-2zM76 4h3v1h-3zM92 4h4v1h-4zM109 4h2v1h-2zM145 4h1v1h-1zM162 4h1v1h-1zM177 4h1v1h-1zM6 5h3v1h-3zM24 5h1v1h-1zM26 5h1v1h-1zM43 5h2v1h-2zM59 5h3v1h-3zM76 5h2v1h-2zM93 5h3v1h-3zM109 5h1v1h-1zM111 5h1v1h-1zM126 5h1v1h-1zM128 5h1v1h-1zM144 5h1v1h-1zM7 6h3v1h-3zM24 6h3v1h-3zM42 6h3v1h-3zM59 6h2v1h-2zM77 6h1v1h-1zM91 6h3v1h-3zM108 6h3v1h-3zM126 6h2v1h-2zM211 6h1v1h-1zM7 7h2v1h-2zM24 7h2v1h-2zM41 7h3v1h-3zM58 7h2v1h-2zM74 7h4v1h-4zM92 7h4v1h-4zM110 7h2v1h-2zM126 7h3v1h-3zM145 7h1v1h-1zM160 7h2v1h-2zM7 8h3v1h-3zM24 8h3v1h-3zM42 8h3v1h-3zM59 8h1v1h-1zM61 8h1v1h-1zM76 8h2v1h-2zM93 8h2v1h-2zM110 8h2v1h-2zM126 8h1v1h-1zM143 8h1v1h-1zM161 8h1v1h-1zM178 8h1v1h-1zM6 9h3v1h-3zM24 9h3v1h-3zM41 9h3v1h-3zM58 9h1v1h-1zM76 9h2v1h-2zM92 9h4v1h-4zM111 9h2v1h-2zM127 9h1v1h-1zM144 9h1v1h-1zM6 10h3v1h-3zM25 10h2v1h-2zM42 10h1v1h-1zM44 10h1v1h-1zM59 10h3v1h-3zM76 10h1v1h-1zM93 10h2v1h-2zM110 10h2v1h-2zM144 10h1v1h-1zM162 10h1v1h-1zM7 11h3v1h-3zM25 11h2v1h-2zM41 11h3v1h-3zM59 11h3v1h-3zM76 11h2v1h-2zM93 11h1v1h-1zM109 11h3v1h-3zM126 11h1v1h-1zM145 11h1v1h-1zM180 11h1v1h-1zM6 12h3v1h-3zM24 12h3v1h-3zM41 12h3v1h-3zM59 12h1v1h-1zM61 12h1v1h-1zM76 12h2v1h-2zM92 12h1v1h-1zM94 12h1v1h-1zM109 12h3v1h-3zM127 12h1v1h-1zM162 12h1v1h-1zM177 12h1v1h-1zM7 13h3v1h-3zM24 13h2v1h-2zM40 13h1v1h-1zM42 13h3v1h-3zM58 13h3v1h-3zM76 13h2v1h-2zM92 13h1v1h-1zM94 13h2v1h-2zM110 13h1v1h-1zM128 13h1v1h-1zM144 13h1v1h-1zM6 14h1v1h-1zM8 14h2v1h-2zM24 14h3v1h-3zM40 14h5v1h-5zM59 14h2v1h-2zM75 14h3v1h-3zM92 14h3v1h-3zM109 14h1v1h-1zM127 14h2v1h-2zM144 14h2v1h-2zM7 15h3v1h-3zM24 15h3v1h-3zM41 15h3v1h-3zM59 15h2v1h-2zM75 15h2v1h-2zM92 15h3v1h-3zM109 15h2v1h-2zM127 15h1v1h-1zM129 15h1v1h-1zM144 15h1v1h-1zM160 15h1v1h-1zM7 16h2v1h-2zM24 16h3v1h-3zM41 16h2v1h-2zM58 16h3v1h-3zM76 16h2v1h-2zM92 16h1v1h-1zM109 16h2v1h-2zM145 16h2v1h-2zM194 16h1v1h-1zM7 17h3v1h-3zM25 17h2v1h-2zM42 17h2v1h-2zM58 17h3v1h-3zM75 17h3v1h-3zM93 17h2v1h-2zM109 17h3v1h-3zM127 17h1v1h-1zM142 17h1v1h-1zM6 18h4v1h-4zM23 18h4v1h-4zM40 18h1v1h-1zM42 18h2v1h-2zM58 18h3v1h-3zM76 18h1v1h-1zM93 18h2v1h-2zM108 18h3v1h-3zM125 18h2v1h-2zM160 18h3v1h-3zM7 19h2v1h-2zM24 19h2v1h-2zM40 19h3v1h-3zM59 19h3v1h-3zM76 19h3v1h-3zM93 19h2v1h-2zM110 19h1v1h-1zM127 19h2v1h-2zM145 19h1v1h-1zM161 19h1v1h-1zM244 19h1v1h-1zM6 20h3v1h-3zM24 20h2v1h-2zM40 20h1v1h-1zM42 20h1v1h-1zM59 20h2v1h-2zM76 20h2v1h-2zM93 20h3v1h-3zM110 20h3v1h-3zM127 20h2v1h-2zM161 20h1v1h-1zM6 21h4v1h-4zM24 21h3v1h-3zM41 21h3v1h-3zM59 21h3v1h-3zM75 21h3v1h-3zM93 21h2v1h-2zM109 21h2v1h-2zM125 21h1v1h-1zM162 21h1v1h-1zM178 21h1v1h-1z"/></svg><rect x="103.50" y="11.50" width="723.10" height="168.00" fill="none" stroke="#262626" stroke-width="1.25"/><line x1="105.50" y1="179.50" x2="105.50" y2="172.30" stroke="#262626" stroke-width="1"/><line x1="105.50" y1="11.50" x2="105.50" y2="18.70" stroke="#262626" stroke-width="1"/><line x1="345.50" y1="179.50" x2="345.50" y2="172.30" stroke="#262626" stroke-width="1"/><line x1="345.50" y1="11.50" x2="345.50" y2="18.70" stroke="#262626" stroke-width="1"/><line x1="584.50" y1="179.50" x2="584.50" y2="172.30" stroke="#262626" stroke-width="1"/><line x1="584.50" y1="11.50" x2="584.50" y2="18.70" stroke="#262626" stroke-width="1"/><line x1="824.50" y1="179.50" x2="824.50" y2="172.30" stroke="#262626" stroke-width="1"/><line x1="824.50" y1="11.50" x2="824.50" y2="18.70" stroke="#262626" stroke-width="1"/><line x1="103.50" y1="45.50" x2="110.70" y2="45.50" stroke="#262626" stroke-width="1"/><line x1="826.60" y1="45.50" x2="819.40" y2="45.50" stroke="#262626" stroke-width="1"/><line x1="103.50" y1="84.50" x2="110.70" y2="84.50" stroke="#262626" stroke-width="1"/><line x1="826.60" y1="84.50" x2="819.40" y2="84.50" stroke="#262626" stroke-width="1"/><line x1="103.50" y1="122.50" x2="110.70" y2="122.50" stroke="#262626" stroke-width="1"/><line x1="826.60" y1="122.50" x2="819.40" y2="122.50" stroke="#262626" stroke-width="1"/><line x1="103.50" y1="160.50" x2="110.70" y2="160.50" stroke="#262626" stroke-width="1"/><line x1="826.60" y1="160.50" x2="819.40" y2="160.50" stroke="#262626" stroke-width="1"/><rect x="103.50" y="235.40" width="721.90" height="169.00" fill="none" stroke="#262626" stroke-width="1.25"/><line x1="104.50" y1="404.40" x2="104.50" y2="397.20" stroke="#262626" stroke-width="1"/><line x1="104.50" y1="235.40" x2="104.50" y2="242.60" stroke="#262626" stroke-width="1"/><line x1="224.50" y1="404.40" x2="224.50" y2="397.20" stroke="#262626" stroke-width="1"/><line x1="224.50" y1="235.40" x2="224.50" y2="242.60" stroke="#262626" stroke-width="1"/><line x1="344.50" y1="404.40" x2="344.50" y2="397.20" stroke="#262626" stroke-width="1"/><line x1="344.50" y1="235.40" x2="344.50" y2="242.60" stroke="#262626" stroke-width="1"/><line x1="464.50" y1="404.40" x2="464.50" y2="397.20" stroke="#262626" stroke-width="1"/><line x1="464.50" y1="235.40" x2="464.50" y2="242.60" stroke="#262626" stroke-width="1"/><line x1="584.50" y1="404.40" x2="584.50" y2="397.20" stroke="#262626" stroke-width="1"/><line x1="584.50" y1="235.40" x2="584.50" y2="242.60" stroke="#262626" stroke-width="1"/><line x1="704.50" y1="404.40" x2="704.50" y2="397.20" stroke="#262626" stroke-width="1"/><line x1="704.50" y1="235.40" x2="704.50" y2="242.60" stroke="#262626" stroke-width="1"/><line x1="824.50" y1="404.40" x2="824.50" y2="397.20" stroke="#262626" stroke-width="1"/><line x1="824.50" y1="235.40" x2="824.50" y2="242.60" stroke="#262626" stroke-width="1"/><line x1="103.50" y1="269.50" x2="110.70" y2="269.50" stroke="#262626" stroke-width="1"/><line x1="825.40" y1="269.50" x2="818.20" y2="269.50" stroke="#262626" stroke-width="1"/><line x1="103.50" y1="308.50" x2="110.70" y2="308.50" stroke="#262626" stroke-width="1"/><line x1="825.40" y1="308.50" x2="818.20" y2="308.50" stroke="#262626" stroke-width="1"/><line x1="103.50" y1="346.50" x2="110.70" y2="346.50" stroke="#262626" stroke-width="1"/><line x1="825.40" y1="346.50" x2="818.20" y2="346.50" stroke="#262626" stroke-width="1"/><line x1="103.50" y1="385.50" x2="110.70" y2="385.50" stroke="#262626" stroke-width="1"/><line x1="825.40" y1="385.50" x2="818.20" y2="385.50" stroke="#262626" stroke-width="1"/><text transform="translate(105.89,215.50) scale(1,1.04)" class="tk" text-anchor="middle">0</text><text transform="translate(345.33,215.50) scale(1,1.04)" class="tk" text-anchor="middle">50</text><text transform="translate(584.77,215.50) scale(1,1.04)" class="tk" text-anchor="middle">100</text><text transform="translate(824.21,215.50) scale(1,1.04)" class="tk" text-anchor="middle">150</text><text transform="translate(104.70,440.30) scale(1,1.04)" class="tk" text-anchor="middle">0</text><text transform="translate(224.62,440.30) scale(1,1.04)" class="tk" text-anchor="middle">50</text><text transform="translate(344.53,440.30) scale(1,1.04)" class="tk" text-anchor="middle">100</text><text transform="translate(464.45,440.30) scale(1,1.04)" class="tk" text-anchor="middle">150</text><text transform="translate(584.37,440.30) scale(1,1.04)" class="tk" text-anchor="middle">200</text><text transform="translate(704.28,440.30) scale(1,1.04)" class="tk" text-anchor="middle">250</text><text transform="translate(824.20,440.30) scale(1,1.04)" class="tk" text-anchor="middle">300</text><text transform="translate(92.50,56.16) scale(1,1.04)" class="tk" text-anchor="end">5</text><text transform="translate(92.50,280.27) scale(1,1.04)" class="tk" text-anchor="end">5</text><text transform="translate(92.50,94.35) scale(1,1.04)" class="tk" text-anchor="end">10</text><text transform="translate(92.50,318.68) scale(1,1.04)" class="tk" text-anchor="end">10</text><text transform="translate(92.50,132.53) scale(1,1.04)" class="tk" text-anchor="end">15</text><text transform="translate(92.50,357.09) scale(1,1.04)" class="tk" text-anchor="end">15</text><text transform="translate(92.50,170.71) scale(1,1.04)" class="tk" text-anchor="end">20</text><text transform="translate(92.50,395.50) scale(1,1.04)" class="tk" text-anchor="end">20</text><text transform="translate(50.0,96.4) rotate(-90) " class="lab" text-anchor="middle" style="font-size:28.1px">Ion number</text><text transform="translate(50.0,320.8) rotate(-90) " class="lab" text-anchor="middle" style="font-size:28.1px">Ion number</text><text transform="translate(460.4,478.2) " class="lab" text-anchor="middle">Time (<tspan class="mu">𝜇</tspan>s)</text><text transform="translate(-1.1,103.6)" class="lab">a<tspan dx="1.2">)</tspan></text><text transform="translate(-1.1,327.6)" class="lab">b<tspan dx="1.2">)</tspan></text><rect x="866.50" y="170.655" width="39.30" height="8.645" fill="#240000" shape-rendering="crispEdges"/><rect x="866.50" y="162.310" width="39.30" height="8.645" fill="#490000" shape-rendering="crispEdges"/><rect x="866.50" y="153.965" width="39.30" height="8.645" fill="#6d0000" shape-rendering="crispEdges"/><rect x="866.50" y="145.620" width="39.30" height="8.645" fill="#920000" shape-rendering="crispEdges"/><rect x="866.50" y="137.275" width="39.30" height="8.645" fill="#b60000" shape-rendering="crispEdges"/><rect x="866.50" y="128.930" width="39.30" height="8.645" fill="#db0000" shape-rendering="crispEdges"/><rect x="866.50" y="120.585" width="39.30" height="8.645" fill="#ff0000" shape-rendering="crispEdges"/><rect x="866.50" y="112.240" width="39.30" height="8.645" fill="#ff2400" shape-rendering="crispEdges"/><rect x="866.50" y="103.895" width="39.30" height="8.645" fill="#ff4900" shape-rendering="crispEdges"/><rect x="866.50" y="95.550" width="39.30" height="8.645" fill="#ff6d00" shape-rendering="crispEdges"/><rect x="866.50" y="87.205" width="39.30" height="8.645" fill="#ff9200" shape-rendering="crispEdges"/><rect x="866.50" y="78.860" width="39.30" height="8.645" fill="#ffb600" shape-rendering="crispEdges"/><rect x="866.50" y="70.515" width="39.30" height="8.645" fill="#ffdb00" shape-rendering="crispEdges"/><rect x="866.50" y="62.170" width="39.30" height="8.645" fill="#ffff00" shape-rendering="crispEdges"/><rect x="866.50" y="53.825" width="39.30" height="8.645" fill="#ffff2a" shape-rendering="crispEdges"/><rect x="866.50" y="45.480" width="39.30" height="8.645" fill="#ffff55" shape-rendering="crispEdges"/><rect x="866.50" y="37.135" width="39.30" height="8.645" fill="#ffff80" shape-rendering="crispEdges"/><rect x="866.50" y="28.790" width="39.30" height="8.645" fill="#ffffaa" shape-rendering="crispEdges"/><rect x="866.50" y="20.445" width="39.30" height="8.645" fill="#ffffd4" shape-rendering="crispEdges"/><rect x="866.50" y="12.100" width="39.30" height="8.645" fill="#ffffff" shape-rendering="crispEdges"/><rect x="866.50" y="12.10" width="39.30" height="166.90" fill="none" stroke="#262626" stroke-width="1.3"/><line x1="905.80" y1="179.50" x2="903.60" y2="179.50" stroke="#262626" stroke-width="1"/><text x="915.6" y="188.60" class="tkc">0</text><line x1="905.80" y1="137.50" x2="903.60" y2="137.50" stroke="#262626" stroke-width="1"/><text x="915.6" y="147.53" class="tkc">0.2</text><line x1="905.80" y1="96.50" x2="903.60" y2="96.50" stroke="#262626" stroke-width="1"/><text x="915.6" y="106.45" class="tkc">0.4</text><line x1="905.80" y1="55.50" x2="903.60" y2="55.50" stroke="#262626" stroke-width="1"/><text x="915.6" y="65.38" class="tkc">0.6</text><line x1="905.80" y1="14.50" x2="903.60" y2="14.50" stroke="#262626" stroke-width="1"/><text x="915.6" y="24.31" class="tkc">0.8</text><rect x="866.50" y="395.540" width="39.30" height="8.760" fill="#240000" shape-rendering="crispEdges"/><rect x="866.50" y="387.080" width="39.30" height="8.760" fill="#490000" shape-rendering="crispEdges"/><rect x="866.50" y="378.620" width="39.30" height="8.760" fill="#6d0000" shape-rendering="crispEdges"/><rect x="866.50" y="370.160" width="39.30" height="8.760" fill="#920000" shape-rendering="crispEdges"/><rect x="866.50" y="361.700" width="39.30" height="8.760" fill="#b60000" shape-rendering="crispEdges"/><rect x="866.50" y="353.240" width="39.30" height="8.760" fill="#db0000" shape-rendering="crispEdges"/><rect x="866.50" y="344.780" width="39.30" height="8.760" fill="#ff0000" shape-rendering="crispEdges"/><rect x="866.50" y="336.320" width="39.30" height="8.760" fill="#ff2400" shape-rendering="crispEdges"/><rect x="866.50" y="327.860" width="39.30" height="8.760" fill="#ff4900" shape-rendering="crispEdges"/><rect x="866.50" y="319.400" width="39.30" height="8.760" fill="#ff6d00" shape-rendering="crispEdges"/><rect x="866.50" y="310.940" width="39.30" height="8.760" fill="#ff9200" shape-rendering="crispEdges"/><rect x="866.50" y="302.480" width="39.30" height="8.760" fill="#ffb600" shape-rendering="crispEdges"/><rect x="866.50" y="294.020" width="39.30" height="8.760" fill="#ffdb00" shape-rendering="crispEdges"/><rect x="866.50" y="285.560" width="39.30" height="8.760" fill="#ffff00" shape-rendering="crispEdges"/><rect x="866.50" y="277.100" width="39.30" height="8.760" fill="#ffff2a" shape-rendering="crispEdges"/><rect x="866.50" y="268.640" width="39.30" height="8.760" fill="#ffff55" shape-rendering="crispEdges"/><rect x="866.50" y="260.180" width="39.30" height="8.760" fill="#ffff80" shape-rendering="crispEdges"/><rect x="866.50" y="251.720" width="39.30" height="8.760" fill="#ffffaa" shape-rendering="crispEdges"/><rect x="866.50" y="243.260" width="39.30" height="8.760" fill="#ffffd4" shape-rendering="crispEdges"/><rect x="866.50" y="234.800" width="39.30" height="8.760" fill="#ffffff" shape-rendering="crispEdges"/><rect x="866.50" y="234.80" width="39.30" height="169.20" fill="none" stroke="#262626" stroke-width="1.3"/><line x1="905.80" y1="404.50" x2="903.60" y2="404.50" stroke="#262626" stroke-width="1"/><text x="915.6" y="413.60" class="tkc">0</text><line x1="905.80" y1="319.50" x2="903.60" y2="319.50" stroke="#262626" stroke-width="1"/><text x="915.6" y="329.00" class="tkc">0.5</text><line x1="905.80" y1="234.50" x2="903.60" y2="234.50" stroke="#262626" stroke-width="1"/><text x="915.6" y="244.40" class="tkc">1</text><rect x="1024.00" y="12.50" width="275.50" height="390.00" fill="none" stroke="#262626" stroke-width="1.25"/><line x1="1102.50" y1="402.50" x2="1102.50" y2="392.80" stroke="#262626" stroke-width="1"/><line x1="1102.50" y1="12.50" x2="1102.50" y2="22.20" stroke="#262626" stroke-width="1"/><line x1="1181.50" y1="402.50" x2="1181.50" y2="392.80" stroke="#262626" stroke-width="1"/><line x1="1181.50" y1="12.50" x2="1181.50" y2="22.20" stroke="#262626" stroke-width="1"/><line x1="1260.50" y1="402.50" x2="1260.50" y2="392.80" stroke="#262626" stroke-width="1"/><line x1="1260.50" y1="12.50" x2="1260.50" y2="22.20" stroke="#262626" stroke-width="1"/><line x1="1024.00" y1="272.50" x2="1033.70" y2="272.50" stroke="#262626" stroke-width="1"/><line x1="1299.50" y1="272.50" x2="1289.80" y2="272.50" stroke="#262626" stroke-width="1"/><line x1="1024.00" y1="142.50" x2="1033.70" y2="142.50" stroke="#262626" stroke-width="1"/><line x1="1299.50" y1="142.50" x2="1289.80" y2="142.50" stroke="#262626" stroke-width="1"/><text transform="translate(1024.00,438.30) scale(1,1.04)" class="tk" text-anchor="middle">0</text><text transform="translate(1102.71,438.30) scale(1,1.04)" class="tk" text-anchor="middle">1000</text><text transform="translate(1181.43,438.30) scale(1,1.04)" class="tk" text-anchor="middle">2000</text><text transform="translate(1260.14,438.30) scale(1,1.04)" class="tk" text-anchor="middle">3000</text><text transform="translate(1013.60,412.80) scale(1,1.04)" class="tk" text-anchor="end">0</text><text transform="translate(1013.60,282.80) scale(1,1.04)" class="tk" text-anchor="end">5</text><text transform="translate(1013.60,152.80) scale(1,1.04)" class="tk" text-anchor="end">10</text><text transform="translate(1013.60,22.80) scale(1,1.04)" class="tk" text-anchor="end">15</text><text transform="translate(1161.5,475.1) " class="lab" text-anchor="middle" style="font-size:27.4px">Frequency (kHz)</text><text transform="translate(1263.8,61.3)" class="lab">c<tspan dx="1.0">)</tspan></text><text transform="translate(973.8,207.6) rotate(-90)" class="mth"><tspan x="-18.1" y="0">⟨</tspan><tspan x="-8.45" y="-3.2" style="font-size:24.4px">𝑛</tspan><tspan x="7.15" y="0">⟩</tspan></text><circle cx="1058.4" cy="88.9" r="3.4" fill="#0000ff"/><circle cx="1076.6" cy="190.3" r="3.4" fill="#0000ff"/><circle cx="1089.0" cy="226.7" r="3.4" fill="#0000ff"/><circle cx="1102.6" cy="252.7" r="3.4" fill="#0000ff"/><circle cx="1114.9" cy="268.6" r="3.4" fill="#0000ff"/><circle cx="1121.2" cy="275.1" r="3.4" fill="#0000ff"/><circle cx="1125.0" cy="277.8" r="3.4" fill="#0000ff"/><circle cx="1128.9" cy="280.6" r="3.4" fill="#0000ff"/><circle cx="1132.7" cy="283.3" r="3.4" fill="#0000ff"/><circle cx="1136.6" cy="286.1" r="3.4" fill="#0000ff"/><circle cx="1140.4" cy="288.8" r="3.4" fill="#0000ff"/><circle cx="1144.3" cy="291.6" r="3.4" fill="#0000ff"/><circle cx="1148.1" cy="294.3" r="3.4" fill="#0000ff"/><circle cx="1160.0" cy="299.8" r="3.4" fill="#0000ff"/><circle cx="1189.3" cy="308.6" r="3.4" fill="#0000ff"/><circle cx="1195.5" cy="309.9" r="3.4" fill="#0000ff"/><circle cx="1211.9" cy="312.4" r="3.4" fill="#0000ff"/><circle cx="1222.2" cy="313.6" r="3.4" fill="#0000ff"/><circle cx="1229.0" cy="314.3" r="3.4" fill="#0000ff"/><circle cx="1239.2" cy="315.0" r="3.4" fill="#0000ff"/><circle cx="1243.8" cy="315.2" r="3.4" fill="#0000ff"/><circle cx="1250.5" cy="315.5" r="3.4" fill="#0000ff"/><circle cx="1260.1" cy="315.5" r="3.4" fill="#0000ff"/><circle cx="1267.5" cy="315.8" r="3.4" fill="#0000ff"/><circle cx="1273.4" cy="315.8" r="3.4" fill="#0000ff"/><circle cx="1278.4" cy="315.8" r="3.4" fill="#0000ff"/></svg></body></html>
